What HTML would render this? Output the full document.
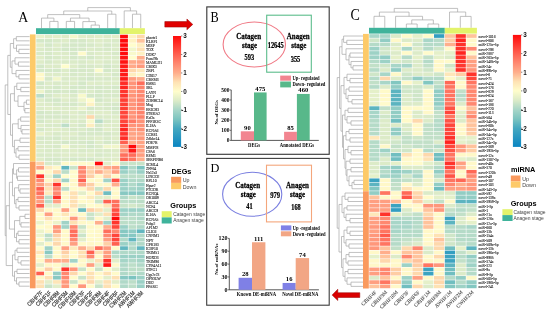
<!DOCTYPE html>
<html><head><meta charset="utf-8"><style>
html,body{margin:0;padding:0;background:#fff;width:550px;height:313px;overflow:hidden;}
svg{display:block;filter:blur(0.3px);}
</style></head><body>
<svg width="550" height="313" viewBox="0 0 550 313">
<rect width="550" height="313" fill="#fff"/>
<text transform="translate(18.20,22.00) scale(1,1.080)" font-family="Liberation Serif" font-size="13.80" font-weight="normal" fill="#000" text-anchor="start" >A</text>
<path d="M49.77 21.40L58.04 21.40M49.77 21.40L49.77 28.20M58.04 21.40L58.04 28.20M41.50 18.10L53.91 18.10M41.50 18.10L41.50 28.20M53.91 18.10L53.91 21.40M66.31 21.40L74.58 21.40M66.31 21.40L66.31 28.20M74.58 21.40L74.58 28.20M91.12 25.10L99.39 25.10M91.12 25.10L91.12 28.20M99.39 25.10L99.39 28.20M82.85 21.60L95.25 21.60M82.85 21.60L82.85 28.20M95.25 21.60L95.25 25.10M70.44 18.10L89.05 18.10M70.44 18.10L70.44 21.40M89.05 18.10L89.05 21.60M47.70 14.60L79.75 14.60M47.70 14.60L47.70 18.10M79.75 14.60L79.75 18.10M107.66 14.20L115.93 14.20M107.66 14.20L107.66 28.20M115.93 14.20L115.93 28.20M63.73 11.00L111.79 11.00M63.73 11.00L63.73 14.60M111.79 11.00L111.79 14.20M132.47 14.20L140.74 14.20M132.47 14.20L132.47 28.20M140.74 14.20L140.74 28.20M124.20 10.90L136.61 10.90M124.20 10.90L124.20 28.20M136.61 10.90L136.61 14.20M87.76 7.60L130.40 7.60M87.76 7.60L87.76 11.00M130.40 7.60L130.40 10.90" stroke="#a6a6a6" stroke-width="0.7" fill="none"/>
<rect x="36" y="28.2" width="83.8" height="5.9" fill="#3fb39b"/>
<rect x="119.8" y="28.2" width="25.1" height="5.9" fill="#e3f36b"/>
<rect x="29.9" y="34.4" width="5.7" height="127.3" fill="#fdca69"/>
<rect x="29.9" y="161.7" width="5.7" height="126.6" fill="#fa9a5e"/>
<rect x="36.27" y="34.77" width="7.83" height="3.68" fill="#eaf2ca"/>
<rect x="44.66" y="34.77" width="7.83" height="3.68" fill="#e0edc8"/>
<rect x="53.04" y="34.77" width="7.83" height="3.68" fill="#e4efc9"/>
<rect x="61.41" y="34.77" width="7.83" height="3.68" fill="#dfecc8"/>
<rect x="69.80" y="34.77" width="7.83" height="3.68" fill="#f4f8cb"/>
<rect x="78.18" y="34.77" width="7.83" height="3.68" fill="#e2eec9"/>
<rect x="86.56" y="34.77" width="7.83" height="3.68" fill="#dfecc8"/>
<rect x="94.94" y="34.77" width="7.83" height="3.68" fill="#e3efc9"/>
<rect x="103.32" y="34.77" width="7.83" height="3.68" fill="#dfecc8"/>
<rect x="111.70" y="34.77" width="7.83" height="3.68" fill="#e2eec9"/>
<rect x="120.08" y="34.77" width="7.83" height="3.68" fill="#ff0a0a"/>
<rect x="128.46" y="34.77" width="7.83" height="3.68" fill="#fff2c2"/>
<rect x="136.84" y="34.77" width="7.83" height="3.68" fill="#fed8ac"/>
<rect x="36.27" y="39.01" width="7.83" height="3.68" fill="#d4e8c8"/>
<rect x="44.66" y="39.01" width="7.83" height="3.68" fill="#d4e8c8"/>
<rect x="53.04" y="39.01" width="7.83" height="3.68" fill="#d9eac8"/>
<rect x="61.41" y="39.01" width="7.83" height="3.68" fill="#deecc8"/>
<rect x="69.80" y="39.01" width="7.83" height="3.68" fill="#d5e8c8"/>
<rect x="78.18" y="39.01" width="7.83" height="3.68" fill="#d6e8c8"/>
<rect x="86.56" y="39.01" width="7.83" height="3.68" fill="#dcebc8"/>
<rect x="94.94" y="39.01" width="7.83" height="3.68" fill="#dfecc8"/>
<rect x="103.32" y="39.01" width="7.83" height="3.68" fill="#dbebc8"/>
<rect x="111.70" y="39.01" width="7.83" height="3.68" fill="#d9eac8"/>
<rect x="120.08" y="39.01" width="7.83" height="3.68" fill="#ff0a0a"/>
<rect x="128.46" y="39.01" width="7.83" height="3.68" fill="#fff2c2"/>
<rect x="136.84" y="39.01" width="7.83" height="3.68" fill="#ffc39c"/>
<rect x="36.27" y="43.23" width="7.83" height="3.68" fill="#e0edc8"/>
<rect x="44.66" y="43.23" width="7.83" height="3.68" fill="#d4e8c8"/>
<rect x="53.04" y="43.23" width="7.83" height="3.68" fill="#deecc8"/>
<rect x="61.41" y="43.23" width="7.83" height="3.68" fill="#d7e9c8"/>
<rect x="69.80" y="43.23" width="7.83" height="3.68" fill="#d5e8c8"/>
<rect x="78.18" y="43.23" width="7.83" height="3.68" fill="#d5e8c8"/>
<rect x="86.56" y="43.23" width="7.83" height="3.68" fill="#d7e9c8"/>
<rect x="94.94" y="43.23" width="7.83" height="3.68" fill="#ddecc8"/>
<rect x="103.32" y="43.23" width="7.83" height="3.68" fill="#d6e8c8"/>
<rect x="111.70" y="43.23" width="7.83" height="3.68" fill="#dbebc8"/>
<rect x="120.08" y="43.23" width="7.83" height="3.68" fill="#ff0a0a"/>
<rect x="128.46" y="43.23" width="7.83" height="3.68" fill="#fffdcc"/>
<rect x="136.84" y="43.23" width="7.83" height="3.68" fill="#feedbe"/>
<rect x="36.27" y="47.46" width="7.83" height="3.68" fill="#dcebc8"/>
<rect x="44.66" y="47.46" width="7.83" height="3.68" fill="#d8e9c8"/>
<rect x="53.04" y="47.46" width="7.83" height="3.68" fill="#dbebc8"/>
<rect x="61.41" y="47.46" width="7.83" height="3.68" fill="#d4e8c8"/>
<rect x="69.80" y="47.46" width="7.83" height="3.68" fill="#d4e8c8"/>
<rect x="78.18" y="47.46" width="7.83" height="3.68" fill="#d6e8c8"/>
<rect x="86.56" y="47.46" width="7.83" height="3.68" fill="#ddebc8"/>
<rect x="94.94" y="47.46" width="7.83" height="3.68" fill="#d9eac8"/>
<rect x="103.32" y="47.46" width="7.83" height="3.68" fill="#d7e9c8"/>
<rect x="111.70" y="47.46" width="7.83" height="3.68" fill="#dbebc8"/>
<rect x="120.08" y="47.46" width="7.83" height="3.68" fill="#ff0a0a"/>
<rect x="128.46" y="47.46" width="7.83" height="3.68" fill="#f1f6ca"/>
<rect x="136.84" y="47.46" width="7.83" height="3.68" fill="#fee2b4"/>
<rect x="36.27" y="51.70" width="7.83" height="3.68" fill="#d9eac8"/>
<rect x="44.66" y="51.70" width="7.83" height="3.68" fill="#d7e9c8"/>
<rect x="53.04" y="51.70" width="7.83" height="3.68" fill="#ddecc8"/>
<rect x="61.41" y="51.70" width="7.83" height="3.68" fill="#ddebc8"/>
<rect x="69.80" y="51.70" width="7.83" height="3.68" fill="#d6e8c8"/>
<rect x="78.18" y="51.70" width="7.83" height="3.68" fill="#fffaca"/>
<rect x="86.56" y="51.70" width="7.83" height="3.68" fill="#daeac8"/>
<rect x="94.94" y="51.70" width="7.83" height="3.68" fill="#deecc8"/>
<rect x="103.32" y="51.70" width="7.83" height="3.68" fill="#ddebc8"/>
<rect x="111.70" y="51.70" width="7.83" height="3.68" fill="#d7e9c8"/>
<rect x="120.08" y="51.70" width="7.83" height="3.68" fill="#ff0a0a"/>
<rect x="128.46" y="51.70" width="7.83" height="3.68" fill="#f8f9cb"/>
<rect x="136.84" y="51.70" width="7.83" height="3.68" fill="#fff2c2"/>
<rect x="36.27" y="55.93" width="7.83" height="3.68" fill="#e0edc8"/>
<rect x="44.66" y="55.93" width="7.83" height="3.68" fill="#d5e8c8"/>
<rect x="53.04" y="55.93" width="7.83" height="3.68" fill="#d9eac8"/>
<rect x="61.41" y="55.93" width="7.83" height="3.68" fill="#ddecc8"/>
<rect x="69.80" y="55.93" width="7.83" height="3.68" fill="#d5e8c8"/>
<rect x="78.18" y="55.93" width="7.83" height="3.68" fill="#daeac8"/>
<rect x="86.56" y="55.93" width="7.83" height="3.68" fill="#d4e8c8"/>
<rect x="94.94" y="55.93" width="7.83" height="3.68" fill="#dcebc8"/>
<rect x="103.32" y="55.93" width="7.83" height="3.68" fill="#ddecc8"/>
<rect x="111.70" y="55.93" width="7.83" height="3.68" fill="#dbebc8"/>
<rect x="120.08" y="55.93" width="7.83" height="3.68" fill="#ff1311"/>
<rect x="128.46" y="55.93" width="7.83" height="3.68" fill="#fffdcc"/>
<rect x="136.84" y="55.93" width="7.83" height="3.68" fill="#ffae8c"/>
<rect x="36.27" y="60.16" width="7.83" height="3.68" fill="#deecc8"/>
<rect x="44.66" y="60.16" width="7.83" height="3.68" fill="#d7e9c8"/>
<rect x="53.04" y="60.16" width="7.83" height="3.68" fill="#ddebc8"/>
<rect x="61.41" y="60.16" width="7.83" height="3.68" fill="#dbebc8"/>
<rect x="69.80" y="60.16" width="7.83" height="3.68" fill="#dbebc8"/>
<rect x="78.18" y="60.16" width="7.83" height="3.68" fill="#d9eac8"/>
<rect x="86.56" y="60.16" width="7.83" height="3.68" fill="#deecc8"/>
<rect x="94.94" y="60.16" width="7.83" height="3.68" fill="#dfecc8"/>
<rect x="103.32" y="60.16" width="7.83" height="3.68" fill="#daeac8"/>
<rect x="111.70" y="60.16" width="7.83" height="3.68" fill="#dcebc8"/>
<rect x="120.08" y="60.16" width="7.83" height="3.68" fill="#ff1311"/>
<rect x="128.46" y="60.16" width="7.83" height="3.68" fill="#ffa988"/>
<rect x="136.84" y="60.16" width="7.83" height="3.68" fill="#ffa384"/>
<rect x="36.27" y="64.39" width="7.83" height="3.68" fill="#d4e8c8"/>
<rect x="44.66" y="64.39" width="7.83" height="3.68" fill="#ddebc8"/>
<rect x="53.04" y="64.39" width="7.83" height="3.68" fill="#dcebc8"/>
<rect x="61.41" y="64.39" width="7.83" height="3.68" fill="#fffdcc"/>
<rect x="69.80" y="64.39" width="7.83" height="3.68" fill="#deecc8"/>
<rect x="78.18" y="64.39" width="7.83" height="3.68" fill="#d7e9c8"/>
<rect x="86.56" y="64.39" width="7.83" height="3.68" fill="#d8e9c8"/>
<rect x="94.94" y="64.39" width="7.83" height="3.68" fill="#dcebc8"/>
<rect x="103.32" y="64.39" width="7.83" height="3.68" fill="#d3e7c8"/>
<rect x="111.70" y="64.39" width="7.83" height="3.68" fill="#d9eac8"/>
<rect x="120.08" y="64.39" width="7.83" height="3.68" fill="#ff1b18"/>
<rect x="128.46" y="64.39" width="7.83" height="3.68" fill="#ffa988"/>
<rect x="136.84" y="64.39" width="7.83" height="3.68" fill="#ff997c"/>
<rect x="36.27" y="68.62" width="7.83" height="3.68" fill="#d5e8c8"/>
<rect x="44.66" y="68.62" width="7.83" height="3.68" fill="#d5e8c8"/>
<rect x="53.04" y="68.62" width="7.83" height="3.68" fill="#d4e8c8"/>
<rect x="61.41" y="68.62" width="7.83" height="3.68" fill="#ddecc8"/>
<rect x="69.80" y="68.62" width="7.83" height="3.68" fill="#d5e8c8"/>
<rect x="78.18" y="68.62" width="7.83" height="3.68" fill="#d6e8c8"/>
<rect x="86.56" y="68.62" width="7.83" height="3.68" fill="#d8e9c8"/>
<rect x="94.94" y="68.62" width="7.83" height="3.68" fill="#fcfbcc"/>
<rect x="103.32" y="68.62" width="7.83" height="3.68" fill="#d4e8c8"/>
<rect x="111.70" y="68.62" width="7.83" height="3.68" fill="#d9eac8"/>
<rect x="120.08" y="68.62" width="7.83" height="3.68" fill="#ff1b18"/>
<rect x="128.46" y="68.62" width="7.83" height="3.68" fill="#fed8ac"/>
<rect x="136.84" y="68.62" width="7.83" height="3.68" fill="#fee7b9"/>
<rect x="36.27" y="72.85" width="7.83" height="3.68" fill="#fff9c8"/>
<rect x="44.66" y="72.85" width="7.83" height="3.68" fill="#deecc8"/>
<rect x="53.04" y="72.85" width="7.83" height="3.68" fill="#ddecc8"/>
<rect x="61.41" y="72.85" width="7.83" height="3.68" fill="#deecc8"/>
<rect x="69.80" y="72.85" width="7.83" height="3.68" fill="#d7e9c8"/>
<rect x="78.18" y="72.85" width="7.83" height="3.68" fill="#d9eac8"/>
<rect x="86.56" y="72.85" width="7.83" height="3.68" fill="#d8e9c8"/>
<rect x="94.94" y="72.85" width="7.83" height="3.68" fill="#deecc8"/>
<rect x="103.32" y="72.85" width="7.83" height="3.68" fill="#dfecc8"/>
<rect x="111.70" y="72.85" width="7.83" height="3.68" fill="#d5e8c8"/>
<rect x="120.08" y="72.85" width="7.83" height="3.68" fill="#ff1b18"/>
<rect x="128.46" y="72.85" width="7.83" height="3.68" fill="#feedbe"/>
<rect x="136.84" y="72.85" width="7.83" height="3.68" fill="#fff8c7"/>
<rect x="36.27" y="77.08" width="7.83" height="3.68" fill="#fff8c7"/>
<rect x="44.66" y="77.08" width="7.83" height="3.68" fill="#d6e8c8"/>
<rect x="53.04" y="77.08" width="7.83" height="3.68" fill="#f1f6ca"/>
<rect x="61.41" y="77.08" width="7.83" height="3.68" fill="#daeac8"/>
<rect x="69.80" y="77.08" width="7.83" height="3.68" fill="#dbebc8"/>
<rect x="78.18" y="77.08" width="7.83" height="3.68" fill="#d7e9c8"/>
<rect x="86.56" y="77.08" width="7.83" height="3.68" fill="#d3e7c8"/>
<rect x="94.94" y="77.08" width="7.83" height="3.68" fill="#d9eac8"/>
<rect x="103.32" y="77.08" width="7.83" height="3.68" fill="#d8e9c8"/>
<rect x="111.70" y="77.08" width="7.83" height="3.68" fill="#dbebc8"/>
<rect x="120.08" y="77.08" width="7.83" height="3.68" fill="#ff1b18"/>
<rect x="128.46" y="77.08" width="7.83" height="3.68" fill="#ff9e80"/>
<rect x="136.84" y="77.08" width="7.83" height="3.68" fill="#ffae8c"/>
<rect x="36.27" y="81.31" width="7.83" height="3.68" fill="#d2e7c8"/>
<rect x="44.66" y="81.31" width="7.83" height="3.68" fill="#ddebc8"/>
<rect x="53.04" y="81.31" width="7.83" height="3.68" fill="#daeac8"/>
<rect x="61.41" y="81.31" width="7.83" height="3.68" fill="#dcebc8"/>
<rect x="69.80" y="81.31" width="7.83" height="3.68" fill="#dcebc8"/>
<rect x="78.18" y="81.31" width="7.83" height="3.68" fill="#d4e8c8"/>
<rect x="86.56" y="81.31" width="7.83" height="3.68" fill="#dfecc8"/>
<rect x="94.94" y="81.31" width="7.83" height="3.68" fill="#ddecc8"/>
<rect x="103.32" y="81.31" width="7.83" height="3.68" fill="#deecc8"/>
<rect x="111.70" y="81.31" width="7.83" height="3.68" fill="#ddecc8"/>
<rect x="120.08" y="81.31" width="7.83" height="3.68" fill="#ff2c26"/>
<rect x="128.46" y="81.31" width="7.83" height="3.68" fill="#ff9378"/>
<rect x="136.84" y="81.31" width="7.83" height="3.68" fill="#ff6d5a"/>
<rect x="36.27" y="85.54" width="7.83" height="3.68" fill="#d8e9c8"/>
<rect x="44.66" y="85.54" width="7.83" height="3.68" fill="#d9eac8"/>
<rect x="53.04" y="85.54" width="7.83" height="3.68" fill="#d4e8c8"/>
<rect x="61.41" y="85.54" width="7.83" height="3.68" fill="#dcebc8"/>
<rect x="69.80" y="85.54" width="7.83" height="3.68" fill="#d4e8c8"/>
<rect x="78.18" y="85.54" width="7.83" height="3.68" fill="#d4e8c8"/>
<rect x="86.56" y="85.54" width="7.83" height="3.68" fill="#d6e8c8"/>
<rect x="94.94" y="85.54" width="7.83" height="3.68" fill="#d5e8c8"/>
<rect x="103.32" y="85.54" width="7.83" height="3.68" fill="#d8e9c8"/>
<rect x="111.70" y="85.54" width="7.83" height="3.68" fill="#d4e8c8"/>
<rect x="120.08" y="85.54" width="7.83" height="3.68" fill="#ff241f"/>
<rect x="128.46" y="85.54" width="7.83" height="3.68" fill="#ff9378"/>
<rect x="136.84" y="85.54" width="7.83" height="3.68" fill="#ff836c"/>
<rect x="36.27" y="89.77" width="7.83" height="3.68" fill="#eef4ca"/>
<rect x="44.66" y="89.77" width="7.83" height="3.68" fill="#d5e8c8"/>
<rect x="53.04" y="89.77" width="7.83" height="3.68" fill="#d4e8c8"/>
<rect x="61.41" y="89.77" width="7.83" height="3.68" fill="#d8e9c8"/>
<rect x="69.80" y="89.77" width="7.83" height="3.68" fill="#d3e7c8"/>
<rect x="78.18" y="89.77" width="7.83" height="3.68" fill="#deecc8"/>
<rect x="86.56" y="89.77" width="7.83" height="3.68" fill="#dcebc8"/>
<rect x="94.94" y="89.77" width="7.83" height="3.68" fill="#d5e8c8"/>
<rect x="103.32" y="89.77" width="7.83" height="3.68" fill="#d7e9c8"/>
<rect x="111.70" y="89.77" width="7.83" height="3.68" fill="#d8e9c8"/>
<rect x="120.08" y="89.77" width="7.83" height="3.68" fill="#ff352d"/>
<rect x="128.46" y="89.77" width="7.83" height="3.68" fill="#ff997c"/>
<rect x="136.84" y="89.77" width="7.83" height="3.68" fill="#ff8971"/>
<rect x="36.27" y="94.00" width="7.83" height="3.68" fill="#bddec8"/>
<rect x="44.66" y="94.00" width="7.83" height="3.68" fill="#d5e8c8"/>
<rect x="53.04" y="94.00" width="7.83" height="3.68" fill="#deecc8"/>
<rect x="61.41" y="94.00" width="7.83" height="3.68" fill="#e0edc8"/>
<rect x="69.80" y="94.00" width="7.83" height="3.68" fill="#daeac8"/>
<rect x="78.18" y="94.00" width="7.83" height="3.68" fill="#f8f9cb"/>
<rect x="86.56" y="94.00" width="7.83" height="3.68" fill="#d4e8c8"/>
<rect x="94.94" y="94.00" width="7.83" height="3.68" fill="#d4e8c8"/>
<rect x="103.32" y="94.00" width="7.83" height="3.68" fill="#d8e9c8"/>
<rect x="111.70" y="94.00" width="7.83" height="3.68" fill="#d7e9c8"/>
<rect x="120.08" y="94.00" width="7.83" height="3.68" fill="#ff352d"/>
<rect x="128.46" y="94.00" width="7.83" height="3.68" fill="#ff9378"/>
<rect x="136.84" y="94.00" width="7.83" height="3.68" fill="#ff8971"/>
<rect x="36.27" y="98.23" width="7.83" height="3.68" fill="#deecc8"/>
<rect x="44.66" y="98.23" width="7.83" height="3.68" fill="#d5e8c8"/>
<rect x="53.04" y="98.23" width="7.83" height="3.68" fill="#d3e7c8"/>
<rect x="61.41" y="98.23" width="7.83" height="3.68" fill="#dfecc8"/>
<rect x="69.80" y="98.23" width="7.83" height="3.68" fill="#daeac8"/>
<rect x="78.18" y="98.23" width="7.83" height="3.68" fill="#eef4ca"/>
<rect x="86.56" y="98.23" width="7.83" height="3.68" fill="#fffdcc"/>
<rect x="94.94" y="98.23" width="7.83" height="3.68" fill="#d3e7c8"/>
<rect x="103.32" y="98.23" width="7.83" height="3.68" fill="#daeac8"/>
<rect x="111.70" y="98.23" width="7.83" height="3.68" fill="#e0edc8"/>
<rect x="120.08" y="98.23" width="7.83" height="3.68" fill="#ff3e34"/>
<rect x="128.46" y="98.23" width="7.83" height="3.68" fill="#ff9378"/>
<rect x="136.84" y="98.23" width="7.83" height="3.68" fill="#ff836c"/>
<rect x="36.27" y="102.46" width="7.83" height="3.68" fill="#deecc8"/>
<rect x="44.66" y="102.46" width="7.83" height="3.68" fill="#ddebc8"/>
<rect x="53.04" y="102.46" width="7.83" height="3.68" fill="#d7e9c8"/>
<rect x="61.41" y="102.46" width="7.83" height="3.68" fill="#d8e9c8"/>
<rect x="69.80" y="102.46" width="7.83" height="3.68" fill="#d5e8c8"/>
<rect x="78.18" y="102.46" width="7.83" height="3.68" fill="#ddecc8"/>
<rect x="86.56" y="102.46" width="7.83" height="3.68" fill="#fff2c2"/>
<rect x="94.94" y="102.46" width="7.83" height="3.68" fill="#ddecc8"/>
<rect x="103.32" y="102.46" width="7.83" height="3.68" fill="#d8e9c8"/>
<rect x="111.70" y="102.46" width="7.83" height="3.68" fill="#d6e8c8"/>
<rect x="120.08" y="102.46" width="7.83" height="3.68" fill="#ff3e34"/>
<rect x="128.46" y="102.46" width="7.83" height="3.68" fill="#ff9378"/>
<rect x="136.84" y="102.46" width="7.83" height="3.68" fill="#ff836c"/>
<rect x="36.27" y="106.69" width="7.83" height="3.68" fill="#ddecc8"/>
<rect x="44.66" y="106.69" width="7.83" height="3.68" fill="#e0edc8"/>
<rect x="53.04" y="106.69" width="7.83" height="3.68" fill="#deecc8"/>
<rect x="61.41" y="106.69" width="7.83" height="3.68" fill="#ddecc8"/>
<rect x="69.80" y="106.69" width="7.83" height="3.68" fill="#ddecc8"/>
<rect x="78.18" y="106.69" width="7.83" height="3.68" fill="#eaf2ca"/>
<rect x="86.56" y="106.69" width="7.83" height="3.68" fill="#d6e8c8"/>
<rect x="94.94" y="106.69" width="7.83" height="3.68" fill="#daeac8"/>
<rect x="103.32" y="106.69" width="7.83" height="3.68" fill="#d8e9c8"/>
<rect x="111.70" y="106.69" width="7.83" height="3.68" fill="#d3e7c8"/>
<rect x="120.08" y="106.69" width="7.83" height="3.68" fill="#ff3e34"/>
<rect x="128.46" y="106.69" width="7.83" height="3.68" fill="#ff9378"/>
<rect x="136.84" y="106.69" width="7.83" height="3.68" fill="#ff836c"/>
<rect x="36.27" y="110.92" width="7.83" height="3.68" fill="#d3e7c8"/>
<rect x="44.66" y="110.92" width="7.83" height="3.68" fill="#d7e9c8"/>
<rect x="53.04" y="110.92" width="7.83" height="3.68" fill="#d7e9c8"/>
<rect x="61.41" y="110.92" width="7.83" height="3.68" fill="#ddebc8"/>
<rect x="69.80" y="110.92" width="7.83" height="3.68" fill="#dfecc8"/>
<rect x="78.18" y="110.92" width="7.83" height="3.68" fill="#d9eac8"/>
<rect x="86.56" y="110.92" width="7.83" height="3.68" fill="#dfecc8"/>
<rect x="94.94" y="110.92" width="7.83" height="3.68" fill="#e0edc8"/>
<rect x="103.32" y="110.92" width="7.83" height="3.68" fill="#dfecc8"/>
<rect x="111.70" y="110.92" width="7.83" height="3.68" fill="#d8e9c8"/>
<rect x="120.08" y="110.92" width="7.83" height="3.68" fill="#ff463b"/>
<rect x="128.46" y="110.92" width="7.83" height="3.68" fill="#ff9378"/>
<rect x="136.84" y="110.92" width="7.83" height="3.68" fill="#ff836c"/>
<rect x="36.27" y="115.15" width="7.83" height="3.68" fill="#d6e8c8"/>
<rect x="44.66" y="115.15" width="7.83" height="3.68" fill="#d6e8c8"/>
<rect x="53.04" y="115.15" width="7.83" height="3.68" fill="#d6e8c8"/>
<rect x="61.41" y="115.15" width="7.83" height="3.68" fill="#d6e8c8"/>
<rect x="69.80" y="115.15" width="7.83" height="3.68" fill="#dcebc8"/>
<rect x="78.18" y="115.15" width="7.83" height="3.68" fill="#dfecc8"/>
<rect x="86.56" y="115.15" width="7.83" height="3.68" fill="#fed8ac"/>
<rect x="94.94" y="115.15" width="7.83" height="3.68" fill="#daeac8"/>
<rect x="103.32" y="115.15" width="7.83" height="3.68" fill="#dcebc8"/>
<rect x="111.70" y="115.15" width="7.83" height="3.68" fill="#ddecc8"/>
<rect x="120.08" y="115.15" width="7.83" height="3.68" fill="#ff463b"/>
<rect x="128.46" y="115.15" width="7.83" height="3.68" fill="#ff9378"/>
<rect x="136.84" y="115.15" width="7.83" height="3.68" fill="#ff836c"/>
<rect x="36.27" y="119.38" width="7.83" height="3.68" fill="#d4e8c8"/>
<rect x="44.66" y="119.38" width="7.83" height="3.68" fill="#dcebc8"/>
<rect x="53.04" y="119.38" width="7.83" height="3.68" fill="#dfecc8"/>
<rect x="61.41" y="119.38" width="7.83" height="3.68" fill="#ddecc8"/>
<rect x="69.80" y="119.38" width="7.83" height="3.68" fill="#ddecc8"/>
<rect x="78.18" y="119.38" width="7.83" height="3.68" fill="#daeac8"/>
<rect x="86.56" y="119.38" width="7.83" height="3.68" fill="#f8f9cb"/>
<rect x="94.94" y="119.38" width="7.83" height="3.68" fill="#b8dcc8"/>
<rect x="103.32" y="119.38" width="7.83" height="3.68" fill="#d8e9c8"/>
<rect x="111.70" y="119.38" width="7.83" height="3.68" fill="#ddecc8"/>
<rect x="120.08" y="119.38" width="7.83" height="3.68" fill="#ff463b"/>
<rect x="128.46" y="119.38" width="7.83" height="3.68" fill="#ff7863"/>
<rect x="136.84" y="119.38" width="7.83" height="3.68" fill="#ff9378"/>
<rect x="36.27" y="123.61" width="7.83" height="3.68" fill="#e0edc8"/>
<rect x="44.66" y="123.61" width="7.83" height="3.68" fill="#d9eac8"/>
<rect x="53.04" y="123.61" width="7.83" height="3.68" fill="#d9eac8"/>
<rect x="61.41" y="123.61" width="7.83" height="3.68" fill="#bddec8"/>
<rect x="69.80" y="123.61" width="7.83" height="3.68" fill="#ddebc8"/>
<rect x="78.18" y="123.61" width="7.83" height="3.68" fill="#d5e8c8"/>
<rect x="86.56" y="123.61" width="7.83" height="3.68" fill="#feedbe"/>
<rect x="94.94" y="123.61" width="7.83" height="3.68" fill="#d5e8c8"/>
<rect x="103.32" y="123.61" width="7.83" height="3.68" fill="#dfecc8"/>
<rect x="111.70" y="123.61" width="7.83" height="3.68" fill="#ddecc8"/>
<rect x="120.08" y="123.61" width="7.83" height="3.68" fill="#ff352d"/>
<rect x="128.46" y="123.61" width="7.83" height="3.68" fill="#ff9378"/>
<rect x="136.84" y="123.61" width="7.83" height="3.68" fill="#ff9378"/>
<rect x="36.27" y="127.84" width="7.83" height="3.68" fill="#d5e8c8"/>
<rect x="44.66" y="127.84" width="7.83" height="3.68" fill="#deecc8"/>
<rect x="53.04" y="127.84" width="7.83" height="3.68" fill="#e0edc8"/>
<rect x="61.41" y="127.84" width="7.83" height="3.68" fill="#dcebc8"/>
<rect x="69.80" y="127.84" width="7.83" height="3.68" fill="#d8e9c8"/>
<rect x="78.18" y="127.84" width="7.83" height="3.68" fill="#dbebc8"/>
<rect x="86.56" y="127.84" width="7.83" height="3.68" fill="#d5e8c8"/>
<rect x="94.94" y="127.84" width="7.83" height="3.68" fill="#d3e7c8"/>
<rect x="103.32" y="127.84" width="7.83" height="3.68" fill="#e0edc8"/>
<rect x="111.70" y="127.84" width="7.83" height="3.68" fill="#dcebc8"/>
<rect x="120.08" y="127.84" width="7.83" height="3.68" fill="#ff241f"/>
<rect x="128.46" y="127.84" width="7.83" height="3.68" fill="#ff9e80"/>
<rect x="136.84" y="127.84" width="7.83" height="3.68" fill="#ff9378"/>
<rect x="36.27" y="132.07" width="7.83" height="3.68" fill="#eaf2ca"/>
<rect x="44.66" y="132.07" width="7.83" height="3.68" fill="#dfecc8"/>
<rect x="53.04" y="132.07" width="7.83" height="3.68" fill="#d9eac8"/>
<rect x="61.41" y="132.07" width="7.83" height="3.68" fill="#deecc8"/>
<rect x="69.80" y="132.07" width="7.83" height="3.68" fill="#deecc8"/>
<rect x="78.18" y="132.07" width="7.83" height="3.68" fill="#d6e8c8"/>
<rect x="86.56" y="132.07" width="7.83" height="3.68" fill="#d7e9c8"/>
<rect x="94.94" y="132.07" width="7.83" height="3.68" fill="#d7e9c8"/>
<rect x="103.32" y="132.07" width="7.83" height="3.68" fill="#d6e8c8"/>
<rect x="111.70" y="132.07" width="7.83" height="3.68" fill="#dbebc8"/>
<rect x="120.08" y="132.07" width="7.83" height="3.68" fill="#ff352d"/>
<rect x="128.46" y="132.07" width="7.83" height="3.68" fill="#ffa384"/>
<rect x="136.84" y="132.07" width="7.83" height="3.68" fill="#ffa384"/>
<rect x="36.27" y="136.30" width="7.83" height="3.68" fill="#d7e9c8"/>
<rect x="44.66" y="136.30" width="7.83" height="3.68" fill="#d9eac8"/>
<rect x="53.04" y="136.30" width="7.83" height="3.68" fill="#d5e8c8"/>
<rect x="61.41" y="136.30" width="7.83" height="3.68" fill="#dfecc8"/>
<rect x="69.80" y="136.30" width="7.83" height="3.68" fill="#d8e9c8"/>
<rect x="78.18" y="136.30" width="7.83" height="3.68" fill="#d9eac8"/>
<rect x="86.56" y="136.30" width="7.83" height="3.68" fill="#dbebc8"/>
<rect x="94.94" y="136.30" width="7.83" height="3.68" fill="#dfecc8"/>
<rect x="103.32" y="136.30" width="7.83" height="3.68" fill="#d9eac8"/>
<rect x="111.70" y="136.30" width="7.83" height="3.68" fill="#dfecc8"/>
<rect x="120.08" y="136.30" width="7.83" height="3.68" fill="#ff2c26"/>
<rect x="128.46" y="136.30" width="7.83" height="3.68" fill="#ffa384"/>
<rect x="136.84" y="136.30" width="7.83" height="3.68" fill="#ff997c"/>
<rect x="36.27" y="140.53" width="7.83" height="3.68" fill="#daeac8"/>
<rect x="44.66" y="140.53" width="7.83" height="3.68" fill="#daeac8"/>
<rect x="53.04" y="140.53" width="7.83" height="3.68" fill="#daeac8"/>
<rect x="61.41" y="140.53" width="7.83" height="3.68" fill="#d3e7c8"/>
<rect x="69.80" y="140.53" width="7.83" height="3.68" fill="#d9eac8"/>
<rect x="78.18" y="140.53" width="7.83" height="3.68" fill="#d6e8c8"/>
<rect x="86.56" y="140.53" width="7.83" height="3.68" fill="#d3e7c8"/>
<rect x="94.94" y="140.53" width="7.83" height="3.68" fill="#ddecc8"/>
<rect x="103.32" y="140.53" width="7.83" height="3.68" fill="#d5e8c8"/>
<rect x="111.70" y="140.53" width="7.83" height="3.68" fill="#daeac8"/>
<rect x="120.08" y="140.53" width="7.83" height="3.68" fill="#ff6050"/>
<rect x="128.46" y="140.53" width="7.83" height="3.68" fill="#ffae8c"/>
<rect x="136.84" y="140.53" width="7.83" height="3.68" fill="#ffa384"/>
<rect x="36.27" y="144.76" width="7.83" height="3.68" fill="#ddebc8"/>
<rect x="44.66" y="144.76" width="7.83" height="3.68" fill="#dbebc8"/>
<rect x="53.04" y="144.76" width="7.83" height="3.68" fill="#d8e9c8"/>
<rect x="61.41" y="144.76" width="7.83" height="3.68" fill="#f4f8cb"/>
<rect x="69.80" y="144.76" width="7.83" height="3.68" fill="#dbebc8"/>
<rect x="78.18" y="144.76" width="7.83" height="3.68" fill="#ddecc8"/>
<rect x="86.56" y="144.76" width="7.83" height="3.68" fill="#d4e8c8"/>
<rect x="94.94" y="144.76" width="7.83" height="3.68" fill="#dbebc8"/>
<rect x="103.32" y="144.76" width="7.83" height="3.68" fill="#f1f6ca"/>
<rect x="111.70" y="144.76" width="7.83" height="3.68" fill="#f1f6ca"/>
<rect x="120.08" y="144.76" width="7.83" height="3.68" fill="#ff9f81"/>
<rect x="128.46" y="144.76" width="7.83" height="3.68" fill="#ff0a0a"/>
<rect x="136.84" y="144.76" width="7.83" height="3.68" fill="#ffa384"/>
<rect x="36.27" y="148.99" width="7.83" height="3.68" fill="#ddecc8"/>
<rect x="44.66" y="148.99" width="7.83" height="3.68" fill="#daeac8"/>
<rect x="53.04" y="148.99" width="7.83" height="3.68" fill="#dbebc8"/>
<rect x="61.41" y="148.99" width="7.83" height="3.68" fill="#ddecc8"/>
<rect x="69.80" y="148.99" width="7.83" height="3.68" fill="#dfecc8"/>
<rect x="78.18" y="148.99" width="7.83" height="3.68" fill="#d9eac8"/>
<rect x="86.56" y="148.99" width="7.83" height="3.68" fill="#dcebc8"/>
<rect x="94.94" y="148.99" width="7.83" height="3.68" fill="#daeac8"/>
<rect x="103.32" y="148.99" width="7.83" height="3.68" fill="#daeac8"/>
<rect x="111.70" y="148.99" width="7.83" height="3.68" fill="#ddebc8"/>
<rect x="120.08" y="148.99" width="7.83" height="3.68" fill="#ff977b"/>
<rect x="128.46" y="148.99" width="7.83" height="3.68" fill="#ff1b18"/>
<rect x="136.84" y="148.99" width="7.83" height="3.68" fill="#ff9e80"/>
<rect x="36.27" y="153.22" width="7.83" height="3.68" fill="#d9eac8"/>
<rect x="44.66" y="153.22" width="7.83" height="3.68" fill="#daeac8"/>
<rect x="53.04" y="153.22" width="7.83" height="3.68" fill="#daeac8"/>
<rect x="61.41" y="153.22" width="7.83" height="3.68" fill="#dfecc8"/>
<rect x="69.80" y="153.22" width="7.83" height="3.68" fill="#ddebc8"/>
<rect x="78.18" y="153.22" width="7.83" height="3.68" fill="#deecc8"/>
<rect x="86.56" y="153.22" width="7.83" height="3.68" fill="#dfecc8"/>
<rect x="94.94" y="153.22" width="7.83" height="3.68" fill="#d7e9c8"/>
<rect x="103.32" y="153.22" width="7.83" height="3.68" fill="#dbebc8"/>
<rect x="111.70" y="153.22" width="7.83" height="3.68" fill="#dfecc8"/>
<rect x="120.08" y="153.22" width="7.83" height="3.68" fill="#ff705d"/>
<rect x="128.46" y="153.22" width="7.83" height="3.68" fill="#ff6d5a"/>
<rect x="136.84" y="153.22" width="7.83" height="3.68" fill="#ff9e80"/>
<rect x="36.27" y="157.45" width="7.83" height="3.68" fill="#deecc8"/>
<rect x="44.66" y="157.45" width="7.83" height="3.68" fill="#d5e8c8"/>
<rect x="53.04" y="157.45" width="7.83" height="3.68" fill="#d5e8c8"/>
<rect x="61.41" y="157.45" width="7.83" height="3.68" fill="#d9eac8"/>
<rect x="69.80" y="157.45" width="7.83" height="3.68" fill="#d4e8c8"/>
<rect x="78.18" y="157.45" width="7.83" height="3.68" fill="#d6e8c8"/>
<rect x="86.56" y="157.45" width="7.83" height="3.68" fill="#d4e8c8"/>
<rect x="94.94" y="157.45" width="7.83" height="3.68" fill="#dcebc8"/>
<rect x="103.32" y="157.45" width="7.83" height="3.68" fill="#ddecc8"/>
<rect x="111.70" y="157.45" width="7.83" height="3.68" fill="#dfecc8"/>
<rect x="120.08" y="157.45" width="7.83" height="3.68" fill="#ff6050"/>
<rect x="128.46" y="157.45" width="7.83" height="3.68" fill="#ff7863"/>
<rect x="136.84" y="157.45" width="7.83" height="3.68" fill="#ffae8c"/>
<rect x="36.27" y="161.68" width="7.83" height="3.68" fill="#fecfa6"/>
<rect x="44.66" y="161.68" width="7.83" height="3.68" fill="#d8e9c8"/>
<rect x="53.04" y="161.68" width="7.83" height="3.68" fill="#d8e9c8"/>
<rect x="61.41" y="161.68" width="7.83" height="3.68" fill="#fffac9"/>
<rect x="69.80" y="161.68" width="7.83" height="3.68" fill="#fffac9"/>
<rect x="78.18" y="161.68" width="7.83" height="3.68" fill="#fffac9"/>
<rect x="86.56" y="161.68" width="7.83" height="3.68" fill="#fffac9"/>
<rect x="94.94" y="161.68" width="7.83" height="3.68" fill="#ff0a0a"/>
<rect x="103.32" y="161.68" width="7.83" height="3.68" fill="#e3eec9"/>
<rect x="111.70" y="161.68" width="7.83" height="3.68" fill="#fffac9"/>
<rect x="120.08" y="161.68" width="7.83" height="3.68" fill="#c8e3c8"/>
<rect x="128.46" y="161.68" width="7.83" height="3.68" fill="#c8e3c8"/>
<rect x="136.84" y="161.68" width="7.83" height="3.68" fill="#c8e3c8"/>
<rect x="36.27" y="165.91" width="7.83" height="3.68" fill="#ff9f81"/>
<rect x="44.66" y="165.91" width="7.83" height="3.68" fill="#feebbc"/>
<rect x="53.04" y="165.91" width="7.83" height="3.68" fill="#fff8c8"/>
<rect x="61.41" y="165.91" width="7.83" height="3.68" fill="#60b6c0"/>
<rect x="69.80" y="165.91" width="7.83" height="3.68" fill="#cae4c8"/>
<rect x="78.18" y="165.91" width="7.83" height="3.68" fill="#ff8870"/>
<rect x="86.56" y="165.91" width="7.83" height="3.68" fill="#fecfa6"/>
<rect x="94.94" y="165.91" width="7.83" height="3.68" fill="#fecfa6"/>
<rect x="103.32" y="165.91" width="7.83" height="3.68" fill="#ffae8c"/>
<rect x="111.70" y="165.91" width="7.83" height="3.68" fill="#ff9f81"/>
<rect x="120.08" y="165.91" width="7.83" height="3.68" fill="#87c8c2"/>
<rect x="128.46" y="165.91" width="7.83" height="3.68" fill="#b0d9c8"/>
<rect x="136.84" y="165.91" width="7.83" height="3.68" fill="#7cc4c0"/>
<rect x="36.27" y="170.14" width="7.83" height="3.68" fill="#fffdcc"/>
<rect x="44.66" y="170.14" width="7.83" height="3.68" fill="#fff8c8"/>
<rect x="53.04" y="170.14" width="7.83" height="3.68" fill="#fed8ac"/>
<rect x="61.41" y="170.14" width="7.83" height="3.68" fill="#bcdec8"/>
<rect x="69.80" y="170.14" width="7.83" height="3.68" fill="#fffbcb"/>
<rect x="78.18" y="170.14" width="7.83" height="3.68" fill="#ff8870"/>
<rect x="86.56" y="170.14" width="7.83" height="3.68" fill="#fecfa6"/>
<rect x="94.94" y="170.14" width="7.83" height="3.68" fill="#ffae8c"/>
<rect x="103.32" y="170.14" width="7.83" height="3.68" fill="#fecfa6"/>
<rect x="111.70" y="170.14" width="7.83" height="3.68" fill="#ff9f81"/>
<rect x="120.08" y="170.14" width="7.83" height="3.68" fill="#9bd1c6"/>
<rect x="128.46" y="170.14" width="7.83" height="3.68" fill="#b0d9c8"/>
<rect x="136.84" y="170.14" width="7.83" height="3.68" fill="#9bd1c6"/>
<rect x="36.27" y="174.37" width="7.83" height="3.68" fill="#ff352d"/>
<rect x="44.66" y="174.37" width="7.83" height="3.68" fill="#ecf3ca"/>
<rect x="53.04" y="174.37" width="7.83" height="3.68" fill="#a1d3c7"/>
<rect x="61.41" y="174.37" width="7.83" height="3.68" fill="#fffdcc"/>
<rect x="69.80" y="174.37" width="7.83" height="3.68" fill="#fffdcc"/>
<rect x="78.18" y="174.37" width="7.83" height="3.68" fill="#ff8870"/>
<rect x="86.56" y="174.37" width="7.83" height="3.68" fill="#fecfa6"/>
<rect x="94.94" y="174.37" width="7.83" height="3.68" fill="#fff8c8"/>
<rect x="103.32" y="174.37" width="7.83" height="3.68" fill="#fecfa6"/>
<rect x="111.70" y="174.37" width="7.83" height="3.68" fill="#fffac9"/>
<rect x="120.08" y="174.37" width="7.83" height="3.68" fill="#bcdec8"/>
<rect x="128.46" y="174.37" width="7.83" height="3.68" fill="#bcdec8"/>
<rect x="136.84" y="174.37" width="7.83" height="3.68" fill="#bcdec8"/>
<rect x="36.27" y="178.60" width="7.83" height="3.68" fill="#ff8870"/>
<rect x="44.66" y="178.60" width="7.83" height="3.68" fill="#fff8c8"/>
<rect x="53.04" y="178.60" width="7.83" height="3.68" fill="#fed8ac"/>
<rect x="61.41" y="178.60" width="7.83" height="3.68" fill="#a1d3c7"/>
<rect x="69.80" y="178.60" width="7.83" height="3.68" fill="#fff8c8"/>
<rect x="78.18" y="178.60" width="7.83" height="3.68" fill="#ff6050"/>
<rect x="86.56" y="178.60" width="7.83" height="3.68" fill="#fffac9"/>
<rect x="94.94" y="178.60" width="7.83" height="3.68" fill="#fff8c8"/>
<rect x="103.32" y="178.60" width="7.83" height="3.68" fill="#a1d3c7"/>
<rect x="111.70" y="178.60" width="7.83" height="3.68" fill="#ff4f42"/>
<rect x="120.08" y="178.60" width="7.83" height="3.68" fill="#9bd1c6"/>
<rect x="128.46" y="178.60" width="7.83" height="3.68" fill="#b0d9c8"/>
<rect x="136.84" y="178.60" width="7.83" height="3.68" fill="#b0d9c8"/>
<rect x="36.27" y="182.83" width="7.83" height="3.68" fill="#ff9f81"/>
<rect x="44.66" y="182.83" width="7.83" height="3.68" fill="#fecfa6"/>
<rect x="53.04" y="182.83" width="7.83" height="3.68" fill="#ff352d"/>
<rect x="61.41" y="182.83" width="7.83" height="3.68" fill="#fffac9"/>
<rect x="69.80" y="182.83" width="7.83" height="3.68" fill="#fff8c8"/>
<rect x="78.18" y="182.83" width="7.83" height="3.68" fill="#ff9f81"/>
<rect x="86.56" y="182.83" width="7.83" height="3.68" fill="#fecfa6"/>
<rect x="94.94" y="182.83" width="7.83" height="3.68" fill="#fff8c8"/>
<rect x="103.32" y="182.83" width="7.83" height="3.68" fill="#fff8c8"/>
<rect x="111.70" y="182.83" width="7.83" height="3.68" fill="#ffae8c"/>
<rect x="120.08" y="182.83" width="7.83" height="3.68" fill="#9bd1c6"/>
<rect x="128.46" y="182.83" width="7.83" height="3.68" fill="#b0d9c8"/>
<rect x="136.84" y="182.83" width="7.83" height="3.68" fill="#9bd1c6"/>
<rect x="36.27" y="187.06" width="7.83" height="3.68" fill="#ff6050"/>
<rect x="44.66" y="187.06" width="7.83" height="3.68" fill="#fee1b3"/>
<rect x="53.04" y="187.06" width="7.83" height="3.68" fill="#ff8870"/>
<rect x="61.41" y="187.06" width="7.83" height="3.68" fill="#bcdec8"/>
<rect x="69.80" y="187.06" width="7.83" height="3.68" fill="#fffac9"/>
<rect x="78.18" y="187.06" width="7.83" height="3.68" fill="#fff8c8"/>
<rect x="86.56" y="187.06" width="7.83" height="3.68" fill="#fed8ac"/>
<rect x="94.94" y="187.06" width="7.83" height="3.68" fill="#cae4c8"/>
<rect x="103.32" y="187.06" width="7.83" height="3.68" fill="#fed8ac"/>
<rect x="111.70" y="187.06" width="7.83" height="3.68" fill="#fffac9"/>
<rect x="120.08" y="187.06" width="7.83" height="3.68" fill="#9bd1c6"/>
<rect x="128.46" y="187.06" width="7.83" height="3.68" fill="#a5d5c7"/>
<rect x="136.84" y="187.06" width="7.83" height="3.68" fill="#9bd1c6"/>
<rect x="36.27" y="191.29" width="7.83" height="3.68" fill="#ff705d"/>
<rect x="44.66" y="191.29" width="7.83" height="3.68" fill="#feebbc"/>
<rect x="53.04" y="191.29" width="7.83" height="3.68" fill="#ff8870"/>
<rect x="61.41" y="191.29" width="7.83" height="3.68" fill="#fff8c8"/>
<rect x="69.80" y="191.29" width="7.83" height="3.68" fill="#fee1b3"/>
<rect x="78.18" y="191.29" width="7.83" height="3.68" fill="#e3eec9"/>
<rect x="86.56" y="191.29" width="7.83" height="3.68" fill="#fffac9"/>
<rect x="94.94" y="191.29" width="7.83" height="3.68" fill="#fed8ac"/>
<rect x="103.32" y="191.29" width="7.83" height="3.68" fill="#6fbdc0"/>
<rect x="111.70" y="191.29" width="7.83" height="3.68" fill="#fff8c8"/>
<rect x="120.08" y="191.29" width="7.83" height="3.68" fill="#87c8c2"/>
<rect x="128.46" y="191.29" width="7.83" height="3.68" fill="#87c8c2"/>
<rect x="136.84" y="191.29" width="7.83" height="3.68" fill="#87c8c2"/>
<rect x="36.27" y="195.52" width="7.83" height="3.68" fill="#ff8870"/>
<rect x="44.66" y="195.52" width="7.83" height="3.68" fill="#bcdec8"/>
<rect x="53.04" y="195.52" width="7.83" height="3.68" fill="#ff352d"/>
<rect x="61.41" y="195.52" width="7.83" height="3.68" fill="#fff8c8"/>
<rect x="69.80" y="195.52" width="7.83" height="3.68" fill="#fee1b3"/>
<rect x="78.18" y="195.52" width="7.83" height="3.68" fill="#fffbcb"/>
<rect x="86.56" y="195.52" width="7.83" height="3.68" fill="#feebbc"/>
<rect x="94.94" y="195.52" width="7.83" height="3.68" fill="#e3eec9"/>
<rect x="103.32" y="195.52" width="7.83" height="3.68" fill="#e3eec9"/>
<rect x="111.70" y="195.52" width="7.83" height="3.68" fill="#fffac9"/>
<rect x="120.08" y="195.52" width="7.83" height="3.68" fill="#b0d9c8"/>
<rect x="128.46" y="195.52" width="7.83" height="3.68" fill="#c8e3c8"/>
<rect x="136.84" y="195.52" width="7.83" height="3.68" fill="#bcdec8"/>
<rect x="36.27" y="199.75" width="7.83" height="3.68" fill="#ff9f81"/>
<rect x="44.66" y="199.75" width="7.83" height="3.68" fill="#bcdec8"/>
<rect x="53.04" y="199.75" width="7.83" height="3.68" fill="#ff9f81"/>
<rect x="61.41" y="199.75" width="7.83" height="3.68" fill="#fff8c8"/>
<rect x="69.80" y="199.75" width="7.83" height="3.68" fill="#fee1b3"/>
<rect x="78.18" y="199.75" width="7.83" height="3.68" fill="#fffac9"/>
<rect x="86.56" y="199.75" width="7.83" height="3.68" fill="#fff8c8"/>
<rect x="94.94" y="199.75" width="7.83" height="3.68" fill="#cae4c8"/>
<rect x="103.32" y="199.75" width="7.83" height="3.68" fill="#ff6050"/>
<rect x="111.70" y="199.75" width="7.83" height="3.68" fill="#ff705d"/>
<rect x="120.08" y="199.75" width="7.83" height="3.68" fill="#bcdec8"/>
<rect x="128.46" y="199.75" width="7.83" height="3.68" fill="#bcdec8"/>
<rect x="136.84" y="199.75" width="7.83" height="3.68" fill="#bcdec8"/>
<rect x="36.27" y="203.98" width="7.83" height="3.68" fill="#ff6050"/>
<rect x="44.66" y="203.98" width="7.83" height="3.68" fill="#e3eec9"/>
<rect x="53.04" y="203.98" width="7.83" height="3.68" fill="#e3eec9"/>
<rect x="61.41" y="203.98" width="7.83" height="3.68" fill="#fffbcb"/>
<rect x="69.80" y="203.98" width="7.83" height="3.68" fill="#fee1b3"/>
<rect x="78.18" y="203.98" width="7.83" height="3.68" fill="#e3eec9"/>
<rect x="86.56" y="203.98" width="7.83" height="3.68" fill="#fffdcc"/>
<rect x="94.94" y="203.98" width="7.83" height="3.68" fill="#fffac9"/>
<rect x="103.32" y="203.98" width="7.83" height="3.68" fill="#fee6b8"/>
<rect x="111.70" y="203.98" width="7.83" height="3.68" fill="#ff705d"/>
<rect x="120.08" y="203.98" width="7.83" height="3.68" fill="#c8e3c8"/>
<rect x="128.46" y="203.98" width="7.83" height="3.68" fill="#d4e8c8"/>
<rect x="136.84" y="203.98" width="7.83" height="3.68" fill="#c8e3c8"/>
<rect x="36.27" y="208.21" width="7.83" height="3.68" fill="#fed8ac"/>
<rect x="44.66" y="208.21" width="7.83" height="3.68" fill="#fff8c8"/>
<rect x="53.04" y="208.21" width="7.83" height="3.68" fill="#fff8c8"/>
<rect x="61.41" y="208.21" width="7.83" height="3.68" fill="#ff9f81"/>
<rect x="69.80" y="208.21" width="7.83" height="3.68" fill="#fff8c8"/>
<rect x="78.18" y="208.21" width="7.83" height="3.68" fill="#6fbdc0"/>
<rect x="86.56" y="208.21" width="7.83" height="3.68" fill="#fecfa6"/>
<rect x="94.94" y="208.21" width="7.83" height="3.68" fill="#fee1b3"/>
<rect x="103.32" y="208.21" width="7.83" height="3.68" fill="#e3eec9"/>
<rect x="111.70" y="208.21" width="7.83" height="3.68" fill="#ff4f42"/>
<rect x="120.08" y="208.21" width="7.83" height="3.68" fill="#9bd1c6"/>
<rect x="128.46" y="208.21" width="7.83" height="3.68" fill="#9bd1c6"/>
<rect x="136.84" y="208.21" width="7.83" height="3.68" fill="#9bd1c6"/>
<rect x="36.27" y="212.44" width="7.83" height="3.68" fill="#fffac9"/>
<rect x="44.66" y="212.44" width="7.83" height="3.68" fill="#ff9f81"/>
<rect x="53.04" y="212.44" width="7.83" height="3.68" fill="#fffac9"/>
<rect x="61.41" y="212.44" width="7.83" height="3.68" fill="#fee6b8"/>
<rect x="69.80" y="212.44" width="7.83" height="3.68" fill="#fff8c8"/>
<rect x="78.18" y="212.44" width="7.83" height="3.68" fill="#fffac9"/>
<rect x="86.56" y="212.44" width="7.83" height="3.68" fill="#cae4c8"/>
<rect x="94.94" y="212.44" width="7.83" height="3.68" fill="#e3eec9"/>
<rect x="103.32" y="212.44" width="7.83" height="3.68" fill="#fee1b3"/>
<rect x="111.70" y="212.44" width="7.83" height="3.68" fill="#ff463b"/>
<rect x="120.08" y="212.44" width="7.83" height="3.68" fill="#a5d5c7"/>
<rect x="128.46" y="212.44" width="7.83" height="3.68" fill="#b0d9c8"/>
<rect x="136.84" y="212.44" width="7.83" height="3.68" fill="#b0d9c8"/>
<rect x="36.27" y="216.67" width="7.83" height="3.68" fill="#fffac9"/>
<rect x="44.66" y="216.67" width="7.83" height="3.68" fill="#fee1b3"/>
<rect x="53.04" y="216.67" width="7.83" height="3.68" fill="#fff8c8"/>
<rect x="61.41" y="216.67" width="7.83" height="3.68" fill="#fff8c8"/>
<rect x="69.80" y="216.67" width="7.83" height="3.68" fill="#ff977b"/>
<rect x="78.18" y="216.67" width="7.83" height="3.68" fill="#feebbc"/>
<rect x="86.56" y="216.67" width="7.83" height="3.68" fill="#cae4c8"/>
<rect x="94.94" y="216.67" width="7.83" height="3.68" fill="#fff8c8"/>
<rect x="103.32" y="216.67" width="7.83" height="3.68" fill="#e3eec9"/>
<rect x="111.70" y="216.67" width="7.83" height="3.68" fill="#ff0a0a"/>
<rect x="120.08" y="216.67" width="7.83" height="3.68" fill="#bcdec8"/>
<rect x="128.46" y="216.67" width="7.83" height="3.68" fill="#bcdec8"/>
<rect x="136.84" y="216.67" width="7.83" height="3.68" fill="#b0d9c8"/>
<rect x="36.27" y="220.90" width="7.83" height="3.68" fill="#ecf3ca"/>
<rect x="44.66" y="220.90" width="7.83" height="3.68" fill="#fff8c8"/>
<rect x="53.04" y="220.90" width="7.83" height="3.68" fill="#ecf3ca"/>
<rect x="61.41" y="220.90" width="7.83" height="3.68" fill="#a1d3c7"/>
<rect x="69.80" y="220.90" width="7.83" height="3.68" fill="#fee1b3"/>
<rect x="78.18" y="220.90" width="7.83" height="3.68" fill="#fff8c8"/>
<rect x="86.56" y="220.90" width="7.83" height="3.68" fill="#fffac9"/>
<rect x="94.94" y="220.90" width="7.83" height="3.68" fill="#ffae8c"/>
<rect x="103.32" y="220.90" width="7.83" height="3.68" fill="#a1d3c7"/>
<rect x="111.70" y="220.90" width="7.83" height="3.68" fill="#ff352d"/>
<rect x="120.08" y="220.90" width="7.83" height="3.68" fill="#bcdec8"/>
<rect x="128.46" y="220.90" width="7.83" height="3.68" fill="#bcdec8"/>
<rect x="136.84" y="220.90" width="7.83" height="3.68" fill="#bcdec8"/>
<rect x="36.27" y="225.13" width="7.83" height="3.68" fill="#fffdcc"/>
<rect x="44.66" y="225.13" width="7.83" height="3.68" fill="#fff8c8"/>
<rect x="53.04" y="225.13" width="7.83" height="3.68" fill="#ff977b"/>
<rect x="61.41" y="225.13" width="7.83" height="3.68" fill="#a1d3c7"/>
<rect x="69.80" y="225.13" width="7.83" height="3.68" fill="#ff8870"/>
<rect x="78.18" y="225.13" width="7.83" height="3.68" fill="#cae4c8"/>
<rect x="86.56" y="225.13" width="7.83" height="3.68" fill="#fff8c8"/>
<rect x="94.94" y="225.13" width="7.83" height="3.68" fill="#fffac9"/>
<rect x="103.32" y="225.13" width="7.83" height="3.68" fill="#ffae8c"/>
<rect x="111.70" y="225.13" width="7.83" height="3.68" fill="#ff463b"/>
<rect x="120.08" y="225.13" width="7.83" height="3.68" fill="#9bd1c6"/>
<rect x="128.46" y="225.13" width="7.83" height="3.68" fill="#bcdec8"/>
<rect x="136.84" y="225.13" width="7.83" height="3.68" fill="#b0d9c8"/>
<rect x="36.27" y="229.36" width="7.83" height="3.68" fill="#ecf3ca"/>
<rect x="44.66" y="229.36" width="7.83" height="3.68" fill="#fff8c8"/>
<rect x="53.04" y="229.36" width="7.83" height="3.68" fill="#ff9f81"/>
<rect x="61.41" y="229.36" width="7.83" height="3.68" fill="#fffac9"/>
<rect x="69.80" y="229.36" width="7.83" height="3.68" fill="#ff705d"/>
<rect x="78.18" y="229.36" width="7.83" height="3.68" fill="#e3eec9"/>
<rect x="86.56" y="229.36" width="7.83" height="3.68" fill="#fffbcb"/>
<rect x="94.94" y="229.36" width="7.83" height="3.68" fill="#fff8c8"/>
<rect x="103.32" y="229.36" width="7.83" height="3.68" fill="#ff705d"/>
<rect x="111.70" y="229.36" width="7.83" height="3.68" fill="#ff8870"/>
<rect x="120.08" y="229.36" width="7.83" height="3.68" fill="#87c8c2"/>
<rect x="128.46" y="229.36" width="7.83" height="3.68" fill="#91ccc4"/>
<rect x="136.84" y="229.36" width="7.83" height="3.68" fill="#63b7c0"/>
<rect x="36.27" y="233.59" width="7.83" height="3.68" fill="#ecf3ca"/>
<rect x="44.66" y="233.59" width="7.83" height="3.68" fill="#bcdec8"/>
<rect x="53.04" y="233.59" width="7.83" height="3.68" fill="#fecfa6"/>
<rect x="61.41" y="233.59" width="7.83" height="3.68" fill="#fff8c8"/>
<rect x="69.80" y="233.59" width="7.83" height="3.68" fill="#ff705d"/>
<rect x="78.18" y="233.59" width="7.83" height="3.68" fill="#cae4c8"/>
<rect x="86.56" y="233.59" width="7.83" height="3.68" fill="#fffac9"/>
<rect x="94.94" y="233.59" width="7.83" height="3.68" fill="#fff8c8"/>
<rect x="103.32" y="233.59" width="7.83" height="3.68" fill="#ff8870"/>
<rect x="111.70" y="233.59" width="7.83" height="3.68" fill="#ff463b"/>
<rect x="120.08" y="233.59" width="7.83" height="3.68" fill="#87c8c2"/>
<rect x="128.46" y="233.59" width="7.83" height="3.68" fill="#87c8c2"/>
<rect x="136.84" y="233.59" width="7.83" height="3.68" fill="#b0d9c8"/>
<rect x="36.27" y="237.82" width="7.83" height="3.68" fill="#fffbcb"/>
<rect x="44.66" y="237.82" width="7.83" height="3.68" fill="#cae4c8"/>
<rect x="53.04" y="237.82" width="7.83" height="3.68" fill="#fee1b3"/>
<rect x="61.41" y="237.82" width="7.83" height="3.68" fill="#fffac9"/>
<rect x="69.80" y="237.82" width="7.83" height="3.68" fill="#ff8870"/>
<rect x="78.18" y="237.82" width="7.83" height="3.68" fill="#e3eec9"/>
<rect x="86.56" y="237.82" width="7.83" height="3.68" fill="#fffac9"/>
<rect x="94.94" y="237.82" width="7.83" height="3.68" fill="#fffac9"/>
<rect x="103.32" y="237.82" width="7.83" height="3.68" fill="#ff9f81"/>
<rect x="111.70" y="237.82" width="7.83" height="3.68" fill="#ff463b"/>
<rect x="120.08" y="237.82" width="7.83" height="3.68" fill="#b0d9c8"/>
<rect x="128.46" y="237.82" width="7.83" height="3.68" fill="#63b7c0"/>
<rect x="136.84" y="237.82" width="7.83" height="3.68" fill="#b0d9c8"/>
<rect x="36.27" y="242.05" width="7.83" height="3.68" fill="#e3eec9"/>
<rect x="44.66" y="242.05" width="7.83" height="3.68" fill="#fff8c8"/>
<rect x="53.04" y="242.05" width="7.83" height="3.68" fill="#fed8ac"/>
<rect x="61.41" y="242.05" width="7.83" height="3.68" fill="#fff8c8"/>
<rect x="69.80" y="242.05" width="7.83" height="3.68" fill="#ff9f81"/>
<rect x="78.18" y="242.05" width="7.83" height="3.68" fill="#fffac9"/>
<rect x="86.56" y="242.05" width="7.83" height="3.68" fill="#fff8c8"/>
<rect x="94.94" y="242.05" width="7.83" height="3.68" fill="#fffac9"/>
<rect x="103.32" y="242.05" width="7.83" height="3.68" fill="#fecfa6"/>
<rect x="111.70" y="242.05" width="7.83" height="3.68" fill="#ff6050"/>
<rect x="120.08" y="242.05" width="7.83" height="3.68" fill="#9bd1c6"/>
<rect x="128.46" y="242.05" width="7.83" height="3.68" fill="#b0d9c8"/>
<rect x="136.84" y="242.05" width="7.83" height="3.68" fill="#b0d9c8"/>
<rect x="36.27" y="246.28" width="7.83" height="3.68" fill="#fffbcb"/>
<rect x="44.66" y="246.28" width="7.83" height="3.68" fill="#a1d3c7"/>
<rect x="53.04" y="246.28" width="7.83" height="3.68" fill="#fffac9"/>
<rect x="61.41" y="246.28" width="7.83" height="3.68" fill="#ff9f81"/>
<rect x="69.80" y="246.28" width="7.83" height="3.68" fill="#feebbc"/>
<rect x="78.18" y="246.28" width="7.83" height="3.68" fill="#ffae8c"/>
<rect x="86.56" y="246.28" width="7.83" height="3.68" fill="#fed8ac"/>
<rect x="94.94" y="246.28" width="7.83" height="3.68" fill="#ff705d"/>
<rect x="103.32" y="246.28" width="7.83" height="3.68" fill="#ff977b"/>
<rect x="111.70" y="246.28" width="7.83" height="3.68" fill="#fffac9"/>
<rect x="120.08" y="246.28" width="7.83" height="3.68" fill="#63b7c0"/>
<rect x="128.46" y="246.28" width="7.83" height="3.68" fill="#b0d9c8"/>
<rect x="136.84" y="246.28" width="7.83" height="3.68" fill="#63b7c0"/>
<rect x="36.27" y="250.51" width="7.83" height="3.68" fill="#fee6b8"/>
<rect x="44.66" y="250.51" width="7.83" height="3.68" fill="#89c9c2"/>
<rect x="53.04" y="250.51" width="7.83" height="3.68" fill="#fff8c8"/>
<rect x="61.41" y="250.51" width="7.83" height="3.68" fill="#fecfa6"/>
<rect x="69.80" y="250.51" width="7.83" height="3.68" fill="#fffac9"/>
<rect x="78.18" y="250.51" width="7.83" height="3.68" fill="#fee1b3"/>
<rect x="86.56" y="250.51" width="7.83" height="3.68" fill="#ff6050"/>
<rect x="94.94" y="250.51" width="7.83" height="3.68" fill="#fee1b3"/>
<rect x="103.32" y="250.51" width="7.83" height="3.68" fill="#ff9f81"/>
<rect x="111.70" y="250.51" width="7.83" height="3.68" fill="#aed8c8"/>
<rect x="120.08" y="250.51" width="7.83" height="3.68" fill="#b0d9c8"/>
<rect x="128.46" y="250.51" width="7.83" height="3.68" fill="#b0d9c8"/>
<rect x="136.84" y="250.51" width="7.83" height="3.68" fill="#b0d9c8"/>
<rect x="36.27" y="254.74" width="7.83" height="3.68" fill="#fffac9"/>
<rect x="44.66" y="254.74" width="7.83" height="3.68" fill="#bcdec8"/>
<rect x="53.04" y="254.74" width="7.83" height="3.68" fill="#fff8c8"/>
<rect x="61.41" y="254.74" width="7.83" height="3.68" fill="#fee1b3"/>
<rect x="69.80" y="254.74" width="7.83" height="3.68" fill="#fffbcb"/>
<rect x="78.18" y="254.74" width="7.83" height="3.68" fill="#fee1b3"/>
<rect x="86.56" y="254.74" width="7.83" height="3.68" fill="#ff8870"/>
<rect x="94.94" y="254.74" width="7.83" height="3.68" fill="#fffac9"/>
<rect x="103.32" y="254.74" width="7.83" height="3.68" fill="#ff977b"/>
<rect x="111.70" y="254.74" width="7.83" height="3.68" fill="#bcdec8"/>
<rect x="120.08" y="254.74" width="7.83" height="3.68" fill="#9bd1c6"/>
<rect x="128.46" y="254.74" width="7.83" height="3.68" fill="#9bd1c6"/>
<rect x="136.84" y="254.74" width="7.83" height="3.68" fill="#9bd1c6"/>
<rect x="36.27" y="258.97" width="7.83" height="3.68" fill="#fff8c8"/>
<rect x="44.66" y="258.97" width="7.83" height="3.68" fill="#ffae8c"/>
<rect x="53.04" y="258.97" width="7.83" height="3.68" fill="#ffae8c"/>
<rect x="61.41" y="258.97" width="7.83" height="3.68" fill="#ffae8c"/>
<rect x="69.80" y="258.97" width="7.83" height="3.68" fill="#a1d3c7"/>
<rect x="78.18" y="258.97" width="7.83" height="3.68" fill="#fffac9"/>
<rect x="86.56" y="258.97" width="7.83" height="3.68" fill="#ecf3ca"/>
<rect x="94.94" y="258.97" width="7.83" height="3.68" fill="#fee1b3"/>
<rect x="103.32" y="258.97" width="7.83" height="3.68" fill="#ff352d"/>
<rect x="111.70" y="258.97" width="7.83" height="3.68" fill="#e3eec9"/>
<rect x="120.08" y="258.97" width="7.83" height="3.68" fill="#a5d5c7"/>
<rect x="128.46" y="258.97" width="7.83" height="3.68" fill="#b0d9c8"/>
<rect x="136.84" y="258.97" width="7.83" height="3.68" fill="#a5d5c7"/>
<rect x="36.27" y="263.19" width="7.83" height="3.68" fill="#e3eec9"/>
<rect x="44.66" y="263.19" width="7.83" height="3.68" fill="#fff8c8"/>
<rect x="53.04" y="263.19" width="7.83" height="3.68" fill="#fffac9"/>
<rect x="61.41" y="263.19" width="7.83" height="3.68" fill="#e3eec9"/>
<rect x="69.80" y="263.19" width="7.83" height="3.68" fill="#fffac9"/>
<rect x="78.18" y="263.19" width="7.83" height="3.68" fill="#fff8c8"/>
<rect x="86.56" y="263.19" width="7.83" height="3.68" fill="#ff9f81"/>
<rect x="94.94" y="263.19" width="7.83" height="3.68" fill="#e3eec9"/>
<rect x="103.32" y="263.19" width="7.83" height="3.68" fill="#ff1b18"/>
<rect x="111.70" y="263.19" width="7.83" height="3.68" fill="#fff8c8"/>
<rect x="120.08" y="263.19" width="7.83" height="3.68" fill="#b0d9c8"/>
<rect x="128.46" y="263.19" width="7.83" height="3.68" fill="#bcdec8"/>
<rect x="136.84" y="263.19" width="7.83" height="3.68" fill="#b0d9c8"/>
<rect x="36.27" y="267.43" width="7.83" height="3.68" fill="#fff8c8"/>
<rect x="44.66" y="267.43" width="7.83" height="3.68" fill="#fecfa6"/>
<rect x="53.04" y="267.43" width="7.83" height="3.68" fill="#fffac9"/>
<rect x="61.41" y="267.43" width="7.83" height="3.68" fill="#ff352d"/>
<rect x="69.80" y="267.43" width="7.83" height="3.68" fill="#ff977b"/>
<rect x="78.18" y="267.43" width="7.83" height="3.68" fill="#cae4c8"/>
<rect x="86.56" y="267.43" width="7.83" height="3.68" fill="#fffac9"/>
<rect x="94.94" y="267.43" width="7.83" height="3.68" fill="#cae4c8"/>
<rect x="103.32" y="267.43" width="7.83" height="3.68" fill="#fffac9"/>
<rect x="111.70" y="267.43" width="7.83" height="3.68" fill="#e3eec9"/>
<rect x="120.08" y="267.43" width="7.83" height="3.68" fill="#b0d9c8"/>
<rect x="128.46" y="267.43" width="7.83" height="3.68" fill="#bcdec8"/>
<rect x="136.84" y="267.43" width="7.83" height="3.68" fill="#bcdec8"/>
<rect x="36.27" y="271.65" width="7.83" height="3.68" fill="#ff6050"/>
<rect x="44.66" y="271.65" width="7.83" height="3.68" fill="#fffac9"/>
<rect x="53.04" y="271.65" width="7.83" height="3.68" fill="#95cec5"/>
<rect x="61.41" y="271.65" width="7.83" height="3.68" fill="#ff8870"/>
<rect x="69.80" y="271.65" width="7.83" height="3.68" fill="#fed8ac"/>
<rect x="78.18" y="271.65" width="7.83" height="3.68" fill="#fffbcb"/>
<rect x="86.56" y="271.65" width="7.83" height="3.68" fill="#fee1b3"/>
<rect x="94.94" y="271.65" width="7.83" height="3.68" fill="#fff8c8"/>
<rect x="103.32" y="271.65" width="7.83" height="3.68" fill="#fee1b3"/>
<rect x="111.70" y="271.65" width="7.83" height="3.68" fill="#fffac9"/>
<rect x="120.08" y="271.65" width="7.83" height="3.68" fill="#b0d9c8"/>
<rect x="128.46" y="271.65" width="7.83" height="3.68" fill="#bcdec8"/>
<rect x="136.84" y="271.65" width="7.83" height="3.68" fill="#b0d9c8"/>
<rect x="36.27" y="275.88" width="7.83" height="3.68" fill="#fff8c8"/>
<rect x="44.66" y="275.88" width="7.83" height="3.68" fill="#fee1b3"/>
<rect x="53.04" y="275.88" width="7.83" height="3.68" fill="#89c9c2"/>
<rect x="61.41" y="275.88" width="7.83" height="3.68" fill="#ff8870"/>
<rect x="69.80" y="275.88" width="7.83" height="3.68" fill="#fffac9"/>
<rect x="78.18" y="275.88" width="7.83" height="3.68" fill="#cae4c8"/>
<rect x="86.56" y="275.88" width="7.83" height="3.68" fill="#fee1b3"/>
<rect x="94.94" y="275.88" width="7.83" height="3.68" fill="#fffac9"/>
<rect x="103.32" y="275.88" width="7.83" height="3.68" fill="#e3eec9"/>
<rect x="111.70" y="275.88" width="7.83" height="3.68" fill="#fee1b3"/>
<rect x="120.08" y="275.88" width="7.83" height="3.68" fill="#87c8c2"/>
<rect x="128.46" y="275.88" width="7.83" height="3.68" fill="#7cc4c0"/>
<rect x="136.84" y="275.88" width="7.83" height="3.68" fill="#9bd1c6"/>
<rect x="36.27" y="280.12" width="7.83" height="3.68" fill="#fee1b3"/>
<rect x="44.66" y="280.12" width="7.83" height="3.68" fill="#e3eec9"/>
<rect x="53.04" y="280.12" width="7.83" height="3.68" fill="#fee6b8"/>
<rect x="61.41" y="280.12" width="7.83" height="3.68" fill="#ff977b"/>
<rect x="69.80" y="280.12" width="7.83" height="3.68" fill="#cae4c8"/>
<rect x="78.18" y="280.12" width="7.83" height="3.68" fill="#fff8c8"/>
<rect x="86.56" y="280.12" width="7.83" height="3.68" fill="#fed8ac"/>
<rect x="94.94" y="280.12" width="7.83" height="3.68" fill="#e3eec9"/>
<rect x="103.32" y="280.12" width="7.83" height="3.68" fill="#fee1b3"/>
<rect x="111.70" y="280.12" width="7.83" height="3.68" fill="#e3eec9"/>
<rect x="120.08" y="280.12" width="7.83" height="3.68" fill="#b0d9c8"/>
<rect x="128.46" y="280.12" width="7.83" height="3.68" fill="#bcdec8"/>
<rect x="136.84" y="280.12" width="7.83" height="3.68" fill="#9bd1c6"/>
<rect x="36.27" y="284.35" width="7.83" height="3.68" fill="#fee1b3"/>
<rect x="44.66" y="284.35" width="7.83" height="3.68" fill="#cae4c8"/>
<rect x="53.04" y="284.35" width="7.83" height="3.68" fill="#e3eec9"/>
<rect x="61.41" y="284.35" width="7.83" height="3.68" fill="#ff977b"/>
<rect x="69.80" y="284.35" width="7.83" height="3.68" fill="#fffac9"/>
<rect x="78.18" y="284.35" width="7.83" height="3.68" fill="#ff977b"/>
<rect x="86.56" y="284.35" width="7.83" height="3.68" fill="#fffac9"/>
<rect x="94.94" y="284.35" width="7.83" height="3.68" fill="#cae4c8"/>
<rect x="103.32" y="284.35" width="7.83" height="3.68" fill="#fee1b3"/>
<rect x="111.70" y="284.35" width="7.83" height="3.68" fill="#fffac9"/>
<rect x="120.08" y="284.35" width="7.83" height="3.68" fill="#b0d9c8"/>
<rect x="128.46" y="284.35" width="7.83" height="3.68" fill="#bcdec8"/>
<rect x="136.84" y="284.35" width="7.83" height="3.68" fill="#9bd1c6"/>
<path d="M16.30 36.62L16.30 40.84M16.30 36.62L29.60 36.62M16.30 40.84L29.60 40.84M18.90 49.30L18.90 53.54M18.90 49.30L29.60 49.30M18.90 53.54L29.60 53.54M16.50 45.08L16.50 51.42M16.50 45.08L29.60 45.08M16.50 51.42L18.90 51.42M13.60 38.73L13.60 48.25M13.60 38.73L16.30 38.73M13.60 48.25L16.50 48.25M18.40 62.00L18.40 66.22M18.40 62.00L29.60 62.00M18.40 66.22L29.60 66.22M15.00 57.77L15.00 64.11M15.00 57.77L29.60 57.77M15.00 64.11L18.40 64.11M18.90 74.69L18.90 78.92M18.90 74.69L29.60 74.69M18.90 78.92L29.60 78.92M16.00 70.46L16.00 76.80M16.00 70.46L29.60 70.46M16.00 76.80L18.90 76.80M12.00 60.94L12.00 73.63M12.00 60.94L15.00 60.94M12.00 73.63L16.00 73.63M10.30 43.49L10.30 67.28M10.30 43.49L13.60 43.49M10.30 67.28L12.00 67.28M20.80 87.38L20.80 91.61M20.80 87.38L29.60 87.38M20.80 91.61L29.60 91.61M16.80 83.15L16.80 89.49M16.80 83.15L29.60 83.15M16.80 89.49L20.80 89.49M26.40 100.07L26.40 104.30M26.40 100.07L29.60 100.07M26.40 104.30L29.60 104.30M24.90 108.53L24.90 112.76M24.90 108.53L29.60 108.53M24.90 112.76L29.60 112.76M24.00 102.18L24.00 110.64M24.00 102.18L26.40 102.18M24.00 110.64L24.90 110.64M18.00 95.84L18.00 106.41M18.00 95.84L29.60 95.84M18.00 106.41L24.00 106.41M14.40 86.32L14.40 101.12M14.40 86.32L16.80 86.32M14.40 101.12L18.00 101.12M20.70 116.99L20.70 121.22M20.70 116.99L29.60 116.99M20.70 121.22L29.60 121.22M22.00 129.68L22.00 133.91M22.00 129.68L29.60 129.68M22.00 133.91L29.60 133.91M21.00 125.45L21.00 131.79M21.00 125.45L29.60 125.45M21.00 131.79L22.00 131.79M18.20 119.10L18.20 128.62M18.20 119.10L20.70 119.10M18.20 128.62L21.00 128.62M20.00 138.13L20.00 142.37M20.00 138.13L29.60 138.13M20.00 142.37L29.60 142.37M18.00 146.60L18.00 150.83M18.00 146.60L29.60 146.60M18.00 150.83L29.60 150.83M19.00 155.06L19.00 159.29M19.00 155.06L29.60 155.06M19.00 159.29L29.60 159.29M16.00 148.71L16.00 157.17M16.00 148.71L18.00 148.71M16.00 157.17L19.00 157.17M14.40 140.25L14.40 152.94M14.40 140.25L20.00 140.25M14.40 152.94L16.00 152.94M12.50 123.86L12.50 146.60M12.50 123.86L18.20 123.86M12.50 146.60L14.40 146.60M10.50 93.72L10.50 135.23M10.50 93.72L14.40 93.72M10.50 135.23L12.50 135.23M7.80 55.39L7.80 114.47M7.80 55.39L10.30 55.39M7.80 114.47L10.50 114.47M18.50 167.75L18.50 171.98M18.50 167.75L29.60 167.75M18.50 171.98L29.60 171.98M17.50 176.21L17.50 180.44M17.50 176.21L29.60 176.21M17.50 180.44L29.60 180.44M16.60 169.86L16.60 178.32M16.60 169.86L18.50 169.86M16.60 178.32L17.50 178.32M13.50 163.52L13.50 174.09M13.50 163.52L29.60 163.52M13.50 174.09L16.60 174.09M20.00 188.90L20.00 193.13M20.00 188.90L29.60 188.90M20.00 193.13L29.60 193.13M18.70 184.67L18.70 191.01M18.70 184.67L29.60 184.67M18.70 191.01L20.00 191.01M18.00 197.36L18.00 201.59M18.00 197.36L29.60 197.36M18.00 201.59L29.60 201.59M19.00 205.82L19.00 210.05M19.00 205.82L29.60 205.82M19.00 210.05L29.60 210.05M16.00 199.47L16.00 207.93M16.00 199.47L18.00 199.47M16.00 207.93L19.00 207.93M14.50 187.84L14.50 203.70M14.50 187.84L18.70 187.84M14.50 203.70L16.00 203.70M12.50 168.80L12.50 195.77M12.50 168.80L13.50 168.80M12.50 195.77L14.50 195.77M25.00 214.28L25.00 218.51M25.00 214.28L29.60 214.28M25.00 218.51L29.60 218.51M21.00 222.74L21.00 226.97M21.00 222.74L29.60 222.74M21.00 226.97L29.60 226.97M19.80 216.39L19.80 224.85M19.80 216.39L25.00 216.39M19.80 224.85L21.00 224.85M18.00 231.20L18.00 235.43M18.00 231.20L29.60 231.20M18.00 235.43L29.60 235.43M19.00 239.66L19.00 243.89M19.00 239.66L29.60 239.66M19.00 243.89L29.60 243.89M16.50 233.31L16.50 241.77M16.50 233.31L18.00 233.31M16.50 241.77L19.00 241.77M14.50 220.62L14.50 237.54M14.50 220.62L19.80 220.62M14.50 237.54L16.50 237.54M9.40 182.29L9.40 229.08M9.40 182.29L12.50 182.29M9.40 229.08L14.50 229.08M17.00 248.12L17.00 252.35M17.00 248.12L29.60 248.12M17.00 252.35L29.60 252.35M21.00 260.81L21.00 265.04M21.00 260.81L29.60 260.81M21.00 265.04L29.60 265.04M18.00 256.58L18.00 262.92M18.00 256.58L29.60 256.58M18.00 262.92L21.00 262.92M15.00 250.23L15.00 259.75M15.00 250.23L17.00 250.23M15.00 259.75L18.00 259.75M17.00 269.26L17.00 273.50M17.00 269.26L29.60 269.26M17.00 273.50L29.60 273.50M19.00 281.96L19.00 286.19M19.00 281.96L29.60 281.96M19.00 286.19L29.60 286.19M16.50 277.73L16.50 284.07M16.50 277.73L29.60 277.73M16.50 284.07L19.00 284.07M14.50 271.38L14.50 280.90M14.50 271.38L17.00 271.38M14.50 280.90L16.50 280.90M12.50 254.99L12.50 276.14M12.50 254.99L15.00 254.99M12.50 276.14L14.50 276.14M6.20 205.68L6.20 265.56M6.20 205.68L9.40 205.68M6.20 265.56L12.50 265.56M5.20 84.93L5.20 235.62M5.20 84.93L7.80 84.93M5.20 235.62L6.20 235.62" stroke="#a6a6a6" stroke-width="0.7" fill="none"/>
<text transform="translate(146.00,38.62) scale(1,1.300)" font-family="Liberation Serif" font-size="3.75" font-weight="normal" fill="#1a1a1a" text-anchor="start" stroke="#222" stroke-width="0.08">phactr1</text>
<text transform="translate(146.00,42.84) scale(1,1.300)" font-family="Liberation Serif" font-size="3.75" font-weight="normal" fill="#1a1a1a" text-anchor="start" stroke="#222" stroke-width="0.08">KLRF1</text>
<text transform="translate(146.00,47.08) scale(1,1.300)" font-family="Liberation Serif" font-size="3.75" font-weight="normal" fill="#1a1a1a" text-anchor="start" stroke="#222" stroke-width="0.08">MISP</text>
<text transform="translate(146.00,51.30) scale(1,1.300)" font-family="Liberation Serif" font-size="3.75" font-weight="normal" fill="#1a1a1a" text-anchor="start" stroke="#222" stroke-width="0.08">TOX</text>
<text transform="translate(146.00,55.54) scale(1,1.300)" font-family="Liberation Serif" font-size="3.75" font-weight="normal" fill="#1a1a1a" text-anchor="start" stroke="#222" stroke-width="0.08">DOK7</text>
<text transform="translate(146.00,59.77) scale(1,1.300)" font-family="Liberation Serif" font-size="3.75" font-weight="normal" fill="#1a1a1a" text-anchor="start" stroke="#222" stroke-width="0.08">Fam78b</text>
<text transform="translate(146.00,64.00) scale(1,1.300)" font-family="Liberation Serif" font-size="3.75" font-weight="normal" fill="#1a1a1a" text-anchor="start" stroke="#222" stroke-width="0.08">MAMLD1</text>
<text transform="translate(146.00,68.22) scale(1,1.300)" font-family="Liberation Serif" font-size="3.75" font-weight="normal" fill="#1a1a1a" text-anchor="start" stroke="#222" stroke-width="0.08">GRIK3</text>
<text transform="translate(146.00,72.46) scale(1,1.300)" font-family="Liberation Serif" font-size="3.75" font-weight="normal" fill="#1a1a1a" text-anchor="start" stroke="#222" stroke-width="0.08">ZBP1</text>
<text transform="translate(146.00,76.69) scale(1,1.300)" font-family="Liberation Serif" font-size="3.75" font-weight="normal" fill="#1a1a1a" text-anchor="start" stroke="#222" stroke-width="0.08">CD017</text>
<text transform="translate(146.00,80.92) scale(1,1.300)" font-family="Liberation Serif" font-size="3.75" font-weight="normal" fill="#1a1a1a" text-anchor="start" stroke="#222" stroke-width="0.08">GREM3</text>
<text transform="translate(146.00,85.15) scale(1,1.300)" font-family="Liberation Serif" font-size="3.75" font-weight="normal" fill="#1a1a1a" text-anchor="start" stroke="#222" stroke-width="0.08">EMR1</text>
<text transform="translate(146.00,89.38) scale(1,1.300)" font-family="Liberation Serif" font-size="3.75" font-weight="normal" fill="#1a1a1a" text-anchor="start" stroke="#222" stroke-width="0.08">SBL</text>
<text transform="translate(146.00,93.61) scale(1,1.300)" font-family="Liberation Serif" font-size="3.75" font-weight="normal" fill="#1a1a1a" text-anchor="start" stroke="#222" stroke-width="0.08">LAYN</text>
<text transform="translate(146.00,97.84) scale(1,1.300)" font-family="Liberation Serif" font-size="3.75" font-weight="normal" fill="#1a1a1a" text-anchor="start" stroke="#222" stroke-width="0.08">PLLP</text>
<text transform="translate(146.00,102.07) scale(1,1.300)" font-family="Liberation Serif" font-size="3.75" font-weight="normal" fill="#1a1a1a" text-anchor="start" stroke="#222" stroke-width="0.08">ZDHHC14</text>
<text transform="translate(146.00,106.30) scale(1,1.300)" font-family="Liberation Serif" font-size="3.75" font-weight="normal" fill="#1a1a1a" text-anchor="start" stroke="#222" stroke-width="0.08">Mag</text>
<text transform="translate(146.00,110.53) scale(1,1.300)" font-family="Liberation Serif" font-size="3.75" font-weight="normal" fill="#1a1a1a" text-anchor="start" stroke="#222" stroke-width="0.08">ERICH3</text>
<text transform="translate(146.00,114.76) scale(1,1.300)" font-family="Liberation Serif" font-size="3.75" font-weight="normal" fill="#1a1a1a" text-anchor="start" stroke="#222" stroke-width="0.08">ST8SIA2</text>
<text transform="translate(146.00,118.99) scale(1,1.300)" font-family="Liberation Serif" font-size="3.75" font-weight="normal" fill="#1a1a1a" text-anchor="start" stroke="#222" stroke-width="0.08">KaOs</text>
<text transform="translate(146.00,123.22) scale(1,1.300)" font-family="Liberation Serif" font-size="3.75" font-weight="normal" fill="#1a1a1a" text-anchor="start" stroke="#222" stroke-width="0.08">PPP1R3C</text>
<text transform="translate(146.00,127.45) scale(1,1.300)" font-family="Liberation Serif" font-size="3.75" font-weight="normal" fill="#1a1a1a" text-anchor="start" stroke="#222" stroke-width="0.08">IL18A</text>
<text transform="translate(146.00,131.68) scale(1,1.300)" font-family="Liberation Serif" font-size="3.75" font-weight="normal" fill="#1a1a1a" text-anchor="start" stroke="#222" stroke-width="0.08">KCNA6</text>
<text transform="translate(146.00,135.91) scale(1,1.300)" font-family="Liberation Serif" font-size="3.75" font-weight="normal" fill="#1a1a1a" text-anchor="start" stroke="#222" stroke-width="0.08">CCBE1</text>
<text transform="translate(146.00,140.13) scale(1,1.300)" font-family="Liberation Serif" font-size="3.75" font-weight="normal" fill="#1a1a1a" text-anchor="start" stroke="#222" stroke-width="0.08">Zdhhc14</text>
<text transform="translate(146.00,144.37) scale(1,1.300)" font-family="Liberation Serif" font-size="3.75" font-weight="normal" fill="#1a1a1a" text-anchor="start" stroke="#222" stroke-width="0.08">PDE7B</text>
<text transform="translate(146.00,148.60) scale(1,1.300)" font-family="Liberation Serif" font-size="3.75" font-weight="normal" fill="#1a1a1a" text-anchor="start" stroke="#222" stroke-width="0.08">MMP28</text>
<text transform="translate(146.00,152.83) scale(1,1.300)" font-family="Liberation Serif" font-size="3.75" font-weight="normal" fill="#1a1a1a" text-anchor="start" stroke="#222" stroke-width="0.08">CFA6</text>
<text transform="translate(146.00,157.06) scale(1,1.300)" font-family="Liberation Serif" font-size="3.75" font-weight="normal" fill="#1a1a1a" text-anchor="start" stroke="#222" stroke-width="0.08">REM1</text>
<text transform="translate(146.00,161.29) scale(1,1.300)" font-family="Liberation Serif" font-size="3.75" font-weight="normal" fill="#1a1a1a" text-anchor="start" stroke="#222" stroke-width="0.08">SERPINB6</text>
<text transform="translate(146.00,165.52) scale(1,1.300)" font-family="Liberation Serif" font-size="3.75" font-weight="normal" fill="#1a1a1a" text-anchor="start" stroke="#222" stroke-width="0.08">SCML4</text>
<text transform="translate(146.00,169.75) scale(1,1.300)" font-family="Liberation Serif" font-size="3.75" font-weight="normal" fill="#1a1a1a" text-anchor="start" stroke="#222" stroke-width="0.08">ZFP64</text>
<text transform="translate(146.00,173.98) scale(1,1.300)" font-family="Liberation Serif" font-size="3.75" font-weight="normal" fill="#1a1a1a" text-anchor="start" stroke="#222" stroke-width="0.08">Nr12a3</text>
<text transform="translate(146.00,178.21) scale(1,1.300)" font-family="Liberation Serif" font-size="3.75" font-weight="normal" fill="#1a1a1a" text-anchor="start" stroke="#222" stroke-width="0.08">LINGO2</text>
<text transform="translate(146.00,182.44) scale(1,1.300)" font-family="Liberation Serif" font-size="3.75" font-weight="normal" fill="#1a1a1a" text-anchor="start" stroke="#222" stroke-width="0.08">RPL10</text>
<text transform="translate(146.00,186.67) scale(1,1.300)" font-family="Liberation Serif" font-size="3.75" font-weight="normal" fill="#1a1a1a" text-anchor="start" stroke="#222" stroke-width="0.08">Hpse2</text>
<text transform="translate(146.00,190.90) scale(1,1.300)" font-family="Liberation Serif" font-size="3.75" font-weight="normal" fill="#1a1a1a" text-anchor="start" stroke="#222" stroke-width="0.08">PTGDR</text>
<text transform="translate(146.00,195.13) scale(1,1.300)" font-family="Liberation Serif" font-size="3.75" font-weight="normal" fill="#1a1a1a" text-anchor="start" stroke="#222" stroke-width="0.08">KCNQ4</text>
<text transform="translate(146.00,199.36) scale(1,1.300)" font-family="Liberation Serif" font-size="3.75" font-weight="normal" fill="#1a1a1a" text-anchor="start" stroke="#222" stroke-width="0.08">OR1009</text>
<text transform="translate(146.00,203.59) scale(1,1.300)" font-family="Liberation Serif" font-size="3.75" font-weight="normal" fill="#1a1a1a" text-anchor="start" stroke="#222" stroke-width="0.08">ABCC4</text>
<text transform="translate(146.00,207.82) scale(1,1.300)" font-family="Liberation Serif" font-size="3.75" font-weight="normal" fill="#1a1a1a" text-anchor="start" stroke="#222" stroke-width="0.08">NCF4</text>
<text transform="translate(146.00,212.05) scale(1,1.300)" font-family="Liberation Serif" font-size="3.75" font-weight="normal" fill="#1a1a1a" text-anchor="start" stroke="#222" stroke-width="0.08">ABCC9</text>
<text transform="translate(146.00,216.28) scale(1,1.300)" font-family="Liberation Serif" font-size="3.75" font-weight="normal" fill="#1a1a1a" text-anchor="start" stroke="#222" stroke-width="0.08">IL16A</text>
<text transform="translate(146.00,220.51) scale(1,1.300)" font-family="Liberation Serif" font-size="3.75" font-weight="normal" fill="#1a1a1a" text-anchor="start" stroke="#222" stroke-width="0.08">KCNA5</text>
<text transform="translate(146.00,224.74) scale(1,1.300)" font-family="Liberation Serif" font-size="3.75" font-weight="normal" fill="#1a1a1a" text-anchor="start" stroke="#222" stroke-width="0.08">Fabp2</text>
<text transform="translate(146.00,228.97) scale(1,1.300)" font-family="Liberation Serif" font-size="3.75" font-weight="normal" fill="#1a1a1a" text-anchor="start" stroke="#222" stroke-width="0.08">AP1M2</text>
<text transform="translate(146.00,233.20) scale(1,1.300)" font-family="Liberation Serif" font-size="3.75" font-weight="normal" fill="#1a1a1a" text-anchor="start" stroke="#222" stroke-width="0.08">CLIC6</text>
<text transform="translate(146.00,237.43) scale(1,1.300)" font-family="Liberation Serif" font-size="3.75" font-weight="normal" fill="#1a1a1a" text-anchor="start" stroke="#222" stroke-width="0.08">CNNM1</text>
<text transform="translate(146.00,241.66) scale(1,1.300)" font-family="Liberation Serif" font-size="3.75" font-weight="normal" fill="#1a1a1a" text-anchor="start" stroke="#222" stroke-width="0.08">NPY</text>
<text transform="translate(146.00,245.89) scale(1,1.300)" font-family="Liberation Serif" font-size="3.75" font-weight="normal" fill="#1a1a1a" text-anchor="start" stroke="#222" stroke-width="0.08">GPR183</text>
<text transform="translate(146.00,250.12) scale(1,1.300)" font-family="Liberation Serif" font-size="3.75" font-weight="normal" fill="#1a1a1a" text-anchor="start" stroke="#222" stroke-width="0.08">IGSF10</text>
<text transform="translate(146.00,254.35) scale(1,1.300)" font-family="Liberation Serif" font-size="3.75" font-weight="normal" fill="#1a1a1a" text-anchor="start" stroke="#222" stroke-width="0.08">TRIM51</text>
<text transform="translate(146.00,258.58) scale(1,1.300)" font-family="Liberation Serif" font-size="3.75" font-weight="normal" fill="#1a1a1a" text-anchor="start" stroke="#222" stroke-width="0.08">HOXD3</text>
<text transform="translate(146.00,262.81) scale(1,1.300)" font-family="Liberation Serif" font-size="3.75" font-weight="normal" fill="#1a1a1a" text-anchor="start" stroke="#222" stroke-width="0.08">TRIM96</text>
<text transform="translate(146.00,267.04) scale(1,1.300)" font-family="Liberation Serif" font-size="3.75" font-weight="normal" fill="#1a1a1a" text-anchor="start" stroke="#222" stroke-width="0.08">CYP4A11</text>
<text transform="translate(146.00,271.26) scale(1,1.300)" font-family="Liberation Serif" font-size="3.75" font-weight="normal" fill="#1a1a1a" text-anchor="start" stroke="#222" stroke-width="0.08">STPG1</text>
<text transform="translate(146.00,275.50) scale(1,1.300)" font-family="Liberation Serif" font-size="3.75" font-weight="normal" fill="#1a1a1a" text-anchor="start" stroke="#222" stroke-width="0.08">Cyp2c23</text>
<text transform="translate(146.00,279.73) scale(1,1.300)" font-family="Liberation Serif" font-size="3.75" font-weight="normal" fill="#1a1a1a" text-anchor="start" stroke="#222" stroke-width="0.08">OPN3LW</text>
<text transform="translate(146.00,283.96) scale(1,1.300)" font-family="Liberation Serif" font-size="3.75" font-weight="normal" fill="#1a1a1a" text-anchor="start" stroke="#222" stroke-width="0.08">DIS2</text>
<text transform="translate(146.00,288.19) scale(1,1.300)" font-family="Liberation Serif" font-size="3.75" font-weight="normal" fill="#1a1a1a" text-anchor="start" stroke="#222" stroke-width="0.08">PPARG</text>
<text transform="translate(43.19,293.40) rotate(-44) scale(0.92,1.12)" font-family="Liberation Sans" font-size="5.3" font-weight="normal" fill="#333" stroke="#333" stroke-width="0.18" text-anchor="end">CBHF7F</text>
<text transform="translate(51.57,293.40) rotate(-44) scale(0.92,1.12)" font-family="Liberation Sans" font-size="5.3" font-weight="normal" fill="#333" stroke="#333" stroke-width="0.18" text-anchor="end">CBHF1F</text>
<text transform="translate(59.95,293.40) rotate(-44) scale(0.92,1.12)" font-family="Liberation Sans" font-size="5.3" font-weight="normal" fill="#333" stroke="#333" stroke-width="0.18" text-anchor="end">CBHF9M</text>
<text transform="translate(68.33,293.40) rotate(-44) scale(0.92,1.12)" font-family="Liberation Sans" font-size="5.3" font-weight="normal" fill="#333" stroke="#333" stroke-width="0.18" text-anchor="end">CBHF5M</text>
<text transform="translate(76.71,293.40) rotate(-44) scale(0.92,1.12)" font-family="Liberation Sans" font-size="5.3" font-weight="normal" fill="#333" stroke="#333" stroke-width="0.18" text-anchor="end">CBHF10M</text>
<text transform="translate(85.09,293.40) rotate(-44) scale(0.92,1.12)" font-family="Liberation Sans" font-size="5.3" font-weight="normal" fill="#333" stroke="#333" stroke-width="0.18" text-anchor="end">CBHF3F</text>
<text transform="translate(93.47,293.40) rotate(-44) scale(0.92,1.12)" font-family="Liberation Sans" font-size="5.3" font-weight="normal" fill="#333" stroke="#333" stroke-width="0.18" text-anchor="end">CBHF2F</text>
<text transform="translate(101.85,293.40) rotate(-44) scale(0.92,1.12)" font-family="Liberation Sans" font-size="5.3" font-weight="normal" fill="#333" stroke="#333" stroke-width="0.18" text-anchor="end">CBHF8M</text>
<text transform="translate(110.23,293.40) rotate(-44) scale(0.92,1.12)" font-family="Liberation Sans" font-size="5.3" font-weight="normal" fill="#333" stroke="#333" stroke-width="0.18" text-anchor="end">CBHF4F</text>
<text transform="translate(118.61,293.40) rotate(-44) scale(0.92,1.12)" font-family="Liberation Sans" font-size="5.3" font-weight="normal" fill="#333" stroke="#333" stroke-width="0.18" text-anchor="end">CBHF6F</text>
<text transform="translate(126.99,293.40) rotate(-44) scale(0.92,1.12)" font-family="Liberation Sans" font-size="5.3" font-weight="normal" fill="#333" stroke="#333" stroke-width="0.18" text-anchor="end">CWHF2M</text>
<text transform="translate(135.37,293.40) rotate(-44) scale(0.92,1.12)" font-family="Liberation Sans" font-size="5.3" font-weight="normal" fill="#333" stroke="#333" stroke-width="0.18" text-anchor="end">AWHF1M</text>
<text transform="translate(143.75,293.40) rotate(-44) scale(0.92,1.12)" font-family="Liberation Sans" font-size="5.3" font-weight="normal" fill="#333" stroke="#333" stroke-width="0.18" text-anchor="end">AWHF3M</text>
<defs><linearGradient id="gA" x1="0" y1="0" x2="0" y2="1"><stop offset="0.0000" stop-color="#ff0a0a"/><stop offset="0.1667" stop-color="#ff6050"/><stop offset="0.2500" stop-color="#ff8870"/><stop offset="0.3333" stop-color="#ffae8c"/><stop offset="0.4167" stop-color="#fee2b4"/><stop offset="0.5000" stop-color="#fffdcc"/><stop offset="0.5833" stop-color="#dcebc8"/><stop offset="0.6667" stop-color="#a8d6c8"/><stop offset="0.7500" stop-color="#7cc4c0"/><stop offset="0.8333" stop-color="#45a8c0"/><stop offset="1.0000" stop-color="#0a85c2"/></linearGradient></defs>
<rect x="173.00" y="36.00" width="8.10" height="110.90" fill="url(#gA)"/>
<path d="M181.10 36.00L182.30 36.00" stroke="#222" stroke-width="0.6"/>
<text x="183.30" y="38.30" font-family="Liberation Sans" font-size="6.30" font-weight="bold" fill="#111" text-anchor="start" >3</text>
<path d="M181.10 54.48L182.30 54.48" stroke="#222" stroke-width="0.6"/>
<text x="183.30" y="56.78" font-family="Liberation Sans" font-size="6.30" font-weight="bold" fill="#111" text-anchor="start" >2</text>
<path d="M181.10 72.97L182.30 72.97" stroke="#222" stroke-width="0.6"/>
<text x="183.30" y="75.27" font-family="Liberation Sans" font-size="6.30" font-weight="bold" fill="#111" text-anchor="start" >1</text>
<path d="M181.10 91.45L182.30 91.45" stroke="#222" stroke-width="0.6"/>
<text x="183.30" y="93.75" font-family="Liberation Sans" font-size="6.30" font-weight="bold" fill="#111" text-anchor="start" >0</text>
<path d="M181.10 109.93L182.30 109.93" stroke="#222" stroke-width="0.6"/>
<text x="181.20" y="112.23" font-family="Liberation Sans" font-size="6.30" font-weight="bold" fill="#111" text-anchor="start" >-</text>
<text x="183.40" y="112.23" font-family="Liberation Sans" font-size="6.30" font-weight="bold" fill="#111" text-anchor="start" >1</text>
<path d="M181.10 128.42L182.30 128.42" stroke="#222" stroke-width="0.6"/>
<text x="181.20" y="130.72" font-family="Liberation Sans" font-size="6.30" font-weight="bold" fill="#111" text-anchor="start" >-</text>
<text x="183.40" y="130.72" font-family="Liberation Sans" font-size="6.30" font-weight="bold" fill="#111" text-anchor="start" >2</text>
<path d="M181.10 146.90L182.30 146.90" stroke="#222" stroke-width="0.6"/>
<text x="181.20" y="149.20" font-family="Liberation Sans" font-size="6.30" font-weight="bold" fill="#111" text-anchor="start" >-</text>
<text x="183.40" y="149.20" font-family="Liberation Sans" font-size="6.30" font-weight="bold" fill="#111" text-anchor="start" >3</text>
<text x="171.50" y="174.30" font-family="Liberation Sans" font-size="7.30" font-weight="bold" fill="#000" text-anchor="start" >DEGs</text>
<rect x="171.1" y="176.8" width="10.1" height="6.1" fill="#fa9a5e"/>
<rect x="171.1" y="182.9" width="10.1" height="6.3" fill="#fdca69"/>
<text x="182.80" y="182.30" font-family="Liberation Sans" font-size="5.30" font-weight="normal" fill="#444" text-anchor="start" >Up</text>
<text x="182.80" y="188.50" font-family="Liberation Sans" font-size="5.30" font-weight="normal" fill="#444" text-anchor="start" >Down</text>
<text x="170.30" y="207.50" font-family="Liberation Sans" font-size="7.30" font-weight="bold" fill="#000" text-anchor="start" >Groups</text>
<rect x="161.7" y="211.2" width="10" height="6.2" fill="#e3f36b"/>
<rect x="161.7" y="217.4" width="10" height="6.1" fill="#3fb39b"/>
<text x="173.20" y="216.30" font-family="Liberation Sans" font-size="4.95" font-weight="normal" fill="#444" text-anchor="start" >Catagen stage</text>
<text x="173.20" y="222.40" font-family="Liberation Sans" font-size="4.95" font-weight="normal" fill="#444" text-anchor="start" >Anagen stage</text>
<path d="M164.8 21.6L186.9 21.6L186.9 19.0L192.8 24.4L186.9 29.8L186.9 27.1L164.8 27.1Z" fill="#e00000" stroke="#900" stroke-width="0.5"/>
<path d="M359.8 292.7L337.8 292.7L337.8 289.2L332.1 295.1L337.8 300.5L337.8 297.5L359.8 297.5Z" fill="#d90000" stroke="#900" stroke-width="0.5"/>
<rect x="206.8" y="6.9" width="122.4" height="147.4" fill="none" stroke="#3c3c3c" stroke-width="1.15"/>
<text transform="translate(210.60,21.70) scale(1,1.150)" font-family="Liberation Serif" font-size="12.30" font-weight="normal" fill="#000" text-anchor="start" >B</text>
<ellipse cx="254.3" cy="44.5" rx="31.2" ry="22.5" fill="none" stroke="#f07a86" stroke-width="1.1"/>
<rect x="266.7" y="15.2" width="44.6" height="57" fill="none" stroke="#5cbd8c" stroke-width="1.1"/>
<text transform="translate(248.60,39.00) scale(1,1.300)" font-family="Liberation Serif" font-size="7.00" font-weight="bold" fill="#000" text-anchor="middle" stroke="#000" stroke-width="0.2">Catagen</text>
<text transform="translate(249.50,48.00) scale(1,1.300)" font-family="Liberation Serif" font-size="7.00" font-weight="bold" fill="#000" text-anchor="middle" stroke="#000" stroke-width="0.2">stage</text>
<text transform="translate(249.40,60.10) scale(1,1.220)" font-family="Liberation Serif" font-size="6.40" font-weight="bold" fill="#000" text-anchor="middle" stroke="#000" stroke-width="0.2">593</text>
<text transform="translate(275.70,48.30) scale(1,1.220)" font-family="Liberation Serif" font-size="6.40" font-weight="bold" fill="#000" text-anchor="middle" stroke="#000" stroke-width="0.2">12645</text>
<text transform="translate(298.20,39.00) scale(1,1.300)" font-family="Liberation Serif" font-size="7.00" font-weight="bold" fill="#000" text-anchor="middle" stroke="#000" stroke-width="0.2">Anagen</text>
<text transform="translate(298.80,48.00) scale(1,1.300)" font-family="Liberation Serif" font-size="7.00" font-weight="bold" fill="#000" text-anchor="middle" stroke="#000" stroke-width="0.2">stage</text>
<text transform="translate(295.50,61.90) scale(1,1.220)" font-family="Liberation Serif" font-size="6.40" font-weight="bold" fill="#000" text-anchor="middle" stroke="#000" stroke-width="0.2">355</text>
<rect x="280.2" y="75.6" width="10.8" height="5.1" fill="#f28590"/>
<rect x="280.2" y="81.5" width="10.8" height="5.9" fill="#58b88a"/>
<text transform="translate(292.50,80.20) scale(1,1.200)" font-family="Liberation Serif" font-size="4.60" font-weight="bold" fill="#000" text-anchor="start" >Up- regulated</text>
<text transform="translate(292.50,86.30) scale(1,1.200)" font-family="Liberation Serif" font-size="4.60" font-weight="bold" fill="#000" text-anchor="start" >Down- regulated</text>
<path d="M231.20 89.90L231.20 140.40L318.8 140.40" stroke="#111" stroke-width="0.7" fill="none"/>
<path d="M229.70 140.40L231.20 140.40" stroke="#111" stroke-width="0.6"/>
<text x="229.40" y="142.30" font-family="Liberation Serif" font-size="5.40" font-weight="bold" fill="#000" text-anchor="end" >0</text>
<path d="M229.70 130.30L231.20 130.30" stroke="#111" stroke-width="0.6"/>
<text x="229.40" y="132.20" font-family="Liberation Serif" font-size="5.40" font-weight="bold" fill="#000" text-anchor="end" >100</text>
<path d="M229.70 120.20L231.20 120.20" stroke="#111" stroke-width="0.6"/>
<text x="229.40" y="122.10" font-family="Liberation Serif" font-size="5.40" font-weight="bold" fill="#000" text-anchor="end" >200</text>
<path d="M229.70 110.10L231.20 110.10" stroke="#111" stroke-width="0.6"/>
<text x="229.40" y="112.00" font-family="Liberation Serif" font-size="5.40" font-weight="bold" fill="#000" text-anchor="end" >300</text>
<path d="M229.70 100.00L231.20 100.00" stroke="#111" stroke-width="0.6"/>
<text x="229.40" y="101.90" font-family="Liberation Serif" font-size="5.40" font-weight="bold" fill="#000" text-anchor="end" >400</text>
<path d="M229.70 89.90L231.20 89.90" stroke="#111" stroke-width="0.6"/>
<text x="229.40" y="91.80" font-family="Liberation Serif" font-size="5.40" font-weight="bold" fill="#000" text-anchor="end" >500</text>
<text transform="translate(218.2,112.3) rotate(-90)" font-family="Liberation Serif" font-size="4.8" font-weight="bold" text-anchor="middle">No.of DEGs</text>
<rect x="240.80" y="131.31" width="13.20" height="9.09" fill="#f28590"/>
<text x="247.40" y="129.71" font-family="Liberation Serif" font-size="6.60" font-weight="bold" fill="#000" text-anchor="middle" >90</text>
<rect x="254.00" y="92.43" width="12.60" height="47.98" fill="#58b88a"/>
<text x="260.30" y="90.83" font-family="Liberation Serif" font-size="6.60" font-weight="bold" fill="#000" text-anchor="middle" >475</text>
<rect x="284.10" y="131.81" width="12.80" height="8.59" fill="#f28590"/>
<text x="290.50" y="130.22" font-family="Liberation Serif" font-size="6.60" font-weight="bold" fill="#000" text-anchor="middle" >85</text>
<rect x="296.90" y="93.94" width="12.80" height="46.46" fill="#58b88a"/>
<text x="303.30" y="92.34" font-family="Liberation Serif" font-size="6.60" font-weight="bold" fill="#000" text-anchor="middle" >460</text>
<text transform="translate(254.00,146.70) scale(1,1.200)" font-family="Liberation Serif" font-size="4.70" font-weight="bold" fill="#000" text-anchor="middle" >DEGs</text>
<text transform="translate(297.00,146.70) scale(1,1.200)" font-family="Liberation Serif" font-size="4.70" font-weight="bold" fill="#000" text-anchor="middle" >Annotated DEGs</text>
<rect x="206.7" y="158.4" width="122.5" height="146.8" fill="none" stroke="#3c3c3c" stroke-width="1.1"/>
<text transform="translate(210.40,171.60) scale(1,1.080)" font-family="Liberation Serif" font-size="12.30" font-weight="normal" fill="#000" text-anchor="start" >D</text>
<ellipse cx="252.2" cy="194.3" rx="29.6" ry="22" fill="none" stroke="#7a7fe0" stroke-width="1.1"/>
<rect x="266.5" y="165.2" width="45" height="56.7" fill="none" stroke="#f4a67c" stroke-width="1.1"/>
<text transform="translate(247.60,188.20) scale(1,1.300)" font-family="Liberation Serif" font-size="7.00" font-weight="bold" fill="#000" text-anchor="middle" stroke="#000" stroke-width="0.2">Catagen</text>
<text transform="translate(248.40,196.60) scale(1,1.300)" font-family="Liberation Serif" font-size="7.00" font-weight="bold" fill="#000" text-anchor="middle" stroke="#000" stroke-width="0.2">stage</text>
<text transform="translate(249.50,208.80) scale(1,1.220)" font-family="Liberation Serif" font-size="6.30" font-weight="bold" fill="#000" text-anchor="middle" stroke="#000" stroke-width="0.2">41</text>
<text transform="translate(275.20,197.50) scale(1,1.100)" font-family="Liberation Serif" font-size="6.60" font-weight="bold" fill="#000" text-anchor="middle" stroke="#000" stroke-width="0.2">979</text>
<text transform="translate(297.50,188.20) scale(1,1.300)" font-family="Liberation Serif" font-size="7.00" font-weight="bold" fill="#000" text-anchor="middle" stroke="#000" stroke-width="0.2">Anagen</text>
<text transform="translate(297.50,196.60) scale(1,1.300)" font-family="Liberation Serif" font-size="7.00" font-weight="bold" fill="#000" text-anchor="middle" stroke="#000" stroke-width="0.2">stage</text>
<text transform="translate(296.00,210.10) scale(1,1.220)" font-family="Liberation Serif" font-size="6.20" font-weight="bold" fill="#000" text-anchor="middle" stroke="#000" stroke-width="0.2">168</text>
<rect x="280.9" y="225.4" width="10.4" height="5.0" fill="#7f80e6"/>
<rect x="280.9" y="231.3" width="10.4" height="5.0" fill="#f2a685"/>
<text transform="translate(292.70,230.00) scale(1,1.200)" font-family="Liberation Serif" font-size="4.60" font-weight="bold" fill="#000" text-anchor="start" >Up -regulated</text>
<text transform="translate(292.70,236.00) scale(1,1.200)" font-family="Liberation Serif" font-size="4.60" font-weight="bold" fill="#000" text-anchor="start" >Down -regulated</text>
<path d="M229.30 238.40L229.30 289.80L318.9 289.80" stroke="#111" stroke-width="0.7" fill="none"/>
<path d="M227.80 289.80L229.30 289.80" stroke="#111" stroke-width="0.6"/>
<text x="227.50" y="291.80" font-family="Liberation Serif" font-size="6.00" font-weight="bold" fill="#000" text-anchor="end" >0</text>
<path d="M227.80 276.95L229.30 276.95" stroke="#111" stroke-width="0.6"/>
<text x="227.50" y="278.95" font-family="Liberation Serif" font-size="6.00" font-weight="bold" fill="#000" text-anchor="end" >30</text>
<path d="M227.80 264.10L229.30 264.10" stroke="#111" stroke-width="0.6"/>
<text x="227.50" y="266.10" font-family="Liberation Serif" font-size="6.00" font-weight="bold" fill="#000" text-anchor="end" >60</text>
<path d="M227.80 251.25L229.30 251.25" stroke="#111" stroke-width="0.6"/>
<text x="227.50" y="253.25" font-family="Liberation Serif" font-size="6.00" font-weight="bold" fill="#000" text-anchor="end" >90</text>
<path d="M227.80 238.40L229.30 238.40" stroke="#111" stroke-width="0.6"/>
<text x="227.50" y="240.40" font-family="Liberation Serif" font-size="6.00" font-weight="bold" fill="#000" text-anchor="end" >120</text>
<text transform="translate(217.6,259.2) rotate(-90)" font-family="Liberation Serif" font-size="5.0" font-weight="bold" text-anchor="middle">No.of miRNAs</text>
<rect x="238.60" y="277.81" width="13.40" height="11.99" fill="#7f80e6"/>
<text x="245.30" y="276.21" font-family="Liberation Serif" font-size="6.60" font-weight="bold" fill="#000" text-anchor="middle" >28</text>
<rect x="252.00" y="242.25" width="13.40" height="47.55" fill="#f2a685"/>
<text x="258.70" y="240.66" font-family="Liberation Serif" font-size="6.60" font-weight="bold" fill="#000" text-anchor="middle" >111</text>
<rect x="282.60" y="282.95" width="13.10" height="6.85" fill="#7f80e6"/>
<text x="289.15" y="281.35" font-family="Liberation Serif" font-size="6.60" font-weight="bold" fill="#000" text-anchor="middle" >16</text>
<rect x="295.70" y="258.10" width="13.40" height="31.70" fill="#f2a685"/>
<text x="302.40" y="256.50" font-family="Liberation Serif" font-size="6.60" font-weight="bold" fill="#000" text-anchor="middle" >74</text>
<text transform="translate(256.50,296.00) scale(1,1.200)" font-family="Liberation Serif" font-size="4.70" font-weight="bold" fill="#000" text-anchor="middle" >Known DE-miRNA</text>
<text transform="translate(300.20,296.00) scale(1,1.200)" font-family="Liberation Serif" font-size="4.70" font-weight="bold" fill="#000" text-anchor="middle" >Novel DE-miRNA</text>
<text transform="translate(350.40,19.90) scale(1,1.120)" font-family="Liberation Serif" font-size="14.00" font-weight="normal" fill="#000" text-anchor="start" >C</text>
<path d="M374.00 16.30L384.79 16.30M374.00 16.30L374.00 27.80M384.79 16.30L384.79 27.80M406.37 24.00L417.16 24.00M406.37 24.00L406.37 27.80M417.16 24.00L417.16 27.80M427.94 24.00L438.74 24.00M427.94 24.00L427.94 27.80M438.74 24.00L438.74 27.80M411.76 19.90L433.34 19.90M411.76 19.90L411.76 24.00M433.34 19.90L433.34 24.00M395.58 16.30L422.55 16.30M395.58 16.30L395.58 27.80M422.55 16.30L422.55 19.90M379.39 12.10L409.06 12.10M379.39 12.10L379.39 16.30M409.06 12.10L409.06 16.30M460.31 16.40L471.11 16.40M460.31 16.40L460.31 27.80M471.11 16.40L471.11 27.80M449.52 12.00L465.71 12.00M449.52 12.00L449.52 27.80M465.71 12.00L465.71 16.40M394.23 8.40L457.62 8.40M394.23 8.40L394.23 12.10M457.62 8.40L457.62 12.00" stroke="#a6a6a6" stroke-width="0.7" fill="none"/>
<rect x="369" y="27.8" width="75.8" height="5.8" fill="#3fb39b"/>
<rect x="444.8" y="27.8" width="32.1" height="5.8" fill="#e3f36b"/>
<rect x="363.0" y="33.9" width="5.8" height="157.4" fill="#fdca69"/>
<rect x="363.0" y="191.3" width="5.8" height="97.2" fill="#fa9a5e"/>
<rect x="369.27" y="34.17" width="10.24" height="3.69" fill="#a8d6c8"/>
<rect x="380.06" y="34.17" width="10.24" height="3.69" fill="#a8d6c8"/>
<rect x="390.85" y="34.17" width="10.24" height="3.69" fill="#dcebc8"/>
<rect x="401.64" y="34.17" width="10.24" height="3.69" fill="#fffac9"/>
<rect x="412.43" y="34.17" width="10.24" height="3.69" fill="#e5f0c9"/>
<rect x="423.22" y="34.17" width="10.24" height="3.69" fill="#fffac9"/>
<rect x="434.01" y="34.17" width="10.24" height="3.69" fill="#339ec1"/>
<rect x="444.80" y="34.17" width="10.24" height="3.69" fill="#ffc39c"/>
<rect x="455.59" y="34.17" width="10.24" height="3.69" fill="#ff322a"/>
<rect x="466.38" y="34.17" width="10.24" height="3.69" fill="#ffc39c"/>
<rect x="369.27" y="38.42" width="10.24" height="3.69" fill="#cfe6c8"/>
<rect x="380.06" y="38.42" width="10.24" height="3.69" fill="#92cdc4"/>
<rect x="390.85" y="38.42" width="10.24" height="3.69" fill="#fff8c8"/>
<rect x="401.64" y="38.42" width="10.24" height="3.69" fill="#dcebc8"/>
<rect x="412.43" y="38.42" width="10.24" height="3.69" fill="#dcebc8"/>
<rect x="423.22" y="38.42" width="10.24" height="3.69" fill="#a8d6c8"/>
<rect x="434.01" y="38.42" width="10.24" height="3.69" fill="#b5dbc8"/>
<rect x="444.80" y="38.42" width="10.24" height="3.69" fill="#fecda4"/>
<rect x="455.59" y="38.42" width="10.24" height="3.69" fill="#ff241f"/>
<rect x="466.38" y="38.42" width="10.24" height="3.69" fill="#fff8c8"/>
<rect x="369.27" y="42.66" width="10.24" height="3.69" fill="#b5dbc8"/>
<rect x="380.06" y="42.66" width="10.24" height="3.69" fill="#b5dbc8"/>
<rect x="390.85" y="42.66" width="10.24" height="3.69" fill="#dcebc8"/>
<rect x="401.64" y="42.66" width="10.24" height="3.69" fill="#fffac9"/>
<rect x="412.43" y="42.66" width="10.24" height="3.69" fill="#cfe6c8"/>
<rect x="423.22" y="42.66" width="10.24" height="3.69" fill="#b5dbc8"/>
<rect x="434.01" y="42.66" width="10.24" height="3.69" fill="#b5dbc8"/>
<rect x="444.80" y="42.66" width="10.24" height="3.69" fill="#ffae8c"/>
<rect x="455.59" y="42.66" width="10.24" height="3.69" fill="#ff322a"/>
<rect x="466.38" y="42.66" width="10.24" height="3.69" fill="#fffac9"/>
<rect x="369.27" y="46.90" width="10.24" height="3.69" fill="#9dd2c6"/>
<rect x="380.06" y="46.90" width="10.24" height="3.69" fill="#cfe6c8"/>
<rect x="390.85" y="46.90" width="10.24" height="3.69" fill="#e5f0c9"/>
<rect x="401.64" y="46.90" width="10.24" height="3.69" fill="#a8d6c8"/>
<rect x="412.43" y="46.90" width="10.24" height="3.69" fill="#dcebc8"/>
<rect x="423.22" y="46.90" width="10.24" height="3.69" fill="#b5dbc8"/>
<rect x="434.01" y="46.90" width="10.24" height="3.69" fill="#cfe6c8"/>
<rect x="444.80" y="46.90" width="10.24" height="3.69" fill="#fff8c8"/>
<rect x="455.59" y="46.90" width="10.24" height="3.69" fill="#ff322a"/>
<rect x="466.38" y="46.90" width="10.24" height="3.69" fill="#ff8870"/>
<rect x="369.27" y="51.15" width="10.24" height="3.69" fill="#9dd2c6"/>
<rect x="380.06" y="51.15" width="10.24" height="3.69" fill="#cfe6c8"/>
<rect x="390.85" y="51.15" width="10.24" height="3.69" fill="#dcebc8"/>
<rect x="401.64" y="51.15" width="10.24" height="3.69" fill="#fffac9"/>
<rect x="412.43" y="51.15" width="10.24" height="3.69" fill="#dcebc8"/>
<rect x="423.22" y="51.15" width="10.24" height="3.69" fill="#fffbcb"/>
<rect x="434.01" y="51.15" width="10.24" height="3.69" fill="#e5f0c9"/>
<rect x="444.80" y="51.15" width="10.24" height="3.69" fill="#e5f0c9"/>
<rect x="455.59" y="51.15" width="10.24" height="3.69" fill="#ff241f"/>
<rect x="466.38" y="51.15" width="10.24" height="3.69" fill="#fff8c8"/>
<rect x="369.27" y="55.39" width="10.24" height="3.69" fill="#9dd2c6"/>
<rect x="380.06" y="55.39" width="10.24" height="3.69" fill="#92cdc4"/>
<rect x="390.85" y="55.39" width="10.24" height="3.69" fill="#e5f0c9"/>
<rect x="401.64" y="55.39" width="10.24" height="3.69" fill="#b5dbc8"/>
<rect x="412.43" y="55.39" width="10.24" height="3.69" fill="#e5f0c9"/>
<rect x="423.22" y="55.39" width="10.24" height="3.69" fill="#c2e0c8"/>
<rect x="434.01" y="55.39" width="10.24" height="3.69" fill="#e5f0c9"/>
<rect x="444.80" y="55.39" width="10.24" height="3.69" fill="#dcebc8"/>
<rect x="455.59" y="55.39" width="10.24" height="3.69" fill="#ff322a"/>
<rect x="466.38" y="55.39" width="10.24" height="3.69" fill="#ffc39c"/>
<rect x="369.27" y="59.63" width="10.24" height="3.69" fill="#b5dbc8"/>
<rect x="380.06" y="59.63" width="10.24" height="3.69" fill="#9dd2c6"/>
<rect x="390.85" y="59.63" width="10.24" height="3.69" fill="#dcebc8"/>
<rect x="401.64" y="59.63" width="10.24" height="3.69" fill="#cfe6c8"/>
<rect x="412.43" y="59.63" width="10.24" height="3.69" fill="#dcebc8"/>
<rect x="423.22" y="59.63" width="10.24" height="3.69" fill="#b5dbc8"/>
<rect x="434.01" y="59.63" width="10.24" height="3.69" fill="#fff8c8"/>
<rect x="444.80" y="59.63" width="10.24" height="3.69" fill="#fffac9"/>
<rect x="455.59" y="59.63" width="10.24" height="3.69" fill="#ff322a"/>
<rect x="466.38" y="59.63" width="10.24" height="3.69" fill="#ff9f81"/>
<rect x="369.27" y="63.88" width="10.24" height="3.69" fill="#c2e0c8"/>
<rect x="380.06" y="63.88" width="10.24" height="3.69" fill="#cfe6c8"/>
<rect x="390.85" y="63.88" width="10.24" height="3.69" fill="#a8d6c8"/>
<rect x="401.64" y="63.88" width="10.24" height="3.69" fill="#a8d6c8"/>
<rect x="412.43" y="63.88" width="10.24" height="3.69" fill="#dcebc8"/>
<rect x="423.22" y="63.88" width="10.24" height="3.69" fill="#c2e0c8"/>
<rect x="434.01" y="63.88" width="10.24" height="3.69" fill="#fff8c8"/>
<rect x="444.80" y="63.88" width="10.24" height="3.69" fill="#cfe6c8"/>
<rect x="455.59" y="63.88" width="10.24" height="3.69" fill="#ff3830"/>
<rect x="466.38" y="63.88" width="10.24" height="3.69" fill="#ff9f81"/>
<rect x="369.27" y="68.12" width="10.24" height="3.69" fill="#b5dbc8"/>
<rect x="380.06" y="68.12" width="10.24" height="3.69" fill="#dcebc8"/>
<rect x="390.85" y="68.12" width="10.24" height="3.69" fill="#92cdc4"/>
<rect x="401.64" y="68.12" width="10.24" height="3.69" fill="#dcebc8"/>
<rect x="412.43" y="68.12" width="10.24" height="3.69" fill="#dcebc8"/>
<rect x="423.22" y="68.12" width="10.24" height="3.69" fill="#cfe6c8"/>
<rect x="434.01" y="68.12" width="10.24" height="3.69" fill="#fff8c8"/>
<rect x="444.80" y="68.12" width="10.24" height="3.69" fill="#e5f0c9"/>
<rect x="455.59" y="68.12" width="10.24" height="3.69" fill="#ff322a"/>
<rect x="466.38" y="68.12" width="10.24" height="3.69" fill="#ff977b"/>
<rect x="369.27" y="72.37" width="10.24" height="3.69" fill="#cfe6c8"/>
<rect x="380.06" y="72.37" width="10.24" height="3.69" fill="#a8d6c8"/>
<rect x="390.85" y="72.37" width="10.24" height="3.69" fill="#fff8c8"/>
<rect x="401.64" y="72.37" width="10.24" height="3.69" fill="#cfe6c8"/>
<rect x="412.43" y="72.37" width="10.24" height="3.69" fill="#dcebc8"/>
<rect x="423.22" y="72.37" width="10.24" height="3.69" fill="#dcebc8"/>
<rect x="434.01" y="72.37" width="10.24" height="3.69" fill="#cfe6c8"/>
<rect x="444.80" y="72.37" width="10.24" height="3.69" fill="#fee7b9"/>
<rect x="455.59" y="72.37" width="10.24" height="3.69" fill="#fecda4"/>
<rect x="466.38" y="72.37" width="10.24" height="3.69" fill="#ff322a"/>
<rect x="369.27" y="76.61" width="10.24" height="3.69" fill="#b5dbc8"/>
<rect x="380.06" y="76.61" width="10.24" height="3.69" fill="#fed8ac"/>
<rect x="390.85" y="76.61" width="10.24" height="3.69" fill="#dcebc8"/>
<rect x="401.64" y="76.61" width="10.24" height="3.69" fill="#c2e0c8"/>
<rect x="412.43" y="76.61" width="10.24" height="3.69" fill="#92cdc4"/>
<rect x="423.22" y="76.61" width="10.24" height="3.69" fill="#b5dbc8"/>
<rect x="434.01" y="76.61" width="10.24" height="3.69" fill="#b5dbc8"/>
<rect x="444.80" y="76.61" width="10.24" height="3.69" fill="#fff8c8"/>
<rect x="455.59" y="76.61" width="10.24" height="3.69" fill="#e5f0c9"/>
<rect x="466.38" y="76.61" width="10.24" height="3.69" fill="#ff463b"/>
<rect x="369.27" y="80.85" width="10.24" height="3.69" fill="#c2e0c8"/>
<rect x="380.06" y="80.85" width="10.24" height="3.69" fill="#a8d6c8"/>
<rect x="390.85" y="80.85" width="10.24" height="3.69" fill="#82c7c1"/>
<rect x="401.64" y="80.85" width="10.24" height="3.69" fill="#fff8c8"/>
<rect x="412.43" y="80.85" width="10.24" height="3.69" fill="#e5f0c9"/>
<rect x="423.22" y="80.85" width="10.24" height="3.69" fill="#82c7c1"/>
<rect x="434.01" y="80.85" width="10.24" height="3.69" fill="#c2e0c8"/>
<rect x="444.80" y="80.85" width="10.24" height="3.69" fill="#ff6856"/>
<rect x="455.59" y="80.85" width="10.24" height="3.69" fill="#fffac9"/>
<rect x="466.38" y="80.85" width="10.24" height="3.69" fill="#ff7561"/>
<rect x="369.27" y="85.09" width="10.24" height="3.69" fill="#b5dbc8"/>
<rect x="380.06" y="85.09" width="10.24" height="3.69" fill="#dcebc8"/>
<rect x="390.85" y="85.09" width="10.24" height="3.69" fill="#92cdc4"/>
<rect x="401.64" y="85.09" width="10.24" height="3.69" fill="#cfe6c8"/>
<rect x="412.43" y="85.09" width="10.24" height="3.69" fill="#cfe6c8"/>
<rect x="423.22" y="85.09" width="10.24" height="3.69" fill="#dcebc8"/>
<rect x="434.01" y="85.09" width="10.24" height="3.69" fill="#b5dbc8"/>
<rect x="444.80" y="85.09" width="10.24" height="3.69" fill="#ff7561"/>
<rect x="455.59" y="85.09" width="10.24" height="3.69" fill="#fff8c8"/>
<rect x="466.38" y="85.09" width="10.24" height="3.69" fill="#ff8870"/>
<rect x="369.27" y="89.34" width="10.24" height="3.69" fill="#e5f0c9"/>
<rect x="380.06" y="89.34" width="10.24" height="3.69" fill="#fffac9"/>
<rect x="390.85" y="89.34" width="10.24" height="3.69" fill="#5cb4c0"/>
<rect x="401.64" y="89.34" width="10.24" height="3.69" fill="#cfe6c8"/>
<rect x="412.43" y="89.34" width="10.24" height="3.69" fill="#cfe6c8"/>
<rect x="423.22" y="89.34" width="10.24" height="3.69" fill="#fffac9"/>
<rect x="434.01" y="89.34" width="10.24" height="3.69" fill="#92cdc4"/>
<rect x="444.80" y="89.34" width="10.24" height="3.69" fill="#ff7561"/>
<rect x="455.59" y="89.34" width="10.24" height="3.69" fill="#c2e0c8"/>
<rect x="466.38" y="89.34" width="10.24" height="3.69" fill="#ff8870"/>
<rect x="369.27" y="93.58" width="10.24" height="3.69" fill="#e5f0c9"/>
<rect x="380.06" y="93.58" width="10.24" height="3.69" fill="#fff8c8"/>
<rect x="390.85" y="93.58" width="10.24" height="3.69" fill="#5cb4c0"/>
<rect x="401.64" y="93.58" width="10.24" height="3.69" fill="#dcebc8"/>
<rect x="412.43" y="93.58" width="10.24" height="3.69" fill="#cfe6c8"/>
<rect x="423.22" y="93.58" width="10.24" height="3.69" fill="#fff8c8"/>
<rect x="434.01" y="93.58" width="10.24" height="3.69" fill="#92cdc4"/>
<rect x="444.80" y="93.58" width="10.24" height="3.69" fill="#ff7561"/>
<rect x="455.59" y="93.58" width="10.24" height="3.69" fill="#b5dbc8"/>
<rect x="466.38" y="93.58" width="10.24" height="3.69" fill="#ff8870"/>
<rect x="369.27" y="97.83" width="10.24" height="3.69" fill="#e5f0c9"/>
<rect x="380.06" y="97.83" width="10.24" height="3.69" fill="#fffac9"/>
<rect x="390.85" y="97.83" width="10.24" height="3.69" fill="#5cb4c0"/>
<rect x="401.64" y="97.83" width="10.24" height="3.69" fill="#dcebc8"/>
<rect x="412.43" y="97.83" width="10.24" height="3.69" fill="#cfe6c8"/>
<rect x="423.22" y="97.83" width="10.24" height="3.69" fill="#fff8c8"/>
<rect x="434.01" y="97.83" width="10.24" height="3.69" fill="#92cdc4"/>
<rect x="444.80" y="97.83" width="10.24" height="3.69" fill="#ff7561"/>
<rect x="455.59" y="97.83" width="10.24" height="3.69" fill="#c2e0c8"/>
<rect x="466.38" y="97.83" width="10.24" height="3.69" fill="#ff8870"/>
<rect x="369.27" y="102.07" width="10.24" height="3.69" fill="#e5f0c9"/>
<rect x="380.06" y="102.07" width="10.24" height="3.69" fill="#fffbcb"/>
<rect x="390.85" y="102.07" width="10.24" height="3.69" fill="#5cb4c0"/>
<rect x="401.64" y="102.07" width="10.24" height="3.69" fill="#dcebc8"/>
<rect x="412.43" y="102.07" width="10.24" height="3.69" fill="#dcebc8"/>
<rect x="423.22" y="102.07" width="10.24" height="3.69" fill="#fff8c8"/>
<rect x="434.01" y="102.07" width="10.24" height="3.69" fill="#92cdc4"/>
<rect x="444.80" y="102.07" width="10.24" height="3.69" fill="#ff7561"/>
<rect x="455.59" y="102.07" width="10.24" height="3.69" fill="#dcebc8"/>
<rect x="466.38" y="102.07" width="10.24" height="3.69" fill="#ff8870"/>
<rect x="369.27" y="106.31" width="10.24" height="3.69" fill="#5cb4c0"/>
<rect x="380.06" y="106.31" width="10.24" height="3.69" fill="#c2e0c8"/>
<rect x="390.85" y="106.31" width="10.24" height="3.69" fill="#92cdc4"/>
<rect x="401.64" y="106.31" width="10.24" height="3.69" fill="#fffac9"/>
<rect x="412.43" y="106.31" width="10.24" height="3.69" fill="#fffac9"/>
<rect x="423.22" y="106.31" width="10.24" height="3.69" fill="#fffac9"/>
<rect x="434.01" y="106.31" width="10.24" height="3.69" fill="#a8d6c8"/>
<rect x="444.80" y="106.31" width="10.24" height="3.69" fill="#ff5446"/>
<rect x="455.59" y="106.31" width="10.24" height="3.69" fill="#fffac9"/>
<rect x="466.38" y="106.31" width="10.24" height="3.69" fill="#ffc39c"/>
<rect x="369.27" y="110.56" width="10.24" height="3.69" fill="#a8d6c8"/>
<rect x="380.06" y="110.56" width="10.24" height="3.69" fill="#dcebc8"/>
<rect x="390.85" y="110.56" width="10.24" height="3.69" fill="#92cdc4"/>
<rect x="401.64" y="110.56" width="10.24" height="3.69" fill="#fff8c8"/>
<rect x="412.43" y="110.56" width="10.24" height="3.69" fill="#dcebc8"/>
<rect x="423.22" y="110.56" width="10.24" height="3.69" fill="#fff8c8"/>
<rect x="434.01" y="110.56" width="10.24" height="3.69" fill="#c2e0c8"/>
<rect x="444.80" y="110.56" width="10.24" height="3.69" fill="#ff463b"/>
<rect x="455.59" y="110.56" width="10.24" height="3.69" fill="#e5f0c9"/>
<rect x="466.38" y="110.56" width="10.24" height="3.69" fill="#ff9f81"/>
<rect x="369.27" y="114.80" width="10.24" height="3.69" fill="#a8d6c8"/>
<rect x="380.06" y="114.80" width="10.24" height="3.69" fill="#cfe6c8"/>
<rect x="390.85" y="114.80" width="10.24" height="3.69" fill="#92cdc4"/>
<rect x="401.64" y="114.80" width="10.24" height="3.69" fill="#fffac9"/>
<rect x="412.43" y="114.80" width="10.24" height="3.69" fill="#dcebc8"/>
<rect x="423.22" y="114.80" width="10.24" height="3.69" fill="#dcebc8"/>
<rect x="434.01" y="114.80" width="10.24" height="3.69" fill="#c2e0c8"/>
<rect x="444.80" y="114.80" width="10.24" height="3.69" fill="#ff7561"/>
<rect x="455.59" y="114.80" width="10.24" height="3.69" fill="#dcebc8"/>
<rect x="466.38" y="114.80" width="10.24" height="3.69" fill="#ff8870"/>
<rect x="369.27" y="119.04" width="10.24" height="3.69" fill="#b5dbc8"/>
<rect x="380.06" y="119.04" width="10.24" height="3.69" fill="#dcebc8"/>
<rect x="390.85" y="119.04" width="10.24" height="3.69" fill="#70bec0"/>
<rect x="401.64" y="119.04" width="10.24" height="3.69" fill="#fffac9"/>
<rect x="412.43" y="119.04" width="10.24" height="3.69" fill="#fed8ac"/>
<rect x="423.22" y="119.04" width="10.24" height="3.69" fill="#dcebc8"/>
<rect x="434.01" y="119.04" width="10.24" height="3.69" fill="#b5dbc8"/>
<rect x="444.80" y="119.04" width="10.24" height="3.69" fill="#ff5446"/>
<rect x="455.59" y="119.04" width="10.24" height="3.69" fill="#dcebc8"/>
<rect x="466.38" y="119.04" width="10.24" height="3.69" fill="#ffc39c"/>
<rect x="369.27" y="123.28" width="10.24" height="3.69" fill="#b5dbc8"/>
<rect x="380.06" y="123.28" width="10.24" height="3.69" fill="#dcebc8"/>
<rect x="390.85" y="123.28" width="10.24" height="3.69" fill="#dcebc8"/>
<rect x="401.64" y="123.28" width="10.24" height="3.69" fill="#dcebc8"/>
<rect x="412.43" y="123.28" width="10.24" height="3.69" fill="#fff8c8"/>
<rect x="423.22" y="123.28" width="10.24" height="3.69" fill="#c2e0c8"/>
<rect x="434.01" y="123.28" width="10.24" height="3.69" fill="#b5dbc8"/>
<rect x="444.80" y="123.28" width="10.24" height="3.69" fill="#ff463b"/>
<rect x="455.59" y="123.28" width="10.24" height="3.69" fill="#fff8c8"/>
<rect x="466.38" y="123.28" width="10.24" height="3.69" fill="#ffc39c"/>
<rect x="369.27" y="127.53" width="10.24" height="3.69" fill="#b5dbc8"/>
<rect x="380.06" y="127.53" width="10.24" height="3.69" fill="#dcebc8"/>
<rect x="390.85" y="127.53" width="10.24" height="3.69" fill="#92cdc4"/>
<rect x="401.64" y="127.53" width="10.24" height="3.69" fill="#dcebc8"/>
<rect x="412.43" y="127.53" width="10.24" height="3.69" fill="#fff8c8"/>
<rect x="423.22" y="127.53" width="10.24" height="3.69" fill="#c2e0c8"/>
<rect x="434.01" y="127.53" width="10.24" height="3.69" fill="#b5dbc8"/>
<rect x="444.80" y="127.53" width="10.24" height="3.69" fill="#ff463b"/>
<rect x="455.59" y="127.53" width="10.24" height="3.69" fill="#fff8c8"/>
<rect x="466.38" y="127.53" width="10.24" height="3.69" fill="#ffc39c"/>
<rect x="369.27" y="131.77" width="10.24" height="3.69" fill="#b5dbc8"/>
<rect x="380.06" y="131.77" width="10.24" height="3.69" fill="#dcebc8"/>
<rect x="390.85" y="131.77" width="10.24" height="3.69" fill="#92cdc4"/>
<rect x="401.64" y="131.77" width="10.24" height="3.69" fill="#cfe6c8"/>
<rect x="412.43" y="131.77" width="10.24" height="3.69" fill="#fff8c8"/>
<rect x="423.22" y="131.77" width="10.24" height="3.69" fill="#c2e0c8"/>
<rect x="434.01" y="131.77" width="10.24" height="3.69" fill="#c2e0c8"/>
<rect x="444.80" y="131.77" width="10.24" height="3.69" fill="#ff463b"/>
<rect x="455.59" y="131.77" width="10.24" height="3.69" fill="#fff8c8"/>
<rect x="466.38" y="131.77" width="10.24" height="3.69" fill="#fecda4"/>
<rect x="369.27" y="136.02" width="10.24" height="3.69" fill="#fee7b9"/>
<rect x="380.06" y="136.02" width="10.24" height="3.69" fill="#dcebc8"/>
<rect x="390.85" y="136.02" width="10.24" height="3.69" fill="#dcebc8"/>
<rect x="401.64" y="136.02" width="10.24" height="3.69" fill="#c2e0c8"/>
<rect x="412.43" y="136.02" width="10.24" height="3.69" fill="#cfe6c8"/>
<rect x="423.22" y="136.02" width="10.24" height="3.69" fill="#c2e0c8"/>
<rect x="434.01" y="136.02" width="10.24" height="3.69" fill="#c2e0c8"/>
<rect x="444.80" y="136.02" width="10.24" height="3.69" fill="#ff322a"/>
<rect x="455.59" y="136.02" width="10.24" height="3.69" fill="#e5f0c9"/>
<rect x="466.38" y="136.02" width="10.24" height="3.69" fill="#e5f0c9"/>
<rect x="369.27" y="140.26" width="10.24" height="3.69" fill="#b5dbc8"/>
<rect x="380.06" y="140.26" width="10.24" height="3.69" fill="#dcebc8"/>
<rect x="390.85" y="140.26" width="10.24" height="3.69" fill="#cfe6c8"/>
<rect x="401.64" y="140.26" width="10.24" height="3.69" fill="#c2e0c8"/>
<rect x="412.43" y="140.26" width="10.24" height="3.69" fill="#c2e0c8"/>
<rect x="423.22" y="140.26" width="10.24" height="3.69" fill="#c2e0c8"/>
<rect x="434.01" y="140.26" width="10.24" height="3.69" fill="#dcebc8"/>
<rect x="444.80" y="140.26" width="10.24" height="3.69" fill="#ff241f"/>
<rect x="455.59" y="140.26" width="10.24" height="3.69" fill="#e5f0c9"/>
<rect x="466.38" y="140.26" width="10.24" height="3.69" fill="#dcebc8"/>
<rect x="369.27" y="144.50" width="10.24" height="3.69" fill="#b5dbc8"/>
<rect x="380.06" y="144.50" width="10.24" height="3.69" fill="#fff8c8"/>
<rect x="390.85" y="144.50" width="10.24" height="3.69" fill="#c2e0c8"/>
<rect x="401.64" y="144.50" width="10.24" height="3.69" fill="#cfe6c8"/>
<rect x="412.43" y="144.50" width="10.24" height="3.69" fill="#c2e0c8"/>
<rect x="423.22" y="144.50" width="10.24" height="3.69" fill="#c2e0c8"/>
<rect x="434.01" y="144.50" width="10.24" height="3.69" fill="#b5dbc8"/>
<rect x="444.80" y="144.50" width="10.24" height="3.69" fill="#ff463b"/>
<rect x="455.59" y="144.50" width="10.24" height="3.69" fill="#ff977b"/>
<rect x="466.38" y="144.50" width="10.24" height="3.69" fill="#ffc39c"/>
<rect x="369.27" y="148.75" width="10.24" height="3.69" fill="#b5dbc8"/>
<rect x="380.06" y="148.75" width="10.24" height="3.69" fill="#9dd2c6"/>
<rect x="390.85" y="148.75" width="10.24" height="3.69" fill="#cfe6c8"/>
<rect x="401.64" y="148.75" width="10.24" height="3.69" fill="#cfe6c8"/>
<rect x="412.43" y="148.75" width="10.24" height="3.69" fill="#fff8c8"/>
<rect x="423.22" y="148.75" width="10.24" height="3.69" fill="#b5dbc8"/>
<rect x="434.01" y="148.75" width="10.24" height="3.69" fill="#cfe6c8"/>
<rect x="444.80" y="148.75" width="10.24" height="3.69" fill="#ff5446"/>
<rect x="455.59" y="148.75" width="10.24" height="3.69" fill="#ff9f81"/>
<rect x="466.38" y="148.75" width="10.24" height="3.69" fill="#fecda4"/>
<rect x="369.27" y="152.99" width="10.24" height="3.69" fill="#b5dbc8"/>
<rect x="380.06" y="152.99" width="10.24" height="3.69" fill="#c2e0c8"/>
<rect x="390.85" y="152.99" width="10.24" height="3.69" fill="#70bec0"/>
<rect x="401.64" y="152.99" width="10.24" height="3.69" fill="#fee2b4"/>
<rect x="412.43" y="152.99" width="10.24" height="3.69" fill="#fff8c8"/>
<rect x="423.22" y="152.99" width="10.24" height="3.69" fill="#fed8ac"/>
<rect x="434.01" y="152.99" width="10.24" height="3.69" fill="#70bec0"/>
<rect x="444.80" y="152.99" width="10.24" height="3.69" fill="#ff7561"/>
<rect x="455.59" y="152.99" width="10.24" height="3.69" fill="#fff8c8"/>
<rect x="466.38" y="152.99" width="10.24" height="3.69" fill="#fff8c8"/>
<rect x="369.27" y="157.23" width="10.24" height="3.69" fill="#b5dbc8"/>
<rect x="380.06" y="157.23" width="10.24" height="3.69" fill="#dcebc8"/>
<rect x="390.85" y="157.23" width="10.24" height="3.69" fill="#70bec0"/>
<rect x="401.64" y="157.23" width="10.24" height="3.69" fill="#fff8c8"/>
<rect x="412.43" y="157.23" width="10.24" height="3.69" fill="#fffac9"/>
<rect x="423.22" y="157.23" width="10.24" height="3.69" fill="#fee2b4"/>
<rect x="434.01" y="157.23" width="10.24" height="3.69" fill="#70bec0"/>
<rect x="444.80" y="157.23" width="10.24" height="3.69" fill="#ff7561"/>
<rect x="455.59" y="157.23" width="10.24" height="3.69" fill="#e5f0c9"/>
<rect x="466.38" y="157.23" width="10.24" height="3.69" fill="#dcebc8"/>
<rect x="369.27" y="161.47" width="10.24" height="3.69" fill="#dcebc8"/>
<rect x="380.06" y="161.47" width="10.24" height="3.69" fill="#dcebc8"/>
<rect x="390.85" y="161.47" width="10.24" height="3.69" fill="#e5f0c9"/>
<rect x="401.64" y="161.47" width="10.24" height="3.69" fill="#fffac9"/>
<rect x="412.43" y="161.47" width="10.24" height="3.69" fill="#fffbcb"/>
<rect x="423.22" y="161.47" width="10.24" height="3.69" fill="#e5f0c9"/>
<rect x="434.01" y="161.47" width="10.24" height="3.69" fill="#cfe6c8"/>
<rect x="444.80" y="161.47" width="10.24" height="3.69" fill="#ff322a"/>
<rect x="455.59" y="161.47" width="10.24" height="3.69" fill="#ff9f81"/>
<rect x="466.38" y="161.47" width="10.24" height="3.69" fill="#fff8c8"/>
<rect x="369.27" y="165.72" width="10.24" height="3.69" fill="#dcebc8"/>
<rect x="380.06" y="165.72" width="10.24" height="3.69" fill="#a8d6c8"/>
<rect x="390.85" y="165.72" width="10.24" height="3.69" fill="#92cdc4"/>
<rect x="401.64" y="165.72" width="10.24" height="3.69" fill="#dcebc8"/>
<rect x="412.43" y="165.72" width="10.24" height="3.69" fill="#dcebc8"/>
<rect x="423.22" y="165.72" width="10.24" height="3.69" fill="#cfe6c8"/>
<rect x="434.01" y="165.72" width="10.24" height="3.69" fill="#b5dbc8"/>
<rect x="444.80" y="165.72" width="10.24" height="3.69" fill="#ff463b"/>
<rect x="455.59" y="165.72" width="10.24" height="3.69" fill="#ffae8c"/>
<rect x="466.38" y="165.72" width="10.24" height="3.69" fill="#fff8c8"/>
<rect x="369.27" y="169.96" width="10.24" height="3.69" fill="#dcebc8"/>
<rect x="380.06" y="169.96" width="10.24" height="3.69" fill="#b5dbc8"/>
<rect x="390.85" y="169.96" width="10.24" height="3.69" fill="#92cdc4"/>
<rect x="401.64" y="169.96" width="10.24" height="3.69" fill="#9dd2c6"/>
<rect x="412.43" y="169.96" width="10.24" height="3.69" fill="#b5dbc8"/>
<rect x="423.22" y="169.96" width="10.24" height="3.69" fill="#fff8c8"/>
<rect x="434.01" y="169.96" width="10.24" height="3.69" fill="#92cdc4"/>
<rect x="444.80" y="169.96" width="10.24" height="3.69" fill="#ff7561"/>
<rect x="455.59" y="169.96" width="10.24" height="3.69" fill="#fff8c8"/>
<rect x="466.38" y="169.96" width="10.24" height="3.69" fill="#ff6856"/>
<rect x="369.27" y="174.21" width="10.24" height="3.69" fill="#e5f0c9"/>
<rect x="380.06" y="174.21" width="10.24" height="3.69" fill="#a8d6c8"/>
<rect x="390.85" y="174.21" width="10.24" height="3.69" fill="#9dd2c6"/>
<rect x="401.64" y="174.21" width="10.24" height="3.69" fill="#cfe6c8"/>
<rect x="412.43" y="174.21" width="10.24" height="3.69" fill="#a8d6c8"/>
<rect x="423.22" y="174.21" width="10.24" height="3.69" fill="#fff8c8"/>
<rect x="434.01" y="174.21" width="10.24" height="3.69" fill="#b5dbc8"/>
<rect x="444.80" y="174.21" width="10.24" height="3.69" fill="#ff5446"/>
<rect x="455.59" y="174.21" width="10.24" height="3.69" fill="#fff8c8"/>
<rect x="466.38" y="174.21" width="10.24" height="3.69" fill="#ff8870"/>
<rect x="369.27" y="178.45" width="10.24" height="3.69" fill="#3ca3c0"/>
<rect x="380.06" y="178.45" width="10.24" height="3.69" fill="#fff8c8"/>
<rect x="390.85" y="178.45" width="10.24" height="3.69" fill="#b5dbc8"/>
<rect x="401.64" y="178.45" width="10.24" height="3.69" fill="#c2e0c8"/>
<rect x="412.43" y="178.45" width="10.24" height="3.69" fill="#cfe6c8"/>
<rect x="423.22" y="178.45" width="10.24" height="3.69" fill="#fff8c8"/>
<rect x="434.01" y="178.45" width="10.24" height="3.69" fill="#dcebc8"/>
<rect x="444.80" y="178.45" width="10.24" height="3.69" fill="#ff7561"/>
<rect x="455.59" y="178.45" width="10.24" height="3.69" fill="#ff6856"/>
<rect x="466.38" y="178.45" width="10.24" height="3.69" fill="#ff9f81"/>
<rect x="369.27" y="182.69" width="10.24" height="3.69" fill="#5cb4c0"/>
<rect x="380.06" y="182.69" width="10.24" height="3.69" fill="#fff8c8"/>
<rect x="390.85" y="182.69" width="10.24" height="3.69" fill="#c2e0c8"/>
<rect x="401.64" y="182.69" width="10.24" height="3.69" fill="#fff8c8"/>
<rect x="412.43" y="182.69" width="10.24" height="3.69" fill="#dcebc8"/>
<rect x="423.22" y="182.69" width="10.24" height="3.69" fill="#fff8c8"/>
<rect x="434.01" y="182.69" width="10.24" height="3.69" fill="#92cdc4"/>
<rect x="444.80" y="182.69" width="10.24" height="3.69" fill="#ff8870"/>
<rect x="455.59" y="182.69" width="10.24" height="3.69" fill="#ffae8c"/>
<rect x="466.38" y="182.69" width="10.24" height="3.69" fill="#ff977b"/>
<rect x="369.27" y="186.94" width="10.24" height="3.69" fill="#82c7c1"/>
<rect x="380.06" y="186.94" width="10.24" height="3.69" fill="#fff8c8"/>
<rect x="390.85" y="186.94" width="10.24" height="3.69" fill="#c2e0c8"/>
<rect x="401.64" y="186.94" width="10.24" height="3.69" fill="#fee2b4"/>
<rect x="412.43" y="186.94" width="10.24" height="3.69" fill="#fff8c8"/>
<rect x="423.22" y="186.94" width="10.24" height="3.69" fill="#fffac9"/>
<rect x="434.01" y="186.94" width="10.24" height="3.69" fill="#70bec0"/>
<rect x="444.80" y="186.94" width="10.24" height="3.69" fill="#ff9f81"/>
<rect x="455.59" y="186.94" width="10.24" height="3.69" fill="#ff9f81"/>
<rect x="466.38" y="186.94" width="10.24" height="3.69" fill="#ff977b"/>
<rect x="369.27" y="191.18" width="10.24" height="3.69" fill="#92cdc4"/>
<rect x="380.06" y="191.18" width="10.24" height="3.69" fill="#ff7561"/>
<rect x="390.85" y="191.18" width="10.24" height="3.69" fill="#fff8c8"/>
<rect x="401.64" y="191.18" width="10.24" height="3.69" fill="#ff6856"/>
<rect x="412.43" y="191.18" width="10.24" height="3.69" fill="#fed8ac"/>
<rect x="423.22" y="191.18" width="10.24" height="3.69" fill="#dcebc8"/>
<rect x="434.01" y="191.18" width="10.24" height="3.69" fill="#dcebc8"/>
<rect x="444.80" y="191.18" width="10.24" height="3.69" fill="#dcebc8"/>
<rect x="455.59" y="191.18" width="10.24" height="3.69" fill="#92cdc4"/>
<rect x="466.38" y="191.18" width="10.24" height="3.69" fill="#92cdc4"/>
<rect x="369.27" y="195.42" width="10.24" height="3.69" fill="#ffc39c"/>
<rect x="380.06" y="195.42" width="10.24" height="3.69" fill="#fff8c8"/>
<rect x="390.85" y="195.42" width="10.24" height="3.69" fill="#fffac9"/>
<rect x="401.64" y="195.42" width="10.24" height="3.69" fill="#ff5446"/>
<rect x="412.43" y="195.42" width="10.24" height="3.69" fill="#fecda4"/>
<rect x="423.22" y="195.42" width="10.24" height="3.69" fill="#fffac9"/>
<rect x="434.01" y="195.42" width="10.24" height="3.69" fill="#e5f0c9"/>
<rect x="444.80" y="195.42" width="10.24" height="3.69" fill="#e5f0c9"/>
<rect x="455.59" y="195.42" width="10.24" height="3.69" fill="#92cdc4"/>
<rect x="466.38" y="195.42" width="10.24" height="3.69" fill="#92cdc4"/>
<rect x="369.27" y="199.66" width="10.24" height="3.69" fill="#ff9f81"/>
<rect x="380.06" y="199.66" width="10.24" height="3.69" fill="#ff9f81"/>
<rect x="390.85" y="199.66" width="10.24" height="3.69" fill="#ffb894"/>
<rect x="401.64" y="199.66" width="10.24" height="3.69" fill="#fff8c8"/>
<rect x="412.43" y="199.66" width="10.24" height="3.69" fill="#fecda4"/>
<rect x="423.22" y="199.66" width="10.24" height="3.69" fill="#e5f0c9"/>
<rect x="434.01" y="199.66" width="10.24" height="3.69" fill="#c2e0c8"/>
<rect x="444.80" y="199.66" width="10.24" height="3.69" fill="#fff8c8"/>
<rect x="455.59" y="199.66" width="10.24" height="3.69" fill="#5cb4c0"/>
<rect x="466.38" y="199.66" width="10.24" height="3.69" fill="#5cb4c0"/>
<rect x="369.27" y="203.91" width="10.24" height="3.69" fill="#ff9f81"/>
<rect x="380.06" y="203.91" width="10.24" height="3.69" fill="#ff9f81"/>
<rect x="390.85" y="203.91" width="10.24" height="3.69" fill="#3ca3c0"/>
<rect x="401.64" y="203.91" width="10.24" height="3.69" fill="#fff8c8"/>
<rect x="412.43" y="203.91" width="10.24" height="3.69" fill="#fff8c8"/>
<rect x="423.22" y="203.91" width="10.24" height="3.69" fill="#ff977b"/>
<rect x="434.01" y="203.91" width="10.24" height="3.69" fill="#ff977b"/>
<rect x="444.80" y="203.91" width="10.24" height="3.69" fill="#dcebc8"/>
<rect x="455.59" y="203.91" width="10.24" height="3.69" fill="#c2e0c8"/>
<rect x="466.38" y="203.91" width="10.24" height="3.69" fill="#c2e0c8"/>
<rect x="369.27" y="208.15" width="10.24" height="3.69" fill="#ff9f81"/>
<rect x="380.06" y="208.15" width="10.24" height="3.69" fill="#ff9f81"/>
<rect x="390.85" y="208.15" width="10.24" height="3.69" fill="#339ec1"/>
<rect x="401.64" y="208.15" width="10.24" height="3.69" fill="#dcebc8"/>
<rect x="412.43" y="208.15" width="10.24" height="3.69" fill="#fff8c8"/>
<rect x="423.22" y="208.15" width="10.24" height="3.69" fill="#ffc39c"/>
<rect x="434.01" y="208.15" width="10.24" height="3.69" fill="#ff977b"/>
<rect x="444.80" y="208.15" width="10.24" height="3.69" fill="#c2e0c8"/>
<rect x="455.59" y="208.15" width="10.24" height="3.69" fill="#b5dbc8"/>
<rect x="466.38" y="208.15" width="10.24" height="3.69" fill="#c2e0c8"/>
<rect x="369.27" y="212.40" width="10.24" height="3.69" fill="#fee7b9"/>
<rect x="380.06" y="212.40" width="10.24" height="3.69" fill="#ff322a"/>
<rect x="390.85" y="212.40" width="10.24" height="3.69" fill="#e5f0c9"/>
<rect x="401.64" y="212.40" width="10.24" height="3.69" fill="#cfe6c8"/>
<rect x="412.43" y="212.40" width="10.24" height="3.69" fill="#c2e0c8"/>
<rect x="423.22" y="212.40" width="10.24" height="3.69" fill="#fed8ac"/>
<rect x="434.01" y="212.40" width="10.24" height="3.69" fill="#fffac9"/>
<rect x="444.80" y="212.40" width="10.24" height="3.69" fill="#b5dbc8"/>
<rect x="455.59" y="212.40" width="10.24" height="3.69" fill="#c2e0c8"/>
<rect x="466.38" y="212.40" width="10.24" height="3.69" fill="#dcebc8"/>
<rect x="369.27" y="216.64" width="10.24" height="3.69" fill="#ff9f81"/>
<rect x="380.06" y="216.64" width="10.24" height="3.69" fill="#ff8870"/>
<rect x="390.85" y="216.64" width="10.24" height="3.69" fill="#a8d6c8"/>
<rect x="401.64" y="216.64" width="10.24" height="3.69" fill="#b5dbc8"/>
<rect x="412.43" y="216.64" width="10.24" height="3.69" fill="#b5dbc8"/>
<rect x="423.22" y="216.64" width="10.24" height="3.69" fill="#ffc39c"/>
<rect x="434.01" y="216.64" width="10.24" height="3.69" fill="#fff8c8"/>
<rect x="444.80" y="216.64" width="10.24" height="3.69" fill="#3ca3c0"/>
<rect x="455.59" y="216.64" width="10.24" height="3.69" fill="#dcebc8"/>
<rect x="466.38" y="216.64" width="10.24" height="3.69" fill="#fff8c8"/>
<rect x="369.27" y="220.88" width="10.24" height="3.69" fill="#ff9f81"/>
<rect x="380.06" y="220.88" width="10.24" height="3.69" fill="#ff8870"/>
<rect x="390.85" y="220.88" width="10.24" height="3.69" fill="#a8d6c8"/>
<rect x="401.64" y="220.88" width="10.24" height="3.69" fill="#a8d6c8"/>
<rect x="412.43" y="220.88" width="10.24" height="3.69" fill="#b5dbc8"/>
<rect x="423.22" y="220.88" width="10.24" height="3.69" fill="#ffc39c"/>
<rect x="434.01" y="220.88" width="10.24" height="3.69" fill="#fff8c8"/>
<rect x="444.80" y="220.88" width="10.24" height="3.69" fill="#5cb4c0"/>
<rect x="455.59" y="220.88" width="10.24" height="3.69" fill="#dcebc8"/>
<rect x="466.38" y="220.88" width="10.24" height="3.69" fill="#e5f0c9"/>
<rect x="369.27" y="225.12" width="10.24" height="3.69" fill="#ff977b"/>
<rect x="380.06" y="225.12" width="10.24" height="3.69" fill="#ff7561"/>
<rect x="390.85" y="225.12" width="10.24" height="3.69" fill="#a8d6c8"/>
<rect x="401.64" y="225.12" width="10.24" height="3.69" fill="#a8d6c8"/>
<rect x="412.43" y="225.12" width="10.24" height="3.69" fill="#b5dbc8"/>
<rect x="423.22" y="225.12" width="10.24" height="3.69" fill="#ffc39c"/>
<rect x="434.01" y="225.12" width="10.24" height="3.69" fill="#fff8c8"/>
<rect x="444.80" y="225.12" width="10.24" height="3.69" fill="#b5dbc8"/>
<rect x="455.59" y="225.12" width="10.24" height="3.69" fill="#b5dbc8"/>
<rect x="466.38" y="225.12" width="10.24" height="3.69" fill="#a8d6c8"/>
<rect x="369.27" y="229.37" width="10.24" height="3.69" fill="#ff9f81"/>
<rect x="380.06" y="229.37" width="10.24" height="3.69" fill="#ff7561"/>
<rect x="390.85" y="229.37" width="10.24" height="3.69" fill="#a8d6c8"/>
<rect x="401.64" y="229.37" width="10.24" height="3.69" fill="#b5dbc8"/>
<rect x="412.43" y="229.37" width="10.24" height="3.69" fill="#b5dbc8"/>
<rect x="423.22" y="229.37" width="10.24" height="3.69" fill="#fff8c8"/>
<rect x="434.01" y="229.37" width="10.24" height="3.69" fill="#fffac9"/>
<rect x="444.80" y="229.37" width="10.24" height="3.69" fill="#b5dbc8"/>
<rect x="455.59" y="229.37" width="10.24" height="3.69" fill="#b5dbc8"/>
<rect x="466.38" y="229.37" width="10.24" height="3.69" fill="#b5dbc8"/>
<rect x="369.27" y="233.61" width="10.24" height="3.69" fill="#ff977b"/>
<rect x="380.06" y="233.61" width="10.24" height="3.69" fill="#ff5b4c"/>
<rect x="390.85" y="233.61" width="10.24" height="3.69" fill="#b5dbc8"/>
<rect x="401.64" y="233.61" width="10.24" height="3.69" fill="#b5dbc8"/>
<rect x="412.43" y="233.61" width="10.24" height="3.69" fill="#b5dbc8"/>
<rect x="423.22" y="233.61" width="10.24" height="3.69" fill="#fff8c8"/>
<rect x="434.01" y="233.61" width="10.24" height="3.69" fill="#fee2b4"/>
<rect x="444.80" y="233.61" width="10.24" height="3.69" fill="#cfe6c8"/>
<rect x="455.59" y="233.61" width="10.24" height="3.69" fill="#b5dbc8"/>
<rect x="466.38" y="233.61" width="10.24" height="3.69" fill="#b5dbc8"/>
<rect x="369.27" y="237.86" width="10.24" height="3.69" fill="#ff977b"/>
<rect x="380.06" y="237.86" width="10.24" height="3.69" fill="#ff7561"/>
<rect x="390.85" y="237.86" width="10.24" height="3.69" fill="#b5dbc8"/>
<rect x="401.64" y="237.86" width="10.24" height="3.69" fill="#c2e0c8"/>
<rect x="412.43" y="237.86" width="10.24" height="3.69" fill="#cfe6c8"/>
<rect x="423.22" y="237.86" width="10.24" height="3.69" fill="#fffac9"/>
<rect x="434.01" y="237.86" width="10.24" height="3.69" fill="#ffc39c"/>
<rect x="444.80" y="237.86" width="10.24" height="3.69" fill="#cfe6c8"/>
<rect x="455.59" y="237.86" width="10.24" height="3.69" fill="#b5dbc8"/>
<rect x="466.38" y="237.86" width="10.24" height="3.69" fill="#b5dbc8"/>
<rect x="369.27" y="242.10" width="10.24" height="3.69" fill="#ff977b"/>
<rect x="380.06" y="242.10" width="10.24" height="3.69" fill="#ff7561"/>
<rect x="390.85" y="242.10" width="10.24" height="3.69" fill="#b5dbc8"/>
<rect x="401.64" y="242.10" width="10.24" height="3.69" fill="#cfe6c8"/>
<rect x="412.43" y="242.10" width="10.24" height="3.69" fill="#dcebc8"/>
<rect x="423.22" y="242.10" width="10.24" height="3.69" fill="#fff8c8"/>
<rect x="434.01" y="242.10" width="10.24" height="3.69" fill="#fed8ac"/>
<rect x="444.80" y="242.10" width="10.24" height="3.69" fill="#cfe6c8"/>
<rect x="455.59" y="242.10" width="10.24" height="3.69" fill="#c2e0c8"/>
<rect x="466.38" y="242.10" width="10.24" height="3.69" fill="#b5dbc8"/>
<rect x="369.27" y="246.34" width="10.24" height="3.69" fill="#ff977b"/>
<rect x="380.06" y="246.34" width="10.24" height="3.69" fill="#ffc39c"/>
<rect x="390.85" y="246.34" width="10.24" height="3.69" fill="#c2e0c8"/>
<rect x="401.64" y="246.34" width="10.24" height="3.69" fill="#fed8ac"/>
<rect x="412.43" y="246.34" width="10.24" height="3.69" fill="#ff8870"/>
<rect x="423.22" y="246.34" width="10.24" height="3.69" fill="#dcebc8"/>
<rect x="434.01" y="246.34" width="10.24" height="3.69" fill="#fed8ac"/>
<rect x="444.80" y="246.34" width="10.24" height="3.69" fill="#70bec0"/>
<rect x="455.59" y="246.34" width="10.24" height="3.69" fill="#e5f0c9"/>
<rect x="466.38" y="246.34" width="10.24" height="3.69" fill="#5cb4c0"/>
<rect x="369.27" y="250.59" width="10.24" height="3.69" fill="#fff8c8"/>
<rect x="380.06" y="250.59" width="10.24" height="3.69" fill="#ffae8c"/>
<rect x="390.85" y="250.59" width="10.24" height="3.69" fill="#fff8c8"/>
<rect x="401.64" y="250.59" width="10.24" height="3.69" fill="#ffc39c"/>
<rect x="412.43" y="250.59" width="10.24" height="3.69" fill="#ffc39c"/>
<rect x="423.22" y="250.59" width="10.24" height="3.69" fill="#dcebc8"/>
<rect x="434.01" y="250.59" width="10.24" height="3.69" fill="#fff8c8"/>
<rect x="444.80" y="250.59" width="10.24" height="3.69" fill="#339ec1"/>
<rect x="455.59" y="250.59" width="10.24" height="3.69" fill="#c2e0c8"/>
<rect x="466.38" y="250.59" width="10.24" height="3.69" fill="#dcebc8"/>
<rect x="369.27" y="254.83" width="10.24" height="3.69" fill="#e5f0c9"/>
<rect x="380.06" y="254.83" width="10.24" height="3.69" fill="#ffc39c"/>
<rect x="390.85" y="254.83" width="10.24" height="3.69" fill="#dcebc8"/>
<rect x="401.64" y="254.83" width="10.24" height="3.69" fill="#ff8870"/>
<rect x="412.43" y="254.83" width="10.24" height="3.69" fill="#ffc39c"/>
<rect x="423.22" y="254.83" width="10.24" height="3.69" fill="#fff8c8"/>
<rect x="434.01" y="254.83" width="10.24" height="3.69" fill="#fed8ac"/>
<rect x="444.80" y="254.83" width="10.24" height="3.69" fill="#3ca3c0"/>
<rect x="455.59" y="254.83" width="10.24" height="3.69" fill="#b5dbc8"/>
<rect x="466.38" y="254.83" width="10.24" height="3.69" fill="#92cdc4"/>
<rect x="369.27" y="259.07" width="10.24" height="3.69" fill="#fff8c8"/>
<rect x="380.06" y="259.07" width="10.24" height="3.69" fill="#fed8ac"/>
<rect x="390.85" y="259.07" width="10.24" height="3.69" fill="#fff8c8"/>
<rect x="401.64" y="259.07" width="10.24" height="3.69" fill="#fed8ac"/>
<rect x="412.43" y="259.07" width="10.24" height="3.69" fill="#ffc39c"/>
<rect x="423.22" y="259.07" width="10.24" height="3.69" fill="#fff8c8"/>
<rect x="434.01" y="259.07" width="10.24" height="3.69" fill="#fff8c8"/>
<rect x="444.80" y="259.07" width="10.24" height="3.69" fill="#3ca3c0"/>
<rect x="455.59" y="259.07" width="10.24" height="3.69" fill="#c2e0c8"/>
<rect x="466.38" y="259.07" width="10.24" height="3.69" fill="#a8d6c8"/>
<rect x="369.27" y="263.31" width="10.24" height="3.69" fill="#fff8c8"/>
<rect x="380.06" y="263.31" width="10.24" height="3.69" fill="#fff8c8"/>
<rect x="390.85" y="263.31" width="10.24" height="3.69" fill="#fff8c8"/>
<rect x="401.64" y="263.31" width="10.24" height="3.69" fill="#9dd2c6"/>
<rect x="412.43" y="263.31" width="10.24" height="3.69" fill="#fecda4"/>
<rect x="423.22" y="263.31" width="10.24" height="3.69" fill="#ff7561"/>
<rect x="434.01" y="263.31" width="10.24" height="3.69" fill="#ff977b"/>
<rect x="444.80" y="263.31" width="10.24" height="3.69" fill="#5cb4c0"/>
<rect x="455.59" y="263.31" width="10.24" height="3.69" fill="#dcebc8"/>
<rect x="466.38" y="263.31" width="10.24" height="3.69" fill="#9dd2c6"/>
<rect x="369.27" y="267.56" width="10.24" height="3.69" fill="#ff9f81"/>
<rect x="380.06" y="267.56" width="10.24" height="3.69" fill="#ff8870"/>
<rect x="390.85" y="267.56" width="10.24" height="3.69" fill="#fecda4"/>
<rect x="401.64" y="267.56" width="10.24" height="3.69" fill="#fff8c8"/>
<rect x="412.43" y="267.56" width="10.24" height="3.69" fill="#fed8ac"/>
<rect x="423.22" y="267.56" width="10.24" height="3.69" fill="#3ca3c0"/>
<rect x="434.01" y="267.56" width="10.24" height="3.69" fill="#fff8c8"/>
<rect x="444.80" y="267.56" width="10.24" height="3.69" fill="#70bec0"/>
<rect x="455.59" y="267.56" width="10.24" height="3.69" fill="#dcebc8"/>
<rect x="466.38" y="267.56" width="10.24" height="3.69" fill="#b5dbc8"/>
<rect x="369.27" y="271.80" width="10.24" height="3.69" fill="#ff9f81"/>
<rect x="380.06" y="271.80" width="10.24" height="3.69" fill="#ff8870"/>
<rect x="390.85" y="271.80" width="10.24" height="3.69" fill="#fecda4"/>
<rect x="401.64" y="271.80" width="10.24" height="3.69" fill="#fff8c8"/>
<rect x="412.43" y="271.80" width="10.24" height="3.69" fill="#fed8ac"/>
<rect x="423.22" y="271.80" width="10.24" height="3.69" fill="#3ca3c0"/>
<rect x="434.01" y="271.80" width="10.24" height="3.69" fill="#fff8c8"/>
<rect x="444.80" y="271.80" width="10.24" height="3.69" fill="#70bec0"/>
<rect x="455.59" y="271.80" width="10.24" height="3.69" fill="#dcebc8"/>
<rect x="466.38" y="271.80" width="10.24" height="3.69" fill="#b5dbc8"/>
<rect x="369.27" y="276.04" width="10.24" height="3.69" fill="#dcebc8"/>
<rect x="380.06" y="276.04" width="10.24" height="3.69" fill="#ffc39c"/>
<rect x="390.85" y="276.04" width="10.24" height="3.69" fill="#fff8c8"/>
<rect x="401.64" y="276.04" width="10.24" height="3.69" fill="#9dd2c6"/>
<rect x="412.43" y="276.04" width="10.24" height="3.69" fill="#ff9f81"/>
<rect x="423.22" y="276.04" width="10.24" height="3.69" fill="#fff8c8"/>
<rect x="434.01" y="276.04" width="10.24" height="3.69" fill="#fed8ac"/>
<rect x="444.80" y="276.04" width="10.24" height="3.69" fill="#b5dbc8"/>
<rect x="455.59" y="276.04" width="10.24" height="3.69" fill="#92cdc4"/>
<rect x="466.38" y="276.04" width="10.24" height="3.69" fill="#fff8c8"/>
<rect x="369.27" y="280.29" width="10.24" height="3.69" fill="#ff9f81"/>
<rect x="380.06" y="280.29" width="10.24" height="3.69" fill="#ff7561"/>
<rect x="390.85" y="280.29" width="10.24" height="3.69" fill="#fecda4"/>
<rect x="401.64" y="280.29" width="10.24" height="3.69" fill="#92cdc4"/>
<rect x="412.43" y="280.29" width="10.24" height="3.69" fill="#fffac9"/>
<rect x="423.22" y="280.29" width="10.24" height="3.69" fill="#e5f0c9"/>
<rect x="434.01" y="280.29" width="10.24" height="3.69" fill="#fed8ac"/>
<rect x="444.80" y="280.29" width="10.24" height="3.69" fill="#70bec0"/>
<rect x="455.59" y="280.29" width="10.24" height="3.69" fill="#b5dbc8"/>
<rect x="466.38" y="280.29" width="10.24" height="3.69" fill="#92cdc4"/>
<rect x="369.27" y="284.53" width="10.24" height="3.69" fill="#ffc39c"/>
<rect x="380.06" y="284.53" width="10.24" height="3.69" fill="#ff9f81"/>
<rect x="390.85" y="284.53" width="10.24" height="3.69" fill="#fff8c8"/>
<rect x="401.64" y="284.53" width="10.24" height="3.69" fill="#70bec0"/>
<rect x="412.43" y="284.53" width="10.24" height="3.69" fill="#fed8ac"/>
<rect x="423.22" y="284.53" width="10.24" height="3.69" fill="#dcebc8"/>
<rect x="434.01" y="284.53" width="10.24" height="3.69" fill="#fee2b4"/>
<rect x="444.80" y="284.53" width="10.24" height="3.69" fill="#82c7c1"/>
<rect x="455.59" y="284.53" width="10.24" height="3.69" fill="#9dd2c6"/>
<rect x="466.38" y="284.53" width="10.24" height="3.69" fill="#82c7c1"/>
<path d="M346.80 40.27L346.80 44.51M346.80 40.27L363.00 40.27M346.80 44.51L363.00 44.51M343.60 36.02L343.60 42.39M343.60 36.02L363.00 36.02M343.60 42.39L346.80 42.39M350.00 52.99L350.00 57.24M350.00 52.99L363.00 52.99M350.00 57.24L363.00 57.24M353.00 65.72L353.00 69.97M353.00 65.72L363.00 65.72M353.00 69.97L363.00 69.97M351.00 61.48L351.00 67.85M351.00 61.48L363.00 61.48M351.00 67.85L353.00 67.85M349.00 55.12L349.00 64.66M349.00 55.12L350.00 55.12M349.00 64.66L351.00 64.66M346.00 48.75L346.00 59.89M346.00 48.75L363.00 48.75M346.00 59.89L349.00 59.89M342.00 39.20L342.00 54.32M342.00 39.20L343.60 39.20M342.00 54.32L346.00 54.32M350.00 78.45L350.00 82.70M350.00 78.45L363.00 78.45M350.00 82.70L363.00 82.70M347.00 74.21L347.00 80.58M347.00 74.21L363.00 74.21M347.00 80.58L350.00 80.58M349.00 86.94L349.00 91.19M349.00 86.94L363.00 86.94M349.00 91.19L363.00 91.19M352.00 99.67L352.00 103.91M352.00 99.67L363.00 99.67M352.00 103.91L363.00 103.91M348.00 95.43L348.00 101.79M348.00 95.43L363.00 95.43M348.00 101.79L352.00 101.79M346.00 89.06L346.00 98.61M346.00 89.06L349.00 89.06M346.00 98.61L348.00 98.61M344.00 77.39L344.00 93.84M344.00 77.39L347.00 77.39M344.00 93.84L346.00 93.84M348.00 108.16L348.00 112.40M348.00 108.16L363.00 108.16M348.00 112.40L363.00 112.40M351.00 120.89L351.00 125.13M351.00 120.89L363.00 120.89M351.00 125.13L363.00 125.13M347.00 116.64L347.00 123.01M347.00 116.64L363.00 116.64M347.00 123.01L351.00 123.01M345.00 110.28L345.00 119.83M345.00 110.28L348.00 110.28M345.00 119.83L347.00 119.83M349.00 129.38L349.00 133.62M349.00 129.38L363.00 129.38M349.00 133.62L363.00 133.62M350.00 137.86L350.00 142.10M350.00 137.86L363.00 137.86M350.00 142.10L363.00 142.10M346.00 131.50L346.00 139.98M346.00 131.50L349.00 131.50M346.00 139.98L350.00 139.98M351.00 150.59L351.00 154.84M351.00 150.59L363.00 150.59M351.00 154.84L363.00 154.84M348.00 146.35L348.00 152.71M348.00 146.35L363.00 146.35M348.00 152.71L351.00 152.71M350.00 159.08L350.00 163.32M350.00 159.08L363.00 159.08M350.00 163.32L363.00 163.32M351.00 167.56L351.00 171.81M351.00 167.56L363.00 167.56M351.00 171.81L363.00 171.81M354.00 180.29L354.00 184.54M354.00 180.29L363.00 180.29M354.00 184.54L363.00 184.54M352.00 182.42L352.00 188.78M352.00 182.42L354.00 182.42M352.00 188.78L363.00 188.78M349.00 176.05L349.00 185.60M349.00 176.05L363.00 176.05M349.00 185.60L352.00 185.60M347.00 169.69L347.00 180.83M347.00 169.69L351.00 169.69M347.00 180.83L349.00 180.83M346.00 161.20L346.00 175.26M346.00 161.20L350.00 161.20M346.00 175.26L347.00 175.26M345.00 149.53L345.00 168.23M345.00 149.53L348.00 149.53M345.00 168.23L346.00 168.23M343.50 135.74L343.50 158.88M343.50 135.74L346.00 135.74M343.50 158.88L345.00 158.88M342.50 115.05L342.50 147.31M342.50 115.05L345.00 115.05M342.50 147.31L343.50 147.31M341.00 85.62L341.00 131.18M341.00 85.62L344.00 85.62M341.00 131.18L342.50 131.18M339.60 46.76L339.60 108.40M339.60 46.76L342.00 46.76M339.60 108.40L341.00 108.40M348.00 197.27L348.00 201.51M348.00 197.27L363.00 197.27M348.00 201.51L363.00 201.51M345.00 193.03L345.00 199.39M345.00 193.03L363.00 193.03M345.00 199.39L348.00 199.39M347.00 205.75L347.00 210.00M347.00 205.75L363.00 205.75M347.00 210.00L363.00 210.00M350.00 218.48L350.00 222.73M350.00 218.48L363.00 218.48M350.00 222.73L363.00 222.73M346.00 214.24L346.00 220.61M346.00 214.24L363.00 214.24M346.00 220.61L350.00 220.61M344.00 207.88L344.00 217.42M344.00 207.88L347.00 207.88M344.00 217.42L346.00 217.42M342.00 196.21L342.00 212.65M342.00 196.21L345.00 196.21M342.00 212.65L344.00 212.65M350.00 231.22L350.00 235.46M350.00 231.22L363.00 231.22M350.00 235.46L363.00 235.46M347.00 226.97L347.00 233.34M347.00 226.97L363.00 226.97M347.00 233.34L350.00 233.34M349.00 243.94L349.00 248.19M349.00 243.94L363.00 243.94M349.00 248.19L363.00 248.19M346.00 239.70L346.00 246.07M346.00 239.70L363.00 239.70M346.00 246.07L349.00 246.07M344.00 230.15L344.00 242.88M344.00 230.15L347.00 230.15M344.00 242.88L346.00 242.88M349.00 252.43L349.00 256.68M349.00 252.43L363.00 252.43M349.00 256.68L363.00 256.68M348.00 260.92L348.00 265.16M348.00 260.92L363.00 260.92M348.00 265.16L363.00 265.16M346.00 254.55L346.00 263.04M346.00 254.55L349.00 254.55M346.00 263.04L348.00 263.04M348.00 269.40L348.00 273.65M348.00 269.40L363.00 269.40M348.00 273.65L363.00 273.65M351.00 282.13L351.00 286.38M351.00 282.13L363.00 282.13M351.00 286.38L363.00 286.38M347.00 277.89L347.00 284.26M347.00 277.89L363.00 277.89M347.00 284.26L351.00 284.26M345.00 271.53L345.00 281.07M345.00 271.53L348.00 271.53M345.00 281.07L347.00 281.07M343.00 258.80L343.00 276.30M343.00 258.80L346.00 258.80M343.00 276.30L345.00 276.30M341.50 236.52L341.50 267.55M341.50 236.52L344.00 236.52M341.50 267.55L343.00 267.55M339.00 204.43L339.00 252.03M339.00 204.43L342.00 204.43M339.00 252.03L341.50 252.03M337.20 77.58L337.20 228.23M337.20 77.58L339.60 77.58M337.20 228.23L339.00 228.23" stroke="#a6a6a6" stroke-width="0.7" fill="none"/>
<text transform="translate(478.60,37.92) scale(1,1.300)" font-family="Liberation Serif" font-size="3.75" font-weight="normal" fill="#1a1a1a" text-anchor="start" stroke="#222" stroke-width="0.08">novel-1016</text>
<text transform="translate(478.60,42.16) scale(1,1.300)" font-family="Liberation Serif" font-size="3.75" font-weight="normal" fill="#1a1a1a" text-anchor="start" stroke="#222" stroke-width="0.08">novel-806</text>
<text transform="translate(478.60,46.41) scale(1,1.300)" font-family="Liberation Serif" font-size="3.75" font-weight="normal" fill="#1a1a1a" text-anchor="start" stroke="#222" stroke-width="0.08">miR-125c-5p</text>
<text transform="translate(478.60,50.65) scale(1,1.300)" font-family="Liberation Serif" font-size="3.75" font-weight="normal" fill="#1a1a1a" text-anchor="start" stroke="#222" stroke-width="0.08">novel-298</text>
<text transform="translate(478.60,54.89) scale(1,1.300)" font-family="Liberation Serif" font-size="3.75" font-weight="normal" fill="#1a1a1a" text-anchor="start" stroke="#222" stroke-width="0.08">miR-2887</text>
<text transform="translate(478.60,59.14) scale(1,1.300)" font-family="Liberation Serif" font-size="3.75" font-weight="normal" fill="#1a1a1a" text-anchor="start" stroke="#222" stroke-width="0.08">miR-263a-5p</text>
<text transform="translate(478.60,63.38) scale(1,1.300)" font-family="Liberation Serif" font-size="3.75" font-weight="normal" fill="#1a1a1a" text-anchor="start" stroke="#222" stroke-width="0.08">miR-148b-5p</text>
<text transform="translate(478.60,67.62) scale(1,1.300)" font-family="Liberation Serif" font-size="3.75" font-weight="normal" fill="#1a1a1a" text-anchor="start" stroke="#222" stroke-width="0.08">miR-24c</text>
<text transform="translate(478.60,71.87) scale(1,1.300)" font-family="Liberation Serif" font-size="3.75" font-weight="normal" fill="#1a1a1a" text-anchor="start" stroke="#222" stroke-width="0.08">miR-99b-5p</text>
<text transform="translate(478.60,76.11) scale(1,1.300)" font-family="Liberation Serif" font-size="3.75" font-weight="normal" fill="#1a1a1a" text-anchor="start" stroke="#222" stroke-width="0.08">novel-6</text>
<text transform="translate(478.60,80.36) scale(1,1.300)" font-family="Liberation Serif" font-size="3.75" font-weight="normal" fill="#1a1a1a" text-anchor="start" stroke="#222" stroke-width="0.08">novel-71</text>
<text transform="translate(478.60,84.60) scale(1,1.300)" font-family="Liberation Serif" font-size="3.75" font-weight="normal" fill="#1a1a1a" text-anchor="start" stroke="#222" stroke-width="0.08">novel-424</text>
<text transform="translate(478.60,88.84) scale(1,1.300)" font-family="Liberation Serif" font-size="3.75" font-weight="normal" fill="#1a1a1a" text-anchor="start" stroke="#222" stroke-width="0.08">novel-176</text>
<text transform="translate(478.60,93.09) scale(1,1.300)" font-family="Liberation Serif" font-size="3.75" font-weight="normal" fill="#1a1a1a" text-anchor="start" stroke="#222" stroke-width="0.08">novel-829</text>
<text transform="translate(478.60,97.33) scale(1,1.300)" font-family="Liberation Serif" font-size="3.75" font-weight="normal" fill="#1a1a1a" text-anchor="start" stroke="#222" stroke-width="0.08">novel-624</text>
<text transform="translate(478.60,101.57) scale(1,1.300)" font-family="Liberation Serif" font-size="3.75" font-weight="normal" fill="#1a1a1a" text-anchor="start" stroke="#222" stroke-width="0.08">novel-167</text>
<text transform="translate(478.60,105.81) scale(1,1.300)" font-family="Liberation Serif" font-size="3.75" font-weight="normal" fill="#1a1a1a" text-anchor="start" stroke="#222" stroke-width="0.08">novel-186</text>
<text transform="translate(478.60,110.06) scale(1,1.300)" font-family="Liberation Serif" font-size="3.75" font-weight="normal" fill="#1a1a1a" text-anchor="start" stroke="#222" stroke-width="0.08">novel-220</text>
<text transform="translate(478.60,114.30) scale(1,1.300)" font-family="Liberation Serif" font-size="3.75" font-weight="normal" fill="#1a1a1a" text-anchor="start" stroke="#222" stroke-width="0.08">novel-113</text>
<text transform="translate(478.60,118.54) scale(1,1.300)" font-family="Liberation Serif" font-size="3.75" font-weight="normal" fill="#1a1a1a" text-anchor="start" stroke="#222" stroke-width="0.08">miR-504</text>
<text transform="translate(478.60,122.79) scale(1,1.300)" font-family="Liberation Serif" font-size="3.75" font-weight="normal" fill="#1a1a1a" text-anchor="start" stroke="#222" stroke-width="0.08">miR-34b-5p</text>
<text transform="translate(478.60,127.03) scale(1,1.300)" font-family="Liberation Serif" font-size="3.75" font-weight="normal" fill="#1a1a1a" text-anchor="start" stroke="#222" stroke-width="0.08">novel-80b</text>
<text transform="translate(478.60,131.28) scale(1,1.300)" font-family="Liberation Serif" font-size="3.75" font-weight="normal" fill="#1a1a1a" text-anchor="start" stroke="#222" stroke-width="0.08">miR-34a-5p</text>
<text transform="translate(478.60,135.52) scale(1,1.300)" font-family="Liberation Serif" font-size="3.75" font-weight="normal" fill="#1a1a1a" text-anchor="start" stroke="#222" stroke-width="0.08">miR-34c-5p</text>
<text transform="translate(478.60,139.76) scale(1,1.300)" font-family="Liberation Serif" font-size="3.75" font-weight="normal" fill="#1a1a1a" text-anchor="start" stroke="#222" stroke-width="0.08">miR-127a</text>
<text transform="translate(478.60,144.00) scale(1,1.300)" font-family="Liberation Serif" font-size="3.75" font-weight="normal" fill="#1a1a1a" text-anchor="start" stroke="#222" stroke-width="0.08">miR-34c-3p</text>
<text transform="translate(478.60,148.25) scale(1,1.300)" font-family="Liberation Serif" font-size="3.75" font-weight="normal" fill="#1a1a1a" text-anchor="start" stroke="#222" stroke-width="0.08">novel-369</text>
<text transform="translate(478.60,152.49) scale(1,1.300)" font-family="Liberation Serif" font-size="3.75" font-weight="normal" fill="#1a1a1a" text-anchor="start" stroke="#222" stroke-width="0.08">miR-193b-5p</text>
<text transform="translate(478.60,156.74) scale(1,1.300)" font-family="Liberation Serif" font-size="3.75" font-weight="normal" fill="#1a1a1a" text-anchor="start" stroke="#222" stroke-width="0.08">novel-12a</text>
<text transform="translate(478.60,160.98) scale(1,1.300)" font-family="Liberation Serif" font-size="3.75" font-weight="normal" fill="#1a1a1a" text-anchor="start" stroke="#222" stroke-width="0.08">miR-1307-3p</text>
<text transform="translate(478.60,165.22) scale(1,1.300)" font-family="Liberation Serif" font-size="3.75" font-weight="normal" fill="#1a1a1a" text-anchor="start" stroke="#222" stroke-width="0.08">novel-40a</text>
<text transform="translate(478.60,169.47) scale(1,1.300)" font-family="Liberation Serif" font-size="3.75" font-weight="normal" fill="#1a1a1a" text-anchor="start" stroke="#222" stroke-width="0.08">miR-370</text>
<text transform="translate(478.60,173.71) scale(1,1.300)" font-family="Liberation Serif" font-size="3.75" font-weight="normal" fill="#1a1a1a" text-anchor="start" stroke="#222" stroke-width="0.08">novel-120b</text>
<text transform="translate(478.60,177.95) scale(1,1.300)" font-family="Liberation Serif" font-size="3.75" font-weight="normal" fill="#1a1a1a" text-anchor="start" stroke="#222" stroke-width="0.08">novel-49</text>
<text transform="translate(478.60,182.19) scale(1,1.300)" font-family="Liberation Serif" font-size="3.75" font-weight="normal" fill="#1a1a1a" text-anchor="start" stroke="#222" stroke-width="0.08">novel-107</text>
<text transform="translate(478.60,186.44) scale(1,1.300)" font-family="Liberation Serif" font-size="3.75" font-weight="normal" fill="#1a1a1a" text-anchor="start" stroke="#222" stroke-width="0.08">novel-103</text>
<text transform="translate(478.60,190.68) scale(1,1.300)" font-family="Liberation Serif" font-size="3.75" font-weight="normal" fill="#1a1a1a" text-anchor="start" stroke="#222" stroke-width="0.08">miR-143-3p</text>
<text transform="translate(478.60,194.93) scale(1,1.300)" font-family="Liberation Serif" font-size="3.75" font-weight="normal" fill="#1a1a1a" text-anchor="start" stroke="#222" stroke-width="0.08">miR-592</text>
<text transform="translate(478.60,199.17) scale(1,1.300)" font-family="Liberation Serif" font-size="3.75" font-weight="normal" fill="#1a1a1a" text-anchor="start" stroke="#222" stroke-width="0.08">novel-139a</text>
<text transform="translate(478.60,203.41) scale(1,1.300)" font-family="Liberation Serif" font-size="3.75" font-weight="normal" fill="#1a1a1a" text-anchor="start" stroke="#222" stroke-width="0.08">miR-3959-3p</text>
<text transform="translate(478.60,207.66) scale(1,1.300)" font-family="Liberation Serif" font-size="3.75" font-weight="normal" fill="#1a1a1a" text-anchor="start" stroke="#222" stroke-width="0.08">miR-1-3p</text>
<text transform="translate(478.60,211.90) scale(1,1.300)" font-family="Liberation Serif" font-size="3.75" font-weight="normal" fill="#1a1a1a" text-anchor="start" stroke="#222" stroke-width="0.08">miR-1</text>
<text transform="translate(478.60,216.14) scale(1,1.300)" font-family="Liberation Serif" font-size="3.75" font-weight="normal" fill="#1a1a1a" text-anchor="start" stroke="#222" stroke-width="0.08">miR-21a</text>
<text transform="translate(478.60,220.38) scale(1,1.300)" font-family="Liberation Serif" font-size="3.75" font-weight="normal" fill="#1a1a1a" text-anchor="start" stroke="#222" stroke-width="0.08">miR-126a</text>
<text transform="translate(478.60,224.63) scale(1,1.300)" font-family="Liberation Serif" font-size="3.75" font-weight="normal" fill="#1a1a1a" text-anchor="start" stroke="#222" stroke-width="0.08">miR-12a-3p</text>
<text transform="translate(478.60,228.87) scale(1,1.300)" font-family="Liberation Serif" font-size="3.75" font-weight="normal" fill="#1a1a1a" text-anchor="start" stroke="#222" stroke-width="0.08">miR-660</text>
<text transform="translate(478.60,233.12) scale(1,1.300)" font-family="Liberation Serif" font-size="3.75" font-weight="normal" fill="#1a1a1a" text-anchor="start" stroke="#222" stroke-width="0.08">miR-13b</text>
<text transform="translate(478.60,237.36) scale(1,1.300)" font-family="Liberation Serif" font-size="3.75" font-weight="normal" fill="#1a1a1a" text-anchor="start" stroke="#222" stroke-width="0.08">miR-154a</text>
<text transform="translate(478.60,241.60) scale(1,1.300)" font-family="Liberation Serif" font-size="3.75" font-weight="normal" fill="#1a1a1a" text-anchor="start" stroke="#222" stroke-width="0.08">miR-509</text>
<text transform="translate(478.60,245.84) scale(1,1.300)" font-family="Liberation Serif" font-size="3.75" font-weight="normal" fill="#1a1a1a" text-anchor="start" stroke="#222" stroke-width="0.08">miR-509a-5p</text>
<text transform="translate(478.60,250.09) scale(1,1.300)" font-family="Liberation Serif" font-size="3.75" font-weight="normal" fill="#1a1a1a" text-anchor="start" stroke="#222" stroke-width="0.08">novel-13b</text>
<text transform="translate(478.60,254.33) scale(1,1.300)" font-family="Liberation Serif" font-size="3.75" font-weight="normal" fill="#1a1a1a" text-anchor="start" stroke="#222" stroke-width="0.08">miR-196a-5p</text>
<text transform="translate(478.60,258.57) scale(1,1.300)" font-family="Liberation Serif" font-size="3.75" font-weight="normal" fill="#1a1a1a" text-anchor="start" stroke="#222" stroke-width="0.08">miR-9985</text>
<text transform="translate(478.60,262.82) scale(1,1.300)" font-family="Liberation Serif" font-size="3.75" font-weight="normal" fill="#1a1a1a" text-anchor="start" stroke="#222" stroke-width="0.08">miR-374a</text>
<text transform="translate(478.60,267.06) scale(1,1.300)" font-family="Liberation Serif" font-size="3.75" font-weight="normal" fill="#1a1a1a" text-anchor="start" stroke="#222" stroke-width="0.08">miR-323</text>
<text transform="translate(478.60,271.30) scale(1,1.300)" font-family="Liberation Serif" font-size="3.75" font-weight="normal" fill="#1a1a1a" text-anchor="start" stroke="#222" stroke-width="0.08">miR-9a</text>
<text transform="translate(478.60,275.55) scale(1,1.300)" font-family="Liberation Serif" font-size="3.75" font-weight="normal" fill="#1a1a1a" text-anchor="start" stroke="#222" stroke-width="0.08">miR-9-3p</text>
<text transform="translate(478.60,279.79) scale(1,1.300)" font-family="Liberation Serif" font-size="3.75" font-weight="normal" fill="#1a1a1a" text-anchor="start" stroke="#222" stroke-width="0.08">miR-505-5p</text>
<text transform="translate(478.60,284.03) scale(1,1.300)" font-family="Liberation Serif" font-size="3.75" font-weight="normal" fill="#1a1a1a" text-anchor="start" stroke="#222" stroke-width="0.08">miR-196b-5p</text>
<text transform="translate(478.60,288.28) scale(1,1.300)" font-family="Liberation Serif" font-size="3.75" font-weight="normal" fill="#1a1a1a" text-anchor="start" stroke="#222" stroke-width="0.08">novel-241</text>
<text transform="translate(376.79,292.60) rotate(-45)" font-family="Liberation Serif" font-size="5.2" font-weight="normal" fill="#444" stroke="#444" stroke-width="0.08" text-anchor="end">CBHF4F</text>
<text transform="translate(387.58,292.60) rotate(-45)" font-family="Liberation Serif" font-size="5.2" font-weight="normal" fill="#444" stroke="#444" stroke-width="0.08" text-anchor="end">CBHF9M</text>
<text transform="translate(398.38,292.60) rotate(-45)" font-family="Liberation Serif" font-size="5.2" font-weight="normal" fill="#444" stroke="#444" stroke-width="0.08" text-anchor="end">CBHF10M</text>
<text transform="translate(409.16,292.60) rotate(-45)" font-family="Liberation Serif" font-size="5.2" font-weight="normal" fill="#444" stroke="#444" stroke-width="0.08" text-anchor="end">CBHF3F</text>
<text transform="translate(419.95,292.60) rotate(-45)" font-family="Liberation Serif" font-size="5.2" font-weight="normal" fill="#444" stroke="#444" stroke-width="0.08" text-anchor="end">CBHF6F</text>
<text transform="translate(430.74,292.60) rotate(-45)" font-family="Liberation Serif" font-size="5.2" font-weight="normal" fill="#444" stroke="#444" stroke-width="0.08" text-anchor="end">CBHF1M</text>
<text transform="translate(441.53,292.60) rotate(-45)" font-family="Liberation Serif" font-size="5.2" font-weight="normal" fill="#444" stroke="#444" stroke-width="0.08" text-anchor="end">CBHF8M</text>
<text transform="translate(452.32,292.60) rotate(-45)" font-family="Liberation Serif" font-size="5.2" font-weight="normal" fill="#444" stroke="#444" stroke-width="0.08" text-anchor="end">AWHF1M</text>
<text transform="translate(463.11,292.60) rotate(-45)" font-family="Liberation Serif" font-size="5.2" font-weight="normal" fill="#444" stroke="#444" stroke-width="0.08" text-anchor="end">AWHF2M</text>
<text transform="translate(473.90,292.60) rotate(-45)" font-family="Liberation Serif" font-size="5.2" font-weight="normal" fill="#444" stroke="#444" stroke-width="0.08" text-anchor="end">CWHF2M</text>
<defs><linearGradient id="gC" x1="0" y1="0" x2="0" y2="1"><stop offset="0.0000" stop-color="#ff0a0a"/><stop offset="0.1667" stop-color="#ff6050"/><stop offset="0.2500" stop-color="#ff8870"/><stop offset="0.3333" stop-color="#ffae8c"/><stop offset="0.4167" stop-color="#fee2b4"/><stop offset="0.5000" stop-color="#fffdcc"/><stop offset="0.5833" stop-color="#dcebc8"/><stop offset="0.6667" stop-color="#a8d6c8"/><stop offset="0.7500" stop-color="#7cc4c0"/><stop offset="0.8333" stop-color="#45a8c0"/><stop offset="1.0000" stop-color="#0a85c2"/></linearGradient></defs>
<rect x="512.90" y="34.90" width="8.20" height="112.00" fill="url(#gC)"/>
<path d="M521.10 34.90L522.30 34.90" stroke="#222" stroke-width="0.6"/>
<text x="523.20" y="37.20" font-family="Liberation Sans" font-size="6.30" font-weight="bold" fill="#111" text-anchor="start" >3</text>
<path d="M521.10 53.57L522.30 53.57" stroke="#222" stroke-width="0.6"/>
<text x="523.20" y="55.87" font-family="Liberation Sans" font-size="6.30" font-weight="bold" fill="#111" text-anchor="start" >2</text>
<path d="M521.10 72.23L522.30 72.23" stroke="#222" stroke-width="0.6"/>
<text x="523.20" y="74.53" font-family="Liberation Sans" font-size="6.30" font-weight="bold" fill="#111" text-anchor="start" >1</text>
<path d="M521.10 90.90L522.30 90.90" stroke="#222" stroke-width="0.6"/>
<text x="523.20" y="93.20" font-family="Liberation Sans" font-size="6.30" font-weight="bold" fill="#111" text-anchor="start" >0</text>
<path d="M521.10 109.57L522.30 109.57" stroke="#222" stroke-width="0.6"/>
<text x="521.10" y="111.87" font-family="Liberation Sans" font-size="6.30" font-weight="bold" fill="#111" text-anchor="start" >-</text>
<text x="523.30" y="111.87" font-family="Liberation Sans" font-size="6.30" font-weight="bold" fill="#111" text-anchor="start" >1</text>
<path d="M521.10 128.23L522.30 128.23" stroke="#222" stroke-width="0.6"/>
<text x="521.10" y="130.53" font-family="Liberation Sans" font-size="6.30" font-weight="bold" fill="#111" text-anchor="start" >-</text>
<text x="523.30" y="130.53" font-family="Liberation Sans" font-size="6.30" font-weight="bold" fill="#111" text-anchor="start" >2</text>
<path d="M521.10 146.90L522.30 146.90" stroke="#222" stroke-width="0.6"/>
<text x="521.10" y="149.20" font-family="Liberation Sans" font-size="6.30" font-weight="bold" fill="#111" text-anchor="start" >-</text>
<text x="523.30" y="149.20" font-family="Liberation Sans" font-size="6.30" font-weight="bold" fill="#111" text-anchor="start" >3</text>
<text x="510.90" y="172.10" font-family="Liberation Sans" font-size="7.30" font-weight="bold" fill="#000" text-anchor="start" >miRNA</text>
<rect x="510.8" y="175.5" width="9.7" height="5.9" fill="#fa9a5e"/>
<rect x="510.8" y="181.4" width="9.7" height="6.3" fill="#fdca69"/>
<text x="522.30" y="180.50" font-family="Liberation Sans" font-size="5.30" font-weight="normal" fill="#444" text-anchor="start" >Up</text>
<text x="522.30" y="186.70" font-family="Liberation Sans" font-size="5.30" font-weight="normal" fill="#444" text-anchor="start" >Down</text>
<text x="510.70" y="206.00" font-family="Liberation Sans" font-size="7.30" font-weight="bold" fill="#000" text-anchor="start" >Groups</text>
<rect x="502.4" y="209.2" width="10.2" height="5.9" fill="#e3f36b"/>
<rect x="502.4" y="215.1" width="10.2" height="5.9" fill="#3fb39b"/>
<text x="513.40" y="213.90" font-family="Liberation Sans" font-size="4.95" font-weight="normal" fill="#444" text-anchor="start" >Catagen stage</text>
<text x="513.40" y="220.00" font-family="Liberation Sans" font-size="4.95" font-weight="normal" fill="#444" text-anchor="start" >Anagen stage</text>
</svg>
</body></html>
